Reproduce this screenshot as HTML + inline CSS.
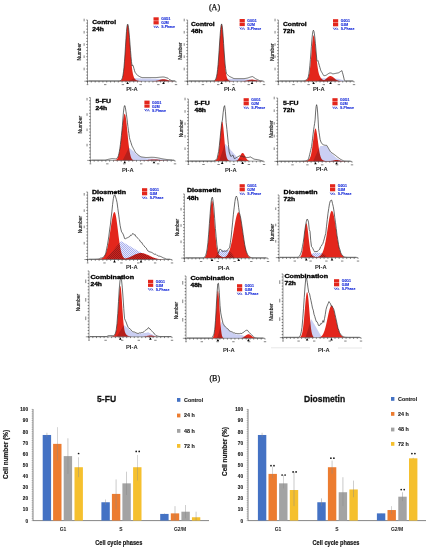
<!DOCTYPE html>
<html><head><meta charset="utf-8"><style>
html,body{margin:0;padding:0;background:#fff;}
svg{display:block;font-family:"Liberation Sans",sans-serif;}
</style></head><body>
<svg width="430" height="550" viewBox="0 0 430 550">
<defs><pattern id="hatch" x="0" y="0" width="2" height="2" patternUnits="userSpaceOnUse">
<rect width="1" height="1" fill="#bac1f2"/><rect x="1" y="1" width="1" height="1" fill="#bac1f2"/></pattern></defs>
<rect width="430" height="550" fill="#fff"/>
<text x="214.5" y="9.6" font-family="Liberation Serif" font-size="8.0" text-anchor="middle" fill="#111" stroke="#111" stroke-width="0.25">(A)</text>
<path d="M88.50 81.20 L88.50 81.20 L89.00 81.20 L89.50 81.20 L90.00 81.20 L90.50 81.20 L91.00 81.20 L91.50 81.20 L92.00 81.20 L92.50 81.20 L93.00 81.20 L93.50 81.20 L94.00 81.20 L94.50 81.20 L95.00 81.20 L95.50 81.20 L96.00 81.20 L96.50 81.20 L97.00 81.20 L97.50 81.20 L98.00 81.20 L98.50 81.20 L99.00 81.20 L99.50 81.20 L100.00 81.20 L100.50 81.20 L101.00 81.20 L101.50 81.20 L102.00 81.20 L102.50 81.20 L103.00 81.20 L103.50 81.20 L104.00 81.20 L104.50 81.20 L105.00 81.20 L105.50 81.20 L106.00 81.20 L106.50 81.20 L107.00 81.20 L107.50 81.20 L108.00 81.20 L108.50 81.20 L109.00 81.20 L109.50 81.20 L110.00 81.20 L110.50 81.20 L111.00 81.20 L111.50 81.20 L112.00 81.20 L112.50 81.20 L113.00 81.20 L113.50 81.20 L114.00 81.20 L114.50 81.20 L115.00 81.20 L115.50 81.20 L116.00 81.20 L116.50 81.20 L117.00 81.20 L117.50 81.19 L118.00 81.18 L118.50 81.17 L119.00 81.15 L119.50 81.10 L120.00 81.02 L120.50 80.86 L121.00 80.57 L121.50 80.05 L122.00 79.16 L122.50 77.70 L123.00 75.43 L123.50 72.08 L124.00 67.45 L124.50 61.47 L125.00 54.31 L125.50 46.43 L126.00 38.57 L126.50 31.69 L127.00 26.73 L127.50 24.43 L128.00 24.94 L128.50 27.74 L129.00 32.40 L129.50 38.36 L130.00 45.00 L130.50 51.70 L131.00 57.96 L131.50 63.43 L132.00 67.95 L132.50 71.50 L133.00 74.16 L133.50 76.10 L134.00 77.47 L134.50 78.43 L135.00 79.10 L135.50 79.58 L136.00 79.93 L136.50 80.20 L137.00 80.40 L137.50 80.57 L138.00 80.71 L138.50 80.82 L139.00 80.90 L139.50 80.97 L140.00 81.03 L140.50 81.07 L141.00 81.11 L141.50 81.13 L142.00 81.15 L142.50 81.17 L143.00 81.18 L143.50 81.18 L144.00 81.19 L144.50 81.19 L145.00 81.19 L145.50 81.20 L146.00 81.20 L146.50 81.20 L147.00 81.20 L147.50 81.20 L148.00 81.20 L148.50 81.20 L149.00 81.20 L149.50 81.20 L150.00 81.20 L150.50 81.20 L151.00 81.20 L151.50 81.20 L152.00 81.20 L152.50 81.20 L153.00 81.20 L153.50 81.20 L154.00 81.20 L154.50 81.20 L155.00 81.20 L155.50 81.20 L156.00 81.20 L156.50 81.20 L157.00 81.20 L157.50 81.20 L158.00 81.20 L158.50 81.20 L159.00 81.20 L159.50 81.20 L160.00 81.20 L160.50 81.20 L161.00 81.20 L161.50 81.20 L162.00 81.20 L162.50 81.20 L163.00 81.20 L163.50 81.20 L164.00 81.20 L164.50 81.20 L165.00 81.20 L165.50 81.20 L166.00 81.20 L166.50 81.20 L167.00 81.20 L167.50 81.20 L168.00 81.20 L168.50 81.20 L169.00 81.20 L169.50 81.20 L170.00 81.20 L170.50 81.20 L171.00 81.20 L171.50 81.20 L172.00 81.20 L172.50 81.20 L173.00 81.20 L173.50 81.20 L174.00 81.20 L174.50 81.20 L175.00 81.20 L175.00 81.20 Z" fill="#e3261c"/>
<path d="M88.50 81.20 L88.50 81.20 L89.00 81.20 L89.50 81.20 L90.00 81.20 L90.50 81.20 L91.00 81.20 L91.50 81.20 L92.00 81.20 L92.50 81.20 L93.00 81.20 L93.50 81.20 L94.00 81.20 L94.50 81.20 L95.00 81.20 L95.50 81.20 L96.00 81.20 L96.50 81.20 L97.00 81.20 L97.50 81.20 L98.00 81.20 L98.50 81.20 L99.00 81.20 L99.50 81.20 L100.00 81.20 L100.50 81.20 L101.00 81.20 L101.50 81.20 L102.00 81.20 L102.50 81.20 L103.00 81.20 L103.50 81.20 L104.00 81.20 L104.50 81.20 L105.00 81.20 L105.50 81.20 L106.00 81.20 L106.50 81.20 L107.00 81.20 L107.50 81.20 L108.00 81.20 L108.50 81.20 L109.00 81.20 L109.50 81.20 L110.00 81.20 L110.50 81.20 L111.00 81.20 L111.50 81.20 L112.00 81.20 L112.50 81.20 L113.00 81.20 L113.50 81.20 L114.00 81.20 L114.50 81.20 L115.00 81.20 L115.50 81.20 L116.00 81.20 L116.50 81.20 L117.00 81.20 L117.50 81.20 L118.00 81.20 L118.50 81.20 L119.00 81.20 L119.50 81.20 L120.00 81.20 L120.50 81.20 L121.00 81.20 L121.50 81.20 L122.00 81.20 L122.50 81.20 L123.00 81.20 L123.50 81.20 L124.00 81.20 L124.50 81.20 L125.00 81.20 L125.50 81.20 L126.00 81.20 L126.50 81.20 L127.00 81.20 L127.50 81.20 L128.00 81.20 L128.50 81.20 L129.00 81.20 L129.50 81.20 L130.00 81.20 L130.50 81.20 L131.00 81.20 L131.50 81.20 L132.00 81.20 L132.50 81.20 L133.00 81.20 L133.50 81.20 L134.00 81.20 L134.50 81.20 L135.00 81.20 L135.50 81.20 L136.00 81.20 L136.50 81.20 L137.00 81.20 L137.50 81.20 L138.00 81.20 L138.50 81.20 L139.00 81.20 L139.50 81.20 L140.00 81.20 L140.50 81.20 L141.00 81.20 L141.50 81.20 L142.00 81.20 L142.50 81.20 L143.00 81.20 L143.50 81.20 L144.00 81.20 L144.50 81.20 L145.00 81.20 L145.50 81.20 L146.00 81.20 L146.50 81.20 L147.00 81.20 L147.50 81.20 L148.00 81.20 L148.50 81.20 L149.00 81.20 L149.50 81.20 L150.00 81.19 L150.50 81.19 L151.00 81.18 L151.50 81.18 L152.00 81.17 L152.50 81.15 L153.00 81.14 L153.50 81.11 L154.00 81.08 L154.50 81.04 L155.00 80.99 L155.50 80.93 L156.00 80.86 L156.50 80.77 L157.00 80.67 L157.50 80.55 L158.00 80.42 L158.50 80.28 L159.00 80.14 L159.50 79.99 L160.00 79.84 L160.50 79.69 L161.00 79.55 L161.50 79.44 L162.00 79.34 L162.50 79.26 L163.00 79.22 L163.50 79.20 L164.00 79.22 L164.50 79.26 L165.00 79.34 L165.50 79.44 L166.00 79.55 L166.50 79.69 L167.00 79.84 L167.50 79.99 L168.00 80.14 L168.50 80.28 L169.00 80.42 L169.50 80.55 L170.00 80.67 L170.50 80.77 L171.00 80.86 L171.50 80.93 L172.00 80.99 L172.50 81.04 L173.00 81.08 L173.50 81.11 L174.00 81.14 L174.50 81.15 L175.00 81.17 L175.00 81.20 Z" fill="#e3261c"/>
<path d="M88.50 81.20 L88.50 81.20 L89.00 81.20 L89.50 81.20 L90.00 81.20 L90.50 81.20 L91.00 81.20 L91.50 81.20 L92.00 81.20 L92.50 81.20 L93.00 81.20 L93.50 81.20 L94.00 81.20 L94.50 81.20 L95.00 81.20 L95.50 81.20 L96.00 81.20 L96.50 81.20 L97.00 81.20 L97.50 81.20 L98.00 81.20 L98.50 81.20 L99.00 81.20 L99.50 81.20 L100.00 81.20 L100.50 81.20 L101.00 81.20 L101.50 81.20 L102.00 81.20 L102.50 81.20 L103.00 81.20 L103.50 81.20 L104.00 81.20 L104.50 81.20 L105.00 81.20 L105.50 81.20 L106.00 81.20 L106.50 81.20 L107.00 81.20 L107.50 81.20 L108.00 81.20 L108.50 81.20 L109.00 81.20 L109.50 81.20 L110.00 81.20 L110.50 81.20 L111.00 81.20 L111.50 81.20 L112.00 81.20 L112.50 81.20 L113.00 81.20 L113.50 81.20 L114.00 81.20 L114.50 81.20 L115.00 81.20 L115.50 81.20 L116.00 81.20 L116.50 81.20 L117.00 81.20 L117.50 81.20 L118.00 81.20 L118.50 81.20 L119.00 81.20 L119.50 81.20 L120.00 81.20 L120.50 81.20 L121.00 81.20 L121.50 81.20 L122.00 81.20 L122.50 81.20 L123.00 81.20 L123.50 81.20 L124.00 81.20 L124.50 81.20 L125.00 81.20 L125.50 81.20 L126.00 81.20 L126.50 81.20 L127.00 81.20 L127.50 81.20 L128.00 81.20 L128.50 81.20 L129.00 81.20 L129.50 80.90 L130.00 80.60 L130.50 80.30 L131.00 80.00 L131.50 79.70 L132.00 79.40 L132.50 79.10 L133.00 78.80 L133.50 78.50 L134.00 78.20 L134.50 78.21 L135.00 78.23 L135.50 78.24 L136.00 78.25 L136.50 78.26 L137.00 78.28 L137.50 78.29 L138.00 78.30 L138.50 78.31 L139.00 78.33 L139.50 78.34 L140.00 78.35 L140.50 78.36 L141.00 78.38 L141.50 78.39 L142.00 78.40 L142.50 78.41 L143.00 78.42 L143.50 78.44 L144.00 78.45 L144.50 78.46 L145.00 78.48 L145.50 78.49 L146.00 78.50 L146.50 78.51 L147.00 78.53 L147.50 78.54 L148.00 78.55 L148.50 78.56 L149.00 78.58 L149.50 78.59 L150.00 78.60 L150.50 78.61 L151.00 78.62 L151.50 78.64 L152.00 78.65 L152.50 78.66 L153.00 78.67 L153.50 78.69 L154.00 78.70 L154.50 78.71 L155.00 78.73 L155.50 78.74 L156.00 78.75 L156.50 78.76 L157.00 78.78 L157.50 78.79 L158.00 78.80 L158.50 78.85 L159.00 78.90 L159.50 78.95 L160.00 79.00 L160.50 79.05 L161.00 79.10 L161.50 79.15 L162.00 79.20 L162.50 79.25 L163.00 79.30 L163.50 79.35 L164.00 79.40 L164.50 79.45 L165.00 79.50 L165.50 79.55 L166.00 79.60 L166.50 79.73 L167.00 79.87 L167.50 80.00 L168.00 80.13 L168.50 80.27 L169.00 80.40 L169.50 80.53 L170.00 80.67 L170.50 80.80 L171.00 80.93 L171.50 81.07 L172.00 81.20 L172.50 81.20 L173.00 81.20 L173.50 81.20 L174.00 81.20 L174.50 81.20 L175.00 81.20 L175.00 81.20 Z" fill="#cbcff3" style="mix-blend-mode:multiply"/>
<path d="M88.50 80.90 L89.00 80.90 L89.50 80.90 L90.00 80.90 L90.50 80.90 L91.00 80.90 L91.50 80.90 L92.00 80.90 L92.50 80.90 L93.00 80.90 L93.50 80.90 L94.00 80.90 L94.50 80.90 L95.00 80.90 L95.50 80.90 L96.00 80.90 L96.50 80.90 L97.00 80.90 L97.50 80.90 L98.00 80.90 L98.50 80.90 L99.00 80.90 L99.50 80.90 L100.00 80.90 L100.50 80.90 L101.00 80.90 L101.50 80.90 L102.00 80.90 L102.50 80.90 L103.00 80.90 L103.50 80.90 L104.00 80.90 L104.50 80.90 L105.00 80.90 L105.50 80.90 L106.00 80.90 L106.50 80.90 L107.00 80.90 L107.50 80.90 L108.00 80.90 L108.50 80.90 L109.00 80.90 L109.50 80.90 L110.00 80.90 L110.50 80.90 L111.00 80.90 L111.50 80.90 L112.00 80.90 L112.50 80.90 L113.00 80.90 L113.50 80.90 L114.00 80.90 L114.50 80.90 L115.00 80.90 L115.50 80.90 L116.00 80.90 L116.50 80.90 L117.00 80.90 L117.50 80.89 L118.00 80.88 L118.50 80.87 L119.00 80.85 L119.50 80.80 L120.00 80.72 L120.50 80.56 L121.00 80.27 L121.50 79.75 L122.00 78.86 L122.50 77.40 L123.00 75.13 L123.50 71.78 L124.00 67.15 L124.50 61.17 L125.00 54.01 L125.50 46.13 L126.00 38.27 L126.50 31.39 L127.00 26.43 L127.50 24.13 L128.00 24.64 L128.50 27.44 L129.00 32.10 L129.50 37.76 L130.00 44.10 L130.50 50.50 L131.00 56.46 L131.50 61.63 L132.00 65.83 L132.50 65.06 L133.00 65.29 L133.50 67.02 L134.00 68.75 L134.50 70.47 L135.00 72.20 L135.50 72.85 L136.00 73.50 L136.50 74.16 L137.00 74.81 L137.50 75.32 L138.00 75.61 L138.50 75.91 L139.00 76.21 L139.50 76.50 L140.00 76.80 L140.50 77.00 L141.00 77.20 L141.50 77.40 L142.00 77.60 L142.50 77.60 L143.00 77.60 L143.50 77.60 L144.00 77.60 L144.50 77.60 L145.00 77.60 L145.50 77.60 L146.00 77.60 L146.50 77.60 L147.00 77.60 L147.50 77.60 L148.00 77.60 L148.50 77.60 L149.00 77.60 L149.50 77.60 L150.00 77.60 L150.50 77.60 L151.00 77.60 L151.50 77.60 L152.00 77.60 L152.50 77.60 L153.00 77.60 L153.50 77.60 L154.00 77.60 L154.50 77.60 L155.00 77.60 L155.50 77.60 L156.00 77.60 L156.50 77.55 L157.00 77.50 L157.50 77.45 L158.00 77.40 L158.50 77.35 L159.00 77.30 L159.50 77.25 L160.00 77.20 L160.50 77.17 L161.00 77.15 L161.50 77.09 L162.00 77.04 L162.50 77.01 L163.00 77.02 L163.50 77.03 L164.00 77.00 L164.50 77.15 L165.00 77.30 L165.50 77.45 L166.00 77.60 L166.50 77.75 L167.00 77.90 L167.50 78.05 L168.00 78.20 L168.50 78.70 L169.00 79.20 L169.50 79.58 L170.00 79.83 L170.50 80.07 L171.00 80.29 L171.50 80.50 L172.00 80.69 L172.50 80.74 L173.00 80.78 L173.50 80.81 L174.00 80.84 L174.50 80.85 L175.00 80.87" fill="none" stroke="#2c2c2c" stroke-width="0.7"/>
<path d="M87.5 20.0 V84.4 M84.3 81.2 H176.0" fill="none" stroke="#555" stroke-width="0.6"/>
<line x1="86.2" y1="81.2" x2="87.5" y2="81.2" stroke="#222" stroke-width="0.55"/>
<line x1="86.2" y1="78.1" x2="87.5" y2="78.1" stroke="#222" stroke-width="0.55"/>
<line x1="86.2" y1="75.1" x2="87.5" y2="75.1" stroke="#222" stroke-width="0.55"/>
<line x1="86.2" y1="72.0" x2="87.5" y2="72.0" stroke="#222" stroke-width="0.55"/>
<line x1="86.2" y1="69.0" x2="87.5" y2="69.0" stroke="#222" stroke-width="0.55"/>
<line x1="86.2" y1="65.9" x2="87.5" y2="65.9" stroke="#222" stroke-width="0.55"/>
<line x1="86.2" y1="62.8" x2="87.5" y2="62.8" stroke="#222" stroke-width="0.55"/>
<line x1="86.2" y1="59.8" x2="87.5" y2="59.8" stroke="#222" stroke-width="0.55"/>
<line x1="86.2" y1="56.7" x2="87.5" y2="56.7" stroke="#222" stroke-width="0.55"/>
<line x1="86.2" y1="53.7" x2="87.5" y2="53.7" stroke="#222" stroke-width="0.55"/>
<line x1="86.2" y1="50.6" x2="87.5" y2="50.6" stroke="#222" stroke-width="0.55"/>
<line x1="86.2" y1="47.5" x2="87.5" y2="47.5" stroke="#222" stroke-width="0.55"/>
<line x1="86.2" y1="44.5" x2="87.5" y2="44.5" stroke="#222" stroke-width="0.55"/>
<line x1="86.2" y1="41.4" x2="87.5" y2="41.4" stroke="#222" stroke-width="0.55"/>
<line x1="86.2" y1="38.4" x2="87.5" y2="38.4" stroke="#222" stroke-width="0.55"/>
<line x1="86.2" y1="35.3" x2="87.5" y2="35.3" stroke="#222" stroke-width="0.55"/>
<line x1="86.2" y1="32.2" x2="87.5" y2="32.2" stroke="#222" stroke-width="0.55"/>
<line x1="86.2" y1="29.2" x2="87.5" y2="29.2" stroke="#222" stroke-width="0.55"/>
<line x1="86.2" y1="26.1" x2="87.5" y2="26.1" stroke="#222" stroke-width="0.55"/>
<line x1="86.2" y1="23.1" x2="87.5" y2="23.1" stroke="#222" stroke-width="0.55"/>
<line x1="86.2" y1="20.0" x2="87.5" y2="20.0" stroke="#222" stroke-width="0.55"/>
<line x1="87.5" y1="81.2" x2="87.5" y2="82.5" stroke="#222" stroke-width="0.55"/>
<line x1="91.3" y1="81.2" x2="91.3" y2="82.5" stroke="#222" stroke-width="0.55"/>
<line x1="95.2" y1="81.2" x2="95.2" y2="82.5" stroke="#222" stroke-width="0.55"/>
<line x1="99.0" y1="81.2" x2="99.0" y2="82.5" stroke="#222" stroke-width="0.55"/>
<line x1="102.9" y1="81.2" x2="102.9" y2="82.5" stroke="#222" stroke-width="0.55"/>
<line x1="106.7" y1="81.2" x2="106.7" y2="82.5" stroke="#222" stroke-width="0.55"/>
<line x1="110.6" y1="81.2" x2="110.6" y2="82.5" stroke="#222" stroke-width="0.55"/>
<line x1="114.4" y1="81.2" x2="114.4" y2="82.5" stroke="#222" stroke-width="0.55"/>
<line x1="118.3" y1="81.2" x2="118.3" y2="82.5" stroke="#222" stroke-width="0.55"/>
<line x1="122.1" y1="81.2" x2="122.1" y2="82.5" stroke="#222" stroke-width="0.55"/>
<line x1="126.0" y1="81.2" x2="126.0" y2="82.5" stroke="#222" stroke-width="0.55"/>
<line x1="129.8" y1="81.2" x2="129.8" y2="82.5" stroke="#222" stroke-width="0.55"/>
<line x1="133.7" y1="81.2" x2="133.7" y2="82.5" stroke="#222" stroke-width="0.55"/>
<line x1="137.5" y1="81.2" x2="137.5" y2="82.5" stroke="#222" stroke-width="0.55"/>
<line x1="141.4" y1="81.2" x2="141.4" y2="82.5" stroke="#222" stroke-width="0.55"/>
<line x1="145.2" y1="81.2" x2="145.2" y2="82.5" stroke="#222" stroke-width="0.55"/>
<line x1="149.1" y1="81.2" x2="149.1" y2="82.5" stroke="#222" stroke-width="0.55"/>
<line x1="152.9" y1="81.2" x2="152.9" y2="82.5" stroke="#222" stroke-width="0.55"/>
<line x1="156.8" y1="81.2" x2="156.8" y2="82.5" stroke="#222" stroke-width="0.55"/>
<line x1="160.6" y1="81.2" x2="160.6" y2="82.5" stroke="#222" stroke-width="0.55"/>
<line x1="164.5" y1="81.2" x2="164.5" y2="82.5" stroke="#222" stroke-width="0.55"/>
<line x1="168.3" y1="81.2" x2="168.3" y2="82.5" stroke="#222" stroke-width="0.55"/>
<line x1="172.2" y1="81.2" x2="172.2" y2="82.5" stroke="#222" stroke-width="0.55"/>
<line x1="176.0" y1="81.2" x2="176.0" y2="82.5" stroke="#222" stroke-width="0.55"/>
<path d="M127.6 81.7 l1.3 2.4 h-2.6 z" fill="#000"/>
<path d="M163.5 81.7 l1.3 2.4 h-2.6 z" fill="#000"/>
<rect x="86.7" y="84.2" width="1.6" height="0.9" fill="#777"/>
<rect x="104.0" y="84.2" width="2.4" height="0.9" fill="#777"/>
<rect x="121.7" y="84.2" width="2.4" height="0.9" fill="#777"/>
<rect x="139.4" y="84.2" width="2.4" height="0.9" fill="#777"/>
<rect x="157.1" y="84.2" width="2.4" height="0.9" fill="#777"/>
<rect x="174.8" y="84.2" width="2.4" height="0.9" fill="#777"/>
<rect x="83.5" y="67.7" width="1.3" height="2.6" fill="#a0a0a0"/>
<rect x="83.5" y="55.4" width="1.3" height="2.6" fill="#a0a0a0"/>
<rect x="83.5" y="43.2" width="1.3" height="2.6" fill="#a0a0a0"/>
<rect x="83.5" y="30.9" width="1.3" height="2.6" fill="#a0a0a0"/>
<rect x="83.5" y="18.7" width="1.3" height="2.6" fill="#a0a0a0"/>
<text transform="translate(81.3 51.8) rotate(-90)" font-size="5.0" text-anchor="middle" fill="#1a1a1a" stroke="#1a1a1a" stroke-width="0.18" textLength="17.5" lengthAdjust="spacingAndGlyphs">Number</text>
<text x="126.2" y="91.1" font-size="4.5" font-weight="bold" fill="#222" textLength="11.6" lengthAdjust="spacingAndGlyphs">PI-A</text>
<text x="92.3" y="24.0" font-size="5.8" font-weight="bold" fill="#000" stroke="#000" stroke-width="0.3" textLength="23.7" lengthAdjust="spacingAndGlyphs">Control</text>
<text x="92.3" y="31.2" font-size="5.8" font-weight="bold" fill="#000" stroke="#000" stroke-width="0.3" textLength="11.6" lengthAdjust="spacingAndGlyphs">24h</text>
<rect x="153.5" y="17.3" width="5.2" height="3.4" fill="#e3261c"/>
<rect x="153.5" y="21.1" width="5.2" height="3.3" fill="#e3261c"/>
<path d="M153.8 25.8 l1.3 2.2 M155.5 25.8 l1.3 2.2 M157.2 25.8 l1.3 2.2" stroke="#1a2ac8" stroke-width="0.8"/>
<text x="161.2" y="20.4" font-size="3.5" font-weight="bold" fill="#1428d8" stroke="#1428d8" stroke-width="0.08">G0G1</text>
<text x="161.2" y="24.3" font-size="3.5" font-weight="bold" fill="#1428d8" stroke="#1428d8" stroke-width="0.08">G2M</text>
<text x="161.2" y="28.4" font-size="3.5" font-weight="bold" fill="#1428d8" stroke="#1428d8" stroke-width="0.08">S-Phase</text>
<path d="M188.60 81.20 L188.60 81.20 L189.10 81.20 L189.60 81.20 L190.10 81.20 L190.60 81.20 L191.10 81.20 L191.60 81.20 L192.10 81.20 L192.60 81.20 L193.10 81.20 L193.60 81.20 L194.10 81.20 L194.60 81.20 L195.10 81.20 L195.60 81.20 L196.10 81.20 L196.60 81.20 L197.10 81.20 L197.60 81.20 L198.10 81.20 L198.60 81.20 L199.10 81.20 L199.60 81.20 L200.10 81.20 L200.60 81.20 L201.10 81.20 L201.60 81.20 L202.10 81.20 L202.60 81.20 L203.10 81.20 L203.60 81.20 L204.10 81.20 L204.60 81.20 L205.10 81.20 L205.60 81.20 L206.10 81.20 L206.60 81.20 L207.10 81.20 L207.60 81.20 L208.10 81.20 L208.60 81.20 L209.10 81.20 L209.60 81.20 L210.10 81.20 L210.60 81.20 L211.10 81.20 L211.60 81.19 L212.10 81.18 L212.60 81.17 L213.10 81.13 L213.60 81.07 L214.10 80.94 L214.60 80.71 L215.10 80.30 L215.60 79.58 L216.10 78.39 L216.60 76.53 L217.10 73.74 L217.60 69.84 L218.10 64.68 L218.60 58.31 L219.10 51.01 L219.60 43.30 L220.10 35.94 L220.60 29.81 L221.10 25.71 L221.60 24.23 L222.10 25.71 L222.60 30.02 L223.10 36.47 L223.60 44.12 L224.10 52.00 L224.60 59.31 L225.10 65.51 L225.60 70.40 L226.10 73.99 L226.60 76.48 L227.10 78.12 L227.60 79.16 L228.10 79.81 L228.60 80.22 L229.10 80.49 L229.60 80.67 L230.10 80.80 L230.60 80.90 L231.10 80.97 L231.60 81.03 L232.10 81.08 L232.60 81.11 L233.10 81.14 L233.60 81.16 L234.10 81.17 L234.60 81.18 L235.10 81.19 L235.60 81.19 L236.10 81.19 L236.60 81.20 L237.10 81.20 L237.60 81.20 L238.10 81.20 L238.60 81.20 L239.10 81.20 L239.60 81.20 L240.10 81.20 L240.60 81.20 L241.10 81.20 L241.60 81.20 L242.10 81.20 L242.60 81.20 L243.10 81.20 L243.60 81.20 L244.10 81.20 L244.60 81.20 L245.10 81.20 L245.60 81.20 L246.10 81.20 L246.60 81.20 L247.10 81.20 L247.60 81.20 L248.10 81.20 L248.60 81.20 L249.10 81.20 L249.60 81.20 L250.10 81.20 L250.60 81.20 L251.10 81.20 L251.60 81.20 L252.10 81.20 L252.60 81.20 L253.10 81.20 L253.60 81.20 L254.10 81.20 L254.60 81.20 L255.10 81.20 L255.60 81.20 L256.10 81.20 L256.60 81.20 L257.10 81.20 L257.60 81.20 L258.10 81.20 L258.60 81.20 L259.10 81.20 L259.60 81.20 L260.10 81.20 L260.60 81.20 L261.10 81.20 L261.60 81.20 L262.10 81.20 L262.60 81.20 L263.00 81.20 Z" fill="#e3261c"/>
<path d="M188.60 81.20 L188.60 81.20 L189.10 81.20 L189.60 81.20 L190.10 81.20 L190.60 81.20 L191.10 81.20 L191.60 81.20 L192.10 81.20 L192.60 81.20 L193.10 81.20 L193.60 81.20 L194.10 81.20 L194.60 81.20 L195.10 81.20 L195.60 81.20 L196.10 81.20 L196.60 81.20 L197.10 81.20 L197.60 81.20 L198.10 81.20 L198.60 81.20 L199.10 81.20 L199.60 81.20 L200.10 81.20 L200.60 81.20 L201.10 81.20 L201.60 81.20 L202.10 81.20 L202.60 81.20 L203.10 81.20 L203.60 81.20 L204.10 81.20 L204.60 81.20 L205.10 81.20 L205.60 81.20 L206.10 81.20 L206.60 81.20 L207.10 81.20 L207.60 81.20 L208.10 81.20 L208.60 81.20 L209.10 81.20 L209.60 81.20 L210.10 81.20 L210.60 81.20 L211.10 81.20 L211.60 81.20 L212.10 81.20 L212.60 81.20 L213.10 81.20 L213.60 81.20 L214.10 81.20 L214.60 81.20 L215.10 81.20 L215.60 81.20 L216.10 81.20 L216.60 81.20 L217.10 81.20 L217.60 81.20 L218.10 81.20 L218.60 81.20 L219.10 81.20 L219.60 81.20 L220.10 81.20 L220.60 81.20 L221.10 81.20 L221.60 81.20 L222.10 81.20 L222.60 81.20 L223.10 81.20 L223.60 81.20 L224.10 81.20 L224.60 81.20 L225.10 81.20 L225.60 81.20 L226.10 81.20 L226.60 81.20 L227.10 81.20 L227.60 81.20 L228.10 81.20 L228.60 81.20 L229.10 81.20 L229.60 81.20 L230.10 81.20 L230.60 81.20 L231.10 81.20 L231.60 81.20 L232.10 81.20 L232.60 81.20 L233.10 81.20 L233.60 81.20 L234.10 81.20 L234.60 81.20 L235.10 81.20 L235.60 81.20 L236.10 81.20 L236.60 81.20 L237.10 81.20 L237.60 81.20 L238.10 81.20 L238.60 81.19 L239.10 81.19 L239.60 81.19 L240.10 81.18 L240.60 81.17 L241.10 81.16 L241.60 81.15 L242.10 81.13 L242.60 81.10 L243.10 81.07 L243.60 81.02 L244.10 80.97 L244.60 80.91 L245.10 80.84 L245.60 80.76 L246.10 80.66 L246.60 80.56 L247.10 80.44 L247.60 80.33 L248.10 80.21 L248.60 80.09 L249.10 79.97 L249.60 79.86 L250.10 79.77 L250.60 79.70 L251.10 79.64 L251.60 79.61 L252.10 79.60 L252.60 79.62 L253.10 79.66 L253.60 79.72 L254.10 79.81 L254.60 79.90 L255.10 80.02 L255.60 80.13 L256.10 80.25 L256.60 80.37 L257.10 80.49 L257.60 80.60 L258.10 80.70 L258.60 80.79 L259.10 80.87 L259.60 80.94 L260.10 80.99 L260.60 81.04 L261.10 81.08 L261.60 81.11 L262.10 81.13 L262.60 81.15 L263.00 81.20 Z" fill="#e3261c"/>
<path d="M188.60 81.20 L188.60 81.20 L189.10 81.20 L189.60 81.20 L190.10 81.20 L190.60 81.20 L191.10 81.20 L191.60 81.20 L192.10 81.20 L192.60 81.20 L193.10 81.20 L193.60 81.20 L194.10 81.20 L194.60 81.20 L195.10 81.20 L195.60 81.20 L196.10 81.20 L196.60 81.20 L197.10 81.20 L197.60 81.20 L198.10 81.20 L198.60 81.20 L199.10 81.20 L199.60 81.20 L200.10 81.20 L200.60 81.20 L201.10 81.20 L201.60 81.20 L202.10 81.20 L202.60 81.20 L203.10 81.20 L203.60 81.20 L204.10 81.20 L204.60 81.20 L205.10 81.20 L205.60 81.20 L206.10 81.20 L206.60 81.20 L207.10 81.20 L207.60 81.20 L208.10 81.20 L208.60 81.20 L209.10 81.20 L209.60 81.20 L210.10 81.20 L210.60 81.20 L211.10 81.20 L211.60 81.20 L212.10 81.20 L212.60 81.20 L213.10 81.20 L213.60 81.20 L214.10 81.20 L214.60 81.20 L215.10 81.20 L215.60 81.20 L216.10 81.20 L216.60 81.20 L217.10 81.20 L217.60 81.20 L218.10 81.20 L218.60 81.20 L219.10 81.20 L219.60 81.20 L220.10 81.20 L220.60 81.20 L221.10 81.20 L221.60 81.20 L222.10 81.20 L222.60 81.20 L223.10 81.14 L223.60 80.83 L224.10 80.51 L224.60 80.20 L225.10 79.89 L225.60 79.58 L226.10 79.26 L226.60 78.95 L227.10 78.70 L227.60 78.71 L228.10 78.73 L228.60 78.74 L229.10 78.75 L229.60 78.76 L230.10 78.77 L230.60 78.79 L231.10 78.80 L231.60 78.81 L232.10 78.82 L232.60 78.83 L233.10 78.85 L233.60 78.86 L234.10 78.87 L234.60 78.88 L235.10 78.89 L235.60 78.90 L236.10 78.92 L236.60 78.93 L237.10 78.94 L237.60 78.95 L238.10 78.96 L238.60 78.98 L239.10 78.99 L239.60 79.00 L240.10 79.01 L240.60 79.02 L241.10 79.04 L241.60 79.05 L242.10 79.06 L242.60 79.07 L243.10 79.08 L243.60 79.10 L244.10 79.11 L244.60 79.12 L245.10 79.13 L245.60 79.14 L246.10 79.15 L246.60 79.17 L247.10 79.18 L247.60 79.19 L248.10 79.21 L248.60 79.28 L249.10 79.34 L249.60 79.40 L250.10 79.46 L250.60 79.53 L251.10 79.59 L251.60 79.65 L252.10 79.71 L252.60 79.78 L253.10 79.84 L253.60 79.90 L254.10 79.96 L254.60 80.03 L255.10 80.09 L255.60 80.15 L256.10 80.23 L256.60 80.35 L257.10 80.48 L257.60 80.60 L258.10 80.73 L258.60 80.85 L259.10 80.98 L259.60 81.10 L260.10 81.20 L260.60 81.20 L261.10 81.20 L261.60 81.20 L262.10 81.20 L262.60 81.20 L263.00 81.20 Z" fill="#cbcff3" style="mix-blend-mode:multiply"/>
<path d="M188.60 80.90 L189.10 80.90 L189.60 80.90 L190.10 80.90 L190.60 80.90 L191.10 80.90 L191.60 80.90 L192.10 80.90 L192.60 80.90 L193.10 80.90 L193.60 80.90 L194.10 80.90 L194.60 80.90 L195.10 80.90 L195.60 80.90 L196.10 80.90 L196.60 80.90 L197.10 80.90 L197.60 80.90 L198.10 80.90 L198.60 80.90 L199.10 80.90 L199.60 80.90 L200.10 80.90 L200.60 80.90 L201.10 80.90 L201.60 80.90 L202.10 80.90 L202.60 80.90 L203.10 80.90 L203.60 80.90 L204.10 80.90 L204.60 80.90 L205.10 80.90 L205.60 80.90 L206.10 80.90 L206.60 80.90 L207.10 80.90 L207.60 80.90 L208.10 80.90 L208.60 80.90 L209.10 80.90 L209.60 80.90 L210.10 80.90 L210.60 80.90 L211.10 80.90 L211.60 80.89 L212.10 80.88 L212.60 80.87 L213.10 80.83 L213.60 80.77 L214.10 80.64 L214.60 80.41 L215.10 80.00 L215.60 79.28 L216.10 78.09 L216.60 76.23 L217.10 73.44 L217.60 69.54 L218.10 64.38 L218.60 58.01 L219.10 50.71 L219.60 43.00 L220.10 35.64 L220.60 29.51 L221.10 25.41 L221.60 23.93 L222.10 25.41 L222.60 29.72 L223.10 36.11 L223.60 43.44 L224.10 51.01 L224.60 58.01 L225.10 63.90 L225.60 68.47 L226.10 71.75 L226.60 73.80 L227.10 74.30 L227.60 74.80 L228.10 75.30 L228.60 75.80 L229.10 76.25 L229.60 76.49 L230.10 76.73 L230.60 76.97 L231.10 77.21 L231.60 77.45 L232.10 77.69 L232.60 77.93 L233.10 78.17 L233.60 78.41 L234.10 78.54 L234.60 78.56 L235.10 78.58 L235.60 78.60 L236.10 78.60 L236.60 78.60 L237.10 78.60 L237.60 78.60 L238.10 78.60 L238.60 78.60 L239.10 78.60 L239.60 78.60 L240.10 78.60 L240.60 78.60 L241.10 78.60 L241.60 78.60 L242.10 78.60 L242.60 78.60 L243.10 78.60 L243.60 78.60 L244.10 78.58 L244.60 78.53 L245.10 78.47 L245.60 78.40 L246.10 78.32 L246.60 78.22 L247.10 78.12 L247.60 78.02 L248.10 77.87 L248.60 77.69 L249.10 77.52 L249.60 77.34 L250.10 77.17 L250.60 77.03 L251.10 76.88 L251.60 76.73 L252.10 76.59 L252.60 76.63 L253.10 76.96 L253.60 77.28 L254.10 77.61 L254.60 77.94 L255.10 78.35 L255.60 78.78 L256.10 78.98 L256.60 79.22 L257.10 79.47 L257.60 79.70 L258.10 79.92 L258.60 80.14 L259.10 80.34 L259.60 80.54 L260.10 80.69 L260.60 80.74 L261.10 80.78 L261.60 80.81 L262.10 80.83 L262.60 80.85" fill="none" stroke="#2c2c2c" stroke-width="0.7"/>
<path d="M187.6 20.0 V84.4 M184.4 81.2 H264.0" fill="none" stroke="#555" stroke-width="0.6"/>
<line x1="186.3" y1="81.2" x2="187.6" y2="81.2" stroke="#222" stroke-width="0.55"/>
<line x1="186.3" y1="78.1" x2="187.6" y2="78.1" stroke="#222" stroke-width="0.55"/>
<line x1="186.3" y1="75.1" x2="187.6" y2="75.1" stroke="#222" stroke-width="0.55"/>
<line x1="186.3" y1="72.0" x2="187.6" y2="72.0" stroke="#222" stroke-width="0.55"/>
<line x1="186.3" y1="69.0" x2="187.6" y2="69.0" stroke="#222" stroke-width="0.55"/>
<line x1="186.3" y1="65.9" x2="187.6" y2="65.9" stroke="#222" stroke-width="0.55"/>
<line x1="186.3" y1="62.8" x2="187.6" y2="62.8" stroke="#222" stroke-width="0.55"/>
<line x1="186.3" y1="59.8" x2="187.6" y2="59.8" stroke="#222" stroke-width="0.55"/>
<line x1="186.3" y1="56.7" x2="187.6" y2="56.7" stroke="#222" stroke-width="0.55"/>
<line x1="186.3" y1="53.7" x2="187.6" y2="53.7" stroke="#222" stroke-width="0.55"/>
<line x1="186.3" y1="50.6" x2="187.6" y2="50.6" stroke="#222" stroke-width="0.55"/>
<line x1="186.3" y1="47.5" x2="187.6" y2="47.5" stroke="#222" stroke-width="0.55"/>
<line x1="186.3" y1="44.5" x2="187.6" y2="44.5" stroke="#222" stroke-width="0.55"/>
<line x1="186.3" y1="41.4" x2="187.6" y2="41.4" stroke="#222" stroke-width="0.55"/>
<line x1="186.3" y1="38.4" x2="187.6" y2="38.4" stroke="#222" stroke-width="0.55"/>
<line x1="186.3" y1="35.3" x2="187.6" y2="35.3" stroke="#222" stroke-width="0.55"/>
<line x1="186.3" y1="32.2" x2="187.6" y2="32.2" stroke="#222" stroke-width="0.55"/>
<line x1="186.3" y1="29.2" x2="187.6" y2="29.2" stroke="#222" stroke-width="0.55"/>
<line x1="186.3" y1="26.1" x2="187.6" y2="26.1" stroke="#222" stroke-width="0.55"/>
<line x1="186.3" y1="23.1" x2="187.6" y2="23.1" stroke="#222" stroke-width="0.55"/>
<line x1="186.3" y1="20.0" x2="187.6" y2="20.0" stroke="#222" stroke-width="0.55"/>
<line x1="187.6" y1="81.2" x2="187.6" y2="82.5" stroke="#222" stroke-width="0.55"/>
<line x1="191.4" y1="81.2" x2="191.4" y2="82.5" stroke="#222" stroke-width="0.55"/>
<line x1="195.2" y1="81.2" x2="195.2" y2="82.5" stroke="#222" stroke-width="0.55"/>
<line x1="199.1" y1="81.2" x2="199.1" y2="82.5" stroke="#222" stroke-width="0.55"/>
<line x1="202.9" y1="81.2" x2="202.9" y2="82.5" stroke="#222" stroke-width="0.55"/>
<line x1="206.7" y1="81.2" x2="206.7" y2="82.5" stroke="#222" stroke-width="0.55"/>
<line x1="210.5" y1="81.2" x2="210.5" y2="82.5" stroke="#222" stroke-width="0.55"/>
<line x1="214.3" y1="81.2" x2="214.3" y2="82.5" stroke="#222" stroke-width="0.55"/>
<line x1="218.2" y1="81.2" x2="218.2" y2="82.5" stroke="#222" stroke-width="0.55"/>
<line x1="222.0" y1="81.2" x2="222.0" y2="82.5" stroke="#222" stroke-width="0.55"/>
<line x1="225.8" y1="81.2" x2="225.8" y2="82.5" stroke="#222" stroke-width="0.55"/>
<line x1="229.6" y1="81.2" x2="229.6" y2="82.5" stroke="#222" stroke-width="0.55"/>
<line x1="233.4" y1="81.2" x2="233.4" y2="82.5" stroke="#222" stroke-width="0.55"/>
<line x1="237.3" y1="81.2" x2="237.3" y2="82.5" stroke="#222" stroke-width="0.55"/>
<line x1="241.1" y1="81.2" x2="241.1" y2="82.5" stroke="#222" stroke-width="0.55"/>
<line x1="244.9" y1="81.2" x2="244.9" y2="82.5" stroke="#222" stroke-width="0.55"/>
<line x1="248.7" y1="81.2" x2="248.7" y2="82.5" stroke="#222" stroke-width="0.55"/>
<line x1="252.5" y1="81.2" x2="252.5" y2="82.5" stroke="#222" stroke-width="0.55"/>
<line x1="256.4" y1="81.2" x2="256.4" y2="82.5" stroke="#222" stroke-width="0.55"/>
<line x1="260.2" y1="81.2" x2="260.2" y2="82.5" stroke="#222" stroke-width="0.55"/>
<line x1="264.0" y1="81.2" x2="264.0" y2="82.5" stroke="#222" stroke-width="0.55"/>
<path d="M221.6 81.7 l1.3 2.4 h-2.6 z" fill="#000"/>
<path d="M252.0 81.7 l1.3 2.4 h-2.6 z" fill="#000"/>
<rect x="186.8" y="84.2" width="1.6" height="0.9" fill="#777"/>
<rect x="201.7" y="84.2" width="2.4" height="0.9" fill="#777"/>
<rect x="217.0" y="84.2" width="2.4" height="0.9" fill="#777"/>
<rect x="232.2" y="84.2" width="2.4" height="0.9" fill="#777"/>
<rect x="247.5" y="84.2" width="2.4" height="0.9" fill="#777"/>
<rect x="262.8" y="84.2" width="2.4" height="0.9" fill="#777"/>
<rect x="183.6" y="67.7" width="1.3" height="2.6" fill="#a0a0a0"/>
<rect x="183.6" y="55.4" width="1.3" height="2.6" fill="#a0a0a0"/>
<rect x="183.6" y="43.2" width="1.3" height="2.6" fill="#a0a0a0"/>
<rect x="183.6" y="30.9" width="1.3" height="2.6" fill="#a0a0a0"/>
<rect x="183.6" y="18.7" width="1.3" height="2.6" fill="#a0a0a0"/>
<text transform="translate(182.3 51.1) rotate(-90)" font-size="5.0" text-anchor="middle" fill="#1a1a1a" stroke="#1a1a1a" stroke-width="0.18" textLength="17.5" lengthAdjust="spacingAndGlyphs">Number</text>
<text x="224.0" y="91.1" font-size="4.5" font-weight="bold" fill="#222" textLength="11.6" lengthAdjust="spacingAndGlyphs">PI-A</text>
<text x="191.0" y="26.0" font-size="5.8" font-weight="bold" fill="#000" stroke="#000" stroke-width="0.3" textLength="23.7" lengthAdjust="spacingAndGlyphs">Control</text>
<text x="191.0" y="33.2" font-size="5.8" font-weight="bold" fill="#000" stroke="#000" stroke-width="0.3" textLength="11.6" lengthAdjust="spacingAndGlyphs">48h</text>
<rect x="239.6" y="19.0" width="5.2" height="3.4" fill="#e3261c"/>
<rect x="239.6" y="22.8" width="5.2" height="3.3" fill="#e3261c"/>
<path d="M239.9 27.5 l1.3 2.2 M241.6 27.5 l1.3 2.2 M243.3 27.5 l1.3 2.2" stroke="#1a2ac8" stroke-width="0.8"/>
<text x="247.3" y="22.1" font-size="3.5" font-weight="bold" fill="#1428d8" stroke="#1428d8" stroke-width="0.08">G0G1</text>
<text x="247.3" y="26.0" font-size="3.5" font-weight="bold" fill="#1428d8" stroke="#1428d8" stroke-width="0.08">G2M</text>
<text x="247.3" y="30.1" font-size="3.5" font-weight="bold" fill="#1428d8" stroke="#1428d8" stroke-width="0.08">S-Phase</text>
<path d="M279.40 81.20 L279.40 81.20 L279.90 81.20 L280.40 81.20 L280.90 81.20 L281.40 81.20 L281.90 81.20 L282.40 81.20 L282.90 81.20 L283.40 81.20 L283.90 81.20 L284.40 81.20 L284.90 81.20 L285.40 81.20 L285.90 81.20 L286.40 81.20 L286.90 81.20 L287.40 81.20 L287.90 81.20 L288.40 81.20 L288.90 81.20 L289.40 81.20 L289.90 81.20 L290.40 81.20 L290.90 81.20 L291.40 81.20 L291.90 81.20 L292.40 81.20 L292.90 81.20 L293.40 81.20 L293.90 81.20 L294.40 81.20 L294.90 81.20 L295.40 81.20 L295.90 81.20 L296.40 81.20 L296.90 81.20 L297.40 81.20 L297.90 81.20 L298.40 81.20 L298.90 81.20 L299.40 81.20 L299.90 81.20 L300.40 81.19 L300.90 81.19 L301.40 81.18 L301.90 81.17 L302.40 81.16 L302.90 81.13 L303.40 81.10 L303.90 81.04 L304.40 80.97 L304.90 80.86 L305.40 80.70 L305.90 80.49 L306.40 80.20 L306.90 79.79 L307.40 79.22 L307.90 78.39 L308.40 77.19 L308.90 75.47 L309.40 73.01 L309.90 69.66 L310.40 65.30 L310.90 59.97 L311.40 53.95 L311.90 47.76 L312.40 42.12 L312.90 37.82 L313.40 35.53 L313.90 35.54 L314.40 37.54 L314.90 41.17 L315.40 45.91 L315.90 51.21 L316.40 56.51 L316.90 61.39 L317.40 65.58 L317.90 69.00 L318.40 71.67 L318.90 73.70 L319.40 75.22 L319.90 76.37 L320.40 77.26 L320.90 77.97 L321.40 78.55 L321.90 79.03 L322.40 79.44 L322.90 79.78 L323.40 80.07 L323.90 80.31 L324.40 80.51 L324.90 80.67 L325.40 80.80 L325.90 80.90 L326.40 80.98 L326.90 81.04 L327.40 81.08 L327.90 81.12 L328.40 81.14 L328.90 81.16 L329.40 81.17 L329.90 81.18 L330.40 81.19 L330.90 81.19 L331.40 81.19 L331.90 81.20 L332.40 81.20 L332.90 81.20 L333.40 81.20 L333.90 81.20 L334.40 81.20 L334.90 81.20 L335.40 81.20 L335.90 81.20 L336.40 81.20 L336.90 81.20 L337.40 81.20 L337.90 81.20 L338.40 81.20 L338.90 81.20 L339.40 81.20 L339.90 81.20 L340.40 81.20 L340.90 81.20 L341.40 81.20 L341.90 81.20 L342.40 81.20 L342.90 81.20 L343.40 81.20 L343.90 81.20 L344.40 81.20 L344.90 81.20 L345.40 81.20 L345.90 81.20 L346.40 81.20 L346.90 81.20 L347.40 81.20 L347.90 81.20 L348.40 81.20 L348.90 81.20 L349.40 81.20 L349.90 81.20 L350.40 81.20 L350.90 81.20 L351.40 81.20 L351.90 81.20 L352.40 81.20 L352.90 81.20 L353.00 81.20 Z" fill="#e3261c"/>
<path d="M279.40 81.20 L279.40 81.20 L279.90 81.20 L280.40 81.20 L280.90 81.20 L281.40 81.20 L281.90 81.20 L282.40 81.20 L282.90 81.20 L283.40 81.20 L283.90 81.20 L284.40 81.20 L284.90 81.20 L285.40 81.20 L285.90 81.20 L286.40 81.20 L286.90 81.20 L287.40 81.20 L287.90 81.20 L288.40 81.20 L288.90 81.20 L289.40 81.20 L289.90 81.20 L290.40 81.20 L290.90 81.20 L291.40 81.20 L291.90 81.20 L292.40 81.20 L292.90 81.20 L293.40 81.20 L293.90 81.20 L294.40 81.20 L294.90 81.20 L295.40 81.20 L295.90 81.20 L296.40 81.20 L296.90 81.20 L297.40 81.20 L297.90 81.20 L298.40 81.20 L298.90 81.20 L299.40 81.20 L299.90 81.20 L300.40 81.20 L300.90 81.20 L301.40 81.20 L301.90 81.20 L302.40 81.20 L302.90 81.20 L303.40 81.20 L303.90 81.20 L304.40 81.20 L304.90 81.20 L305.40 81.20 L305.90 81.20 L306.40 81.20 L306.90 81.20 L307.40 81.20 L307.90 81.20 L308.40 81.20 L308.90 81.20 L309.40 81.20 L309.90 81.20 L310.40 81.20 L310.90 81.20 L311.40 81.20 L311.90 81.20 L312.40 81.20 L312.90 81.20 L313.40 81.20 L313.90 81.20 L314.40 81.20 L314.90 81.20 L315.40 81.20 L315.90 81.20 L316.40 81.20 L316.90 81.20 L317.40 81.19 L317.90 81.19 L318.40 81.18 L318.90 81.17 L319.40 81.16 L319.90 81.13 L320.40 81.10 L320.90 81.05 L321.40 80.99 L321.90 80.90 L322.40 80.79 L322.90 80.64 L323.40 80.46 L323.90 80.23 L324.40 79.96 L324.90 79.65 L325.40 79.29 L325.90 78.90 L326.40 78.48 L326.90 78.05 L327.40 77.61 L327.90 77.19 L328.40 76.81 L328.90 76.49 L329.40 76.24 L329.90 76.07 L330.40 76.00 L330.90 76.03 L331.40 76.16 L331.90 76.38 L332.40 76.68 L332.90 77.04 L333.40 77.44 L333.90 77.87 L334.40 78.31 L334.90 78.74 L335.40 79.14 L335.90 79.51 L336.40 79.84 L336.90 80.13 L337.40 80.37 L337.90 80.57 L338.40 80.73 L338.90 80.86 L339.40 80.96 L339.90 81.03 L340.40 81.08 L340.90 81.12 L341.40 81.15 L341.90 81.17 L342.40 81.18 L342.90 81.19 L343.40 81.19 L343.90 81.19 L344.40 81.20 L344.90 81.20 L345.40 81.20 L345.90 81.20 L346.40 81.20 L346.90 81.20 L347.40 81.20 L347.90 81.20 L348.40 81.20 L348.90 81.20 L349.40 81.20 L349.90 81.20 L350.40 81.20 L350.90 81.20 L351.40 81.20 L351.90 81.20 L352.40 81.20 L352.90 81.20 L353.00 81.20 Z" fill="#e3261c"/>
<path d="M279.40 81.20 L279.40 81.20 L279.90 81.20 L280.40 81.20 L280.90 81.20 L281.40 81.20 L281.90 81.20 L282.40 81.20 L282.90 81.20 L283.40 81.20 L283.90 81.20 L284.40 81.20 L284.90 81.20 L285.40 81.20 L285.90 81.20 L286.40 81.20 L286.90 81.20 L287.40 81.20 L287.90 81.20 L288.40 81.20 L288.90 81.20 L289.40 81.20 L289.90 81.20 L290.40 81.20 L290.90 81.20 L291.40 81.20 L291.90 81.20 L292.40 81.20 L292.90 81.20 L293.40 81.20 L293.90 81.20 L294.40 81.20 L294.90 81.20 L295.40 81.20 L295.90 81.20 L296.40 81.20 L296.90 81.20 L297.40 81.20 L297.90 81.20 L298.40 81.20 L298.90 81.20 L299.40 81.20 L299.90 81.20 L300.40 81.20 L300.90 81.20 L301.40 81.20 L301.90 81.20 L302.40 81.20 L302.90 81.20 L303.40 81.20 L303.90 81.20 L304.40 81.20 L304.90 81.20 L305.40 81.20 L305.90 81.20 L306.40 81.20 L306.90 81.20 L307.40 81.20 L307.90 81.20 L308.40 81.20 L308.90 81.20 L309.40 81.20 L309.90 81.20 L310.40 81.20 L310.90 81.20 L311.40 81.20 L311.90 81.20 L312.40 81.20 L312.90 81.20 L313.40 81.20 L313.90 81.20 L314.40 81.20 L314.90 81.20 L315.40 81.20 L315.90 81.20 L316.40 81.20 L316.90 81.20 L317.40 80.96 L317.90 80.66 L318.40 80.36 L318.90 80.06 L319.40 79.76 L319.90 79.46 L320.40 79.16 L320.90 78.86 L321.40 78.56 L321.90 78.26 L322.40 78.21 L322.90 78.23 L323.40 78.24 L323.90 78.26 L324.40 78.28 L324.90 78.29 L325.40 78.31 L325.90 78.32 L326.40 78.34 L326.90 78.35 L327.40 78.37 L327.90 78.38 L328.40 78.40 L328.90 78.42 L329.40 78.43 L329.90 78.45 L330.40 78.46 L330.90 78.48 L331.40 78.49 L331.90 78.51 L332.40 78.53 L332.90 78.54 L333.40 78.56 L333.90 78.57 L334.40 78.59 L334.90 78.60 L335.40 78.62 L335.90 78.63 L336.40 78.65 L336.90 78.67 L337.40 78.68 L337.90 78.70 L338.40 78.82 L338.90 78.97 L339.40 79.12 L339.90 79.27 L340.40 79.42 L340.90 79.57 L341.40 79.72 L341.90 79.87 L342.40 80.02 L342.90 80.17 L343.40 80.40 L343.90 80.65 L344.40 80.90 L344.90 81.15 L345.40 81.20 L345.90 81.20 L346.40 81.20 L346.90 81.20 L347.40 81.20 L347.90 81.20 L348.40 81.20 L348.90 81.20 L349.40 81.20 L349.90 81.20 L350.40 81.20 L350.90 81.20 L351.40 81.20 L351.90 81.20 L352.40 81.20 L352.90 81.20 L353.00 81.20 Z" fill="#cbcff3" style="mix-blend-mode:multiply"/>
<path d="M279.40 80.90 L279.90 80.90 L280.40 80.90 L280.90 80.90 L281.40 80.90 L281.90 80.90 L282.40 80.90 L282.90 80.90 L283.40 80.90 L283.90 80.90 L284.40 80.90 L284.90 80.90 L285.40 80.90 L285.90 80.90 L286.40 80.90 L286.90 80.90 L287.40 80.90 L287.90 80.90 L288.40 80.90 L288.90 80.90 L289.40 80.90 L289.90 80.90 L290.40 80.90 L290.90 80.90 L291.40 80.90 L291.90 80.90 L292.40 80.90 L292.90 80.90 L293.40 80.90 L293.90 80.90 L294.40 80.90 L294.90 80.90 L295.40 80.90 L295.90 80.90 L296.40 80.90 L296.90 80.90 L297.40 80.90 L297.90 80.90 L298.40 80.90 L298.90 80.90 L299.40 80.90 L299.90 80.90 L300.40 80.89 L300.90 80.89 L301.40 80.88 L301.90 80.87 L302.40 80.86 L302.90 80.83 L303.40 80.80 L303.90 80.74 L304.40 80.67 L304.90 80.56 L305.40 80.40 L305.90 80.19 L306.40 79.90 L306.90 79.49 L307.40 78.92 L307.90 78.09 L308.40 76.40 L308.90 73.68 L309.40 69.96 L309.90 65.18 L310.40 59.42 L310.90 52.95 L311.40 46.26 L311.90 39.97 L312.40 34.80 L312.90 31.39 L313.40 30.20 L313.90 31.13 L314.40 33.84 L314.90 38.02 L315.40 43.26 L315.90 49.08 L316.40 54.99 L316.90 60.59 L317.40 61.15 L317.90 60.55 L318.40 62.28 L318.90 64.01 L319.40 65.75 L319.90 67.48 L320.40 69.21 L320.90 70.77 L321.40 71.64 L321.90 72.51 L322.40 73.37 L322.90 74.24 L323.40 75.11 L323.90 75.78 L324.40 75.68 L324.90 75.57 L325.40 75.47 L325.90 75.36 L326.40 75.09 L326.90 74.73 L327.40 74.36 L327.90 73.99 L328.40 73.65 L328.90 73.36 L329.40 73.14 L329.90 73.00 L330.40 72.95 L330.90 73.00 L331.40 73.15 L331.90 73.38 L332.40 73.70 L332.90 73.93 L333.40 73.83 L333.90 73.73 L334.40 73.63 L334.90 73.53 L335.40 73.43 L335.90 73.33 L336.40 73.23 L336.90 73.14 L337.40 73.04 L337.90 72.94 L338.40 72.84 L338.90 72.60 L339.40 72.27 L339.90 71.93 L340.40 71.60 L340.90 71.27 L341.40 70.93 L341.90 70.60 L342.40 72.37 L342.90 74.14 L343.40 76.06 L343.90 78.20 L344.40 80.34 L344.90 80.85 L345.40 80.90 L345.90 80.90 L346.40 80.90 L346.90 80.90 L347.40 80.90 L347.90 80.90 L348.40 80.90 L348.90 80.90 L349.40 80.90 L349.90 80.90 L350.40 80.90 L350.90 80.90 L351.40 80.90 L351.90 80.90 L352.40 80.90 L352.90 80.90" fill="none" stroke="#2c2c2c" stroke-width="0.7"/>
<path d="M278.4 20.0 V84.4 M275.2 81.2 H354.0" fill="none" stroke="#555" stroke-width="0.6"/>
<line x1="277.1" y1="81.2" x2="278.4" y2="81.2" stroke="#222" stroke-width="0.55"/>
<line x1="277.1" y1="78.1" x2="278.4" y2="78.1" stroke="#222" stroke-width="0.55"/>
<line x1="277.1" y1="75.1" x2="278.4" y2="75.1" stroke="#222" stroke-width="0.55"/>
<line x1="277.1" y1="72.0" x2="278.4" y2="72.0" stroke="#222" stroke-width="0.55"/>
<line x1="277.1" y1="69.0" x2="278.4" y2="69.0" stroke="#222" stroke-width="0.55"/>
<line x1="277.1" y1="65.9" x2="278.4" y2="65.9" stroke="#222" stroke-width="0.55"/>
<line x1="277.1" y1="62.8" x2="278.4" y2="62.8" stroke="#222" stroke-width="0.55"/>
<line x1="277.1" y1="59.8" x2="278.4" y2="59.8" stroke="#222" stroke-width="0.55"/>
<line x1="277.1" y1="56.7" x2="278.4" y2="56.7" stroke="#222" stroke-width="0.55"/>
<line x1="277.1" y1="53.7" x2="278.4" y2="53.7" stroke="#222" stroke-width="0.55"/>
<line x1="277.1" y1="50.6" x2="278.4" y2="50.6" stroke="#222" stroke-width="0.55"/>
<line x1="277.1" y1="47.5" x2="278.4" y2="47.5" stroke="#222" stroke-width="0.55"/>
<line x1="277.1" y1="44.5" x2="278.4" y2="44.5" stroke="#222" stroke-width="0.55"/>
<line x1="277.1" y1="41.4" x2="278.4" y2="41.4" stroke="#222" stroke-width="0.55"/>
<line x1="277.1" y1="38.4" x2="278.4" y2="38.4" stroke="#222" stroke-width="0.55"/>
<line x1="277.1" y1="35.3" x2="278.4" y2="35.3" stroke="#222" stroke-width="0.55"/>
<line x1="277.1" y1="32.2" x2="278.4" y2="32.2" stroke="#222" stroke-width="0.55"/>
<line x1="277.1" y1="29.2" x2="278.4" y2="29.2" stroke="#222" stroke-width="0.55"/>
<line x1="277.1" y1="26.1" x2="278.4" y2="26.1" stroke="#222" stroke-width="0.55"/>
<line x1="277.1" y1="23.1" x2="278.4" y2="23.1" stroke="#222" stroke-width="0.55"/>
<line x1="277.1" y1="20.0" x2="278.4" y2="20.0" stroke="#222" stroke-width="0.55"/>
<line x1="278.4" y1="81.2" x2="278.4" y2="82.5" stroke="#222" stroke-width="0.55"/>
<line x1="282.2" y1="81.2" x2="282.2" y2="82.5" stroke="#222" stroke-width="0.55"/>
<line x1="286.0" y1="81.2" x2="286.0" y2="82.5" stroke="#222" stroke-width="0.55"/>
<line x1="289.7" y1="81.2" x2="289.7" y2="82.5" stroke="#222" stroke-width="0.55"/>
<line x1="293.5" y1="81.2" x2="293.5" y2="82.5" stroke="#222" stroke-width="0.55"/>
<line x1="297.3" y1="81.2" x2="297.3" y2="82.5" stroke="#222" stroke-width="0.55"/>
<line x1="301.1" y1="81.2" x2="301.1" y2="82.5" stroke="#222" stroke-width="0.55"/>
<line x1="304.9" y1="81.2" x2="304.9" y2="82.5" stroke="#222" stroke-width="0.55"/>
<line x1="308.6" y1="81.2" x2="308.6" y2="82.5" stroke="#222" stroke-width="0.55"/>
<line x1="312.4" y1="81.2" x2="312.4" y2="82.5" stroke="#222" stroke-width="0.55"/>
<line x1="316.2" y1="81.2" x2="316.2" y2="82.5" stroke="#222" stroke-width="0.55"/>
<line x1="320.0" y1="81.2" x2="320.0" y2="82.5" stroke="#222" stroke-width="0.55"/>
<line x1="323.8" y1="81.2" x2="323.8" y2="82.5" stroke="#222" stroke-width="0.55"/>
<line x1="327.5" y1="81.2" x2="327.5" y2="82.5" stroke="#222" stroke-width="0.55"/>
<line x1="331.3" y1="81.2" x2="331.3" y2="82.5" stroke="#222" stroke-width="0.55"/>
<line x1="335.1" y1="81.2" x2="335.1" y2="82.5" stroke="#222" stroke-width="0.55"/>
<line x1="338.9" y1="81.2" x2="338.9" y2="82.5" stroke="#222" stroke-width="0.55"/>
<line x1="342.7" y1="81.2" x2="342.7" y2="82.5" stroke="#222" stroke-width="0.55"/>
<line x1="346.4" y1="81.2" x2="346.4" y2="82.5" stroke="#222" stroke-width="0.55"/>
<line x1="350.2" y1="81.2" x2="350.2" y2="82.5" stroke="#222" stroke-width="0.55"/>
<line x1="354.0" y1="81.2" x2="354.0" y2="82.5" stroke="#222" stroke-width="0.55"/>
<path d="M313.6 81.7 l1.3 2.4 h-2.6 z" fill="#000"/>
<path d="M330.5 81.7 l1.3 2.4 h-2.6 z" fill="#000"/>
<rect x="277.6" y="84.2" width="1.6" height="0.9" fill="#777"/>
<rect x="292.3" y="84.2" width="2.4" height="0.9" fill="#777"/>
<rect x="307.4" y="84.2" width="2.4" height="0.9" fill="#777"/>
<rect x="322.6" y="84.2" width="2.4" height="0.9" fill="#777"/>
<rect x="337.7" y="84.2" width="2.4" height="0.9" fill="#777"/>
<rect x="352.8" y="84.2" width="2.4" height="0.9" fill="#777"/>
<rect x="274.4" y="67.7" width="1.3" height="2.6" fill="#a0a0a0"/>
<rect x="274.4" y="55.4" width="1.3" height="2.6" fill="#a0a0a0"/>
<rect x="274.4" y="43.2" width="1.3" height="2.6" fill="#a0a0a0"/>
<rect x="274.4" y="30.9" width="1.3" height="2.6" fill="#a0a0a0"/>
<rect x="274.4" y="18.7" width="1.3" height="2.6" fill="#a0a0a0"/>
<text transform="translate(273.6 52.2) rotate(-90)" font-size="5.0" text-anchor="middle" fill="#1a1a1a" stroke="#1a1a1a" stroke-width="0.18" textLength="17.5" lengthAdjust="spacingAndGlyphs">Number</text>
<text x="313.0" y="91.1" font-size="4.5" font-weight="bold" fill="#222" textLength="11.6" lengthAdjust="spacingAndGlyphs">PI-A</text>
<text x="283.0" y="26.0" font-size="5.8" font-weight="bold" fill="#000" stroke="#000" stroke-width="0.3" textLength="23.7" lengthAdjust="spacingAndGlyphs">Control</text>
<text x="283.0" y="33.2" font-size="5.8" font-weight="bold" fill="#000" stroke="#000" stroke-width="0.3" textLength="11.6" lengthAdjust="spacingAndGlyphs">72h</text>
<rect x="333.0" y="19.2" width="5.2" height="3.4" fill="#e3261c"/>
<rect x="333.0" y="23.0" width="5.2" height="3.3" fill="#e3261c"/>
<path d="M333.3 27.7 l1.3 2.2 M335.0 27.7 l1.3 2.2 M336.7 27.7 l1.3 2.2" stroke="#1a2ac8" stroke-width="0.8"/>
<text x="340.7" y="22.3" font-size="3.5" font-weight="bold" fill="#1428d8" stroke="#1428d8" stroke-width="0.08">G0G1</text>
<text x="340.7" y="26.2" font-size="3.5" font-weight="bold" fill="#1428d8" stroke="#1428d8" stroke-width="0.08">G2M</text>
<text x="340.7" y="30.3" font-size="3.5" font-weight="bold" fill="#1428d8" stroke="#1428d8" stroke-width="0.08">S-Phase</text>
<path d="M91.40 160.40 L91.40 160.40 L91.90 160.40 L92.40 160.40 L92.90 160.40 L93.40 160.40 L93.90 160.40 L94.40 160.40 L94.90 160.40 L95.40 160.40 L95.90 160.40 L96.40 160.40 L96.90 160.40 L97.40 160.40 L97.90 160.40 L98.40 160.40 L98.90 160.40 L99.40 160.40 L99.90 160.40 L100.40 160.40 L100.90 160.40 L101.40 160.40 L101.90 160.40 L102.40 160.40 L102.90 160.40 L103.40 160.40 L103.90 160.40 L104.40 160.40 L104.90 160.40 L105.40 160.40 L105.90 160.40 L106.40 160.40 L106.90 160.40 L107.40 160.40 L107.90 160.40 L108.40 160.40 L108.90 160.40 L109.40 160.40 L109.90 160.40 L110.40 160.40 L110.90 160.40 L111.40 160.40 L111.90 160.40 L112.40 160.39 L112.90 160.39 L113.40 160.38 L113.90 160.35 L114.40 160.31 L114.90 160.25 L115.40 160.13 L115.90 159.93 L116.40 159.62 L116.90 159.15 L117.40 158.44 L117.90 157.41 L118.40 155.99 L118.90 154.08 L119.40 151.61 L119.90 148.53 L120.40 144.84 L120.90 140.61 L121.40 135.96 L121.90 131.10 L122.40 126.30 L122.90 121.88 L123.40 118.16 L123.90 115.44 L124.40 113.95 L124.90 113.83 L125.40 115.24 L125.90 118.09 L126.40 122.10 L126.90 126.89 L127.40 132.08 L127.90 137.26 L128.40 142.14 L128.90 146.47 L129.40 150.14 L129.90 153.09 L130.40 155.37 L130.90 157.06 L131.40 158.25 L131.90 159.07 L132.40 159.60 L132.90 159.94 L133.40 160.14 L133.90 160.26 L134.40 160.33 L134.90 160.36 L135.40 160.38 L135.90 160.39 L136.40 160.40 L136.90 160.40 L137.40 160.40 L137.90 160.40 L138.40 160.40 L138.90 160.40 L139.40 160.40 L139.90 160.40 L140.40 160.40 L140.90 160.40 L141.40 160.40 L141.90 160.40 L142.40 160.40 L142.90 160.40 L143.40 160.40 L143.90 160.40 L144.40 160.40 L144.90 160.40 L145.40 160.40 L145.90 160.40 L146.40 160.40 L146.90 160.40 L147.40 160.40 L147.90 160.40 L148.40 160.40 L148.90 160.40 L149.40 160.40 L149.90 160.40 L150.40 160.40 L150.90 160.40 L151.40 160.40 L151.90 160.40 L152.40 160.40 L152.90 160.40 L153.40 160.40 L153.90 160.40 L154.40 160.40 L154.90 160.40 L155.40 160.40 L155.90 160.40 L156.40 160.40 L156.90 160.40 L157.40 160.40 L157.90 160.40 L158.40 160.40 L158.90 160.40 L159.40 160.40 L159.90 160.40 L160.40 160.40 L160.90 160.40 L161.40 160.40 L161.90 160.40 L162.40 160.40 L162.90 160.40 L163.40 160.40 L163.90 160.40 L164.40 160.40 L164.90 160.40 L165.40 160.40 L165.90 160.40 L166.40 160.40 L166.90 160.40 L167.40 160.40 L167.90 160.40 L168.40 160.40 L168.90 160.40 L169.40 160.40 L169.90 160.40 L170.40 160.40 L170.90 160.40 L171.40 160.40 L171.90 160.40 L172.40 160.40 L172.90 160.40 L173.40 160.40 L173.90 160.40 L174.00 160.40 Z" fill="#e3261c"/>
<path d="M91.40 160.40 L91.40 160.40 L91.90 160.40 L92.40 160.40 L92.90 160.40 L93.40 160.40 L93.90 160.40 L94.40 160.40 L94.90 160.40 L95.40 160.40 L95.90 160.40 L96.40 160.40 L96.90 160.40 L97.40 160.40 L97.90 160.40 L98.40 160.40 L98.90 160.40 L99.40 160.40 L99.90 160.40 L100.40 160.40 L100.90 160.40 L101.40 160.40 L101.90 160.40 L102.40 160.40 L102.90 160.40 L103.40 160.40 L103.90 160.40 L104.40 160.40 L104.90 160.40 L105.40 160.40 L105.90 160.40 L106.40 160.40 L106.90 160.40 L107.40 160.40 L107.90 160.40 L108.40 160.40 L108.90 160.40 L109.40 160.40 L109.90 160.40 L110.40 160.40 L110.90 160.40 L111.40 160.40 L111.90 160.40 L112.40 160.40 L112.90 160.40 L113.40 160.40 L113.90 160.40 L114.40 160.40 L114.90 160.40 L115.40 160.40 L115.90 160.40 L116.40 160.40 L116.90 160.40 L117.40 160.40 L117.90 160.40 L118.40 160.40 L118.90 160.40 L119.40 160.40 L119.90 160.40 L120.40 160.40 L120.90 160.40 L121.40 160.40 L121.90 160.40 L122.40 160.40 L122.90 160.40 L123.40 160.40 L123.90 160.40 L124.40 160.40 L124.90 160.40 L125.40 160.40 L125.90 160.40 L126.40 160.40 L126.90 160.40 L127.40 160.40 L127.90 160.40 L128.40 160.40 L128.90 160.40 L129.40 160.40 L129.90 160.40 L130.40 160.40 L130.90 160.40 L131.40 160.40 L131.90 160.40 L132.40 160.40 L132.90 160.40 L133.40 160.40 L133.90 160.40 L134.40 160.40 L134.90 160.40 L135.40 160.40 L135.90 160.40 L136.40 160.40 L136.90 160.40 L137.40 160.40 L137.90 160.39 L138.40 160.39 L138.90 160.39 L139.40 160.39 L139.90 160.38 L140.40 160.38 L140.90 160.37 L141.40 160.36 L141.90 160.35 L142.40 160.33 L142.90 160.31 L143.40 160.29 L143.90 160.27 L144.40 160.24 L144.90 160.21 L145.40 160.17 L145.90 160.13 L146.40 160.09 L146.90 160.04 L147.40 159.98 L147.90 159.92 L148.40 159.87 L148.90 159.81 L149.40 159.75 L149.90 159.69 L150.40 159.63 L150.90 159.57 L151.40 159.53 L151.90 159.48 L152.40 159.45 L152.90 159.42 L153.40 159.41 L153.90 159.40 L154.40 159.40 L154.90 159.42 L155.40 159.44 L155.90 159.47 L156.40 159.51 L156.90 159.55 L157.40 159.61 L157.90 159.66 L158.40 159.72 L158.90 159.78 L159.40 159.84 L159.90 159.90 L160.40 159.96 L160.90 160.01 L161.40 160.07 L161.90 160.11 L162.40 160.16 L162.90 160.19 L163.40 160.23 L163.90 160.26 L164.40 160.29 L164.90 160.31 L165.40 160.33 L165.90 160.34 L166.40 160.35 L166.90 160.36 L167.40 160.37 L167.90 160.38 L168.40 160.38 L168.90 160.39 L169.40 160.39 L169.90 160.39 L170.40 160.40 L170.90 160.40 L171.40 160.40 L171.90 160.40 L172.40 160.40 L172.90 160.40 L173.40 160.40 L173.90 160.40 L174.00 160.40 Z" fill="#e3261c"/>
<path d="M91.40 160.40 L91.40 160.40 L91.90 160.40 L92.40 160.40 L92.90 160.40 L93.40 160.40 L93.90 160.40 L94.40 160.40 L94.90 160.40 L95.40 160.40 L95.90 160.40 L96.40 160.40 L96.90 160.40 L97.40 160.40 L97.90 160.40 L98.40 160.40 L98.90 160.40 L99.40 160.40 L99.90 160.40 L100.40 160.40 L100.90 160.40 L101.40 160.40 L101.90 160.40 L102.40 160.40 L102.90 160.40 L103.40 160.40 L103.90 160.40 L104.40 160.40 L104.90 160.40 L105.40 160.40 L105.90 160.40 L106.40 160.40 L106.90 160.40 L107.40 160.40 L107.90 160.40 L108.40 160.40 L108.90 160.40 L109.40 160.40 L109.90 160.40 L110.40 160.40 L110.90 160.40 L111.40 160.40 L111.90 160.40 L112.40 160.40 L112.90 160.40 L113.40 160.40 L113.90 160.40 L114.40 160.40 L114.90 160.40 L115.40 160.40 L115.90 160.40 L116.40 160.40 L116.90 160.40 L117.40 160.40 L117.90 160.40 L118.40 160.40 L118.90 160.40 L119.40 160.40 L119.90 160.40 L120.40 160.40 L120.90 160.40 L121.40 160.40 L121.90 160.40 L122.40 160.40 L122.90 159.80 L123.40 158.80 L123.90 157.80 L124.40 156.80 L124.90 155.80 L125.40 154.80 L125.90 153.80 L126.40 152.80 L126.90 151.80 L127.40 150.80 L127.90 149.80 L128.40 148.80 L128.90 147.80 L129.40 147.93 L129.90 148.34 L130.40 148.75 L130.90 149.17 L131.40 149.58 L131.90 149.99 L132.40 150.41 L132.90 150.82 L133.40 151.30 L133.90 151.80 L134.40 152.30 L134.90 152.80 L135.40 153.30 L135.90 153.80 L136.40 154.16 L136.90 154.49 L137.40 154.82 L137.90 155.15 L138.40 155.48 L138.90 155.81 L139.40 156.14 L139.90 156.47 L140.40 156.80 L140.90 157.13 L141.40 157.27 L141.90 157.36 L142.40 157.45 L142.90 157.54 L143.40 157.63 L143.90 157.72 L144.40 157.81 L144.90 157.90 L145.40 157.99 L145.90 158.08 L146.40 158.13 L146.90 158.16 L147.40 158.20 L147.90 158.24 L148.40 158.27 L148.90 158.31 L149.40 158.34 L149.90 158.38 L150.40 158.41 L150.90 158.45 L151.40 158.49 L151.90 158.52 L152.40 158.56 L152.90 158.59 L153.40 158.63 L153.90 158.66 L154.40 158.70 L154.90 158.74 L155.40 158.77 L155.90 158.81 L156.40 158.84 L156.90 158.88 L157.40 158.91 L157.90 158.95 L158.40 158.99 L158.90 159.02 L159.40 159.06 L159.90 159.09 L160.40 159.14 L160.90 159.20 L161.40 159.25 L161.90 159.31 L162.40 159.36 L162.90 159.41 L163.40 159.47 L163.90 159.52 L164.40 159.58 L164.90 159.63 L165.40 159.69 L165.90 159.74 L166.40 159.79 L166.90 159.85 L167.40 159.90 L167.90 159.96 L168.40 160.01 L168.90 160.06 L169.40 160.12 L169.90 160.17 L170.40 160.23 L170.90 160.28 L171.40 160.34 L171.90 160.39 L172.40 160.40 L172.90 160.40 L173.40 160.40 L173.90 160.40 L174.00 160.40 Z" fill="#cbcff3" style="mix-blend-mode:multiply"/>
<path d="M91.40 160.10 L91.90 160.10 L92.40 160.10 L92.90 160.10 L93.40 160.10 L93.90 160.10 L94.40 160.10 L94.90 160.10 L95.40 160.10 L95.90 160.10 L96.40 160.10 L96.90 160.10 L97.40 160.10 L97.90 160.10 L98.40 160.10 L98.90 160.10 L99.40 160.10 L99.90 160.10 L100.40 160.10 L100.90 160.10 L101.40 160.10 L101.90 160.10 L102.40 160.10 L102.90 160.10 L103.40 160.10 L103.90 160.10 L104.40 160.10 L104.90 160.10 L105.40 160.05 L105.90 159.93 L106.40 159.80 L106.90 159.68 L107.40 159.55 L107.90 159.43 L108.40 159.32 L108.90 159.22 L109.40 159.12 L109.90 159.02 L110.40 158.92 L110.90 158.82 L111.40 158.72 L111.90 158.62 L112.40 158.63 L112.90 158.67 L113.40 158.71 L113.90 158.74 L114.40 158.78 L114.90 158.82 L115.40 158.86 L115.90 158.89 L116.40 158.55 L116.90 158.11 L117.40 157.68 L117.90 157.11 L118.40 155.69 L118.90 153.78 L119.40 151.31 L119.90 148.23 L120.40 144.54 L120.90 140.31 L121.40 135.66 L121.90 130.80 L122.40 125.65 L122.90 118.88 L123.40 112.90 L123.90 108.37 L124.40 105.83 L124.90 105.59 L125.40 107.69 L125.90 111.19 L126.40 114.20 L126.90 117.99 L127.40 122.18 L127.90 126.36 L128.40 130.24 L128.90 133.57 L129.40 137.37 L129.90 139.44 L130.40 140.86 L130.90 142.44 L131.40 144.01 L131.90 145.59 L132.40 146.66 L132.90 147.62 L133.40 148.58 L133.90 149.53 L134.40 150.49 L134.90 151.44 L135.40 152.40 L135.90 152.85 L136.40 153.31 L136.90 153.76 L137.40 154.21 L137.90 154.66 L138.40 155.12 L138.90 155.50 L139.40 155.83 L139.90 156.16 L140.40 156.48 L140.90 156.80 L141.40 156.93 L141.90 157.01 L142.40 157.08 L142.90 157.16 L143.40 157.23 L143.90 157.29 L144.40 157.35 L144.90 157.41 L145.40 157.46 L145.90 157.51 L146.40 157.51 L146.90 157.50 L147.40 157.48 L147.90 157.46 L148.40 157.44 L148.90 157.41 L149.40 157.39 L149.90 157.36 L150.40 157.34 L150.90 157.32 L151.40 157.31 L151.90 157.31 L152.40 157.31 L152.90 157.32 L153.40 157.34 L153.90 157.36 L154.40 157.40 L154.90 157.45 L155.40 157.51 L155.90 157.58 L156.40 157.65 L156.90 157.73 L157.40 157.82 L157.90 157.91 L158.40 158.01 L158.90 158.10 L159.40 158.20 L159.90 158.29 L160.40 158.40 L160.90 158.51 L161.40 158.62 L161.90 158.72 L162.40 158.82 L162.90 158.91 L163.40 159.00 L163.90 159.08 L164.40 159.16 L164.90 159.24 L165.40 159.31 L165.90 159.38 L166.40 159.45 L166.90 159.51 L167.40 159.56 L167.90 159.59 L168.40 159.63 L168.90 159.67 L169.40 159.71 L169.90 159.74 L170.40 159.78 L170.90 159.82 L171.40 159.86 L171.90 159.89 L172.40 160.10 L172.90 160.10 L173.40 160.10 L173.90 160.10" fill="none" stroke="#2c2c2c" stroke-width="0.7"/>
<path d="M90.4 97.6 V163.6 M87.2 160.4 H175.0" fill="none" stroke="#555" stroke-width="0.6"/>
<line x1="89.1" y1="160.4" x2="90.4" y2="160.4" stroke="#222" stroke-width="0.55"/>
<line x1="89.1" y1="157.3" x2="90.4" y2="157.3" stroke="#222" stroke-width="0.55"/>
<line x1="89.1" y1="154.1" x2="90.4" y2="154.1" stroke="#222" stroke-width="0.55"/>
<line x1="89.1" y1="151.0" x2="90.4" y2="151.0" stroke="#222" stroke-width="0.55"/>
<line x1="89.1" y1="147.8" x2="90.4" y2="147.8" stroke="#222" stroke-width="0.55"/>
<line x1="89.1" y1="144.7" x2="90.4" y2="144.7" stroke="#222" stroke-width="0.55"/>
<line x1="89.1" y1="141.6" x2="90.4" y2="141.6" stroke="#222" stroke-width="0.55"/>
<line x1="89.1" y1="138.4" x2="90.4" y2="138.4" stroke="#222" stroke-width="0.55"/>
<line x1="89.1" y1="135.3" x2="90.4" y2="135.3" stroke="#222" stroke-width="0.55"/>
<line x1="89.1" y1="132.1" x2="90.4" y2="132.1" stroke="#222" stroke-width="0.55"/>
<line x1="89.1" y1="129.0" x2="90.4" y2="129.0" stroke="#222" stroke-width="0.55"/>
<line x1="89.1" y1="125.9" x2="90.4" y2="125.9" stroke="#222" stroke-width="0.55"/>
<line x1="89.1" y1="122.7" x2="90.4" y2="122.7" stroke="#222" stroke-width="0.55"/>
<line x1="89.1" y1="119.6" x2="90.4" y2="119.6" stroke="#222" stroke-width="0.55"/>
<line x1="89.1" y1="116.4" x2="90.4" y2="116.4" stroke="#222" stroke-width="0.55"/>
<line x1="89.1" y1="113.3" x2="90.4" y2="113.3" stroke="#222" stroke-width="0.55"/>
<line x1="89.1" y1="110.2" x2="90.4" y2="110.2" stroke="#222" stroke-width="0.55"/>
<line x1="89.1" y1="107.0" x2="90.4" y2="107.0" stroke="#222" stroke-width="0.55"/>
<line x1="89.1" y1="103.9" x2="90.4" y2="103.9" stroke="#222" stroke-width="0.55"/>
<line x1="89.1" y1="100.7" x2="90.4" y2="100.7" stroke="#222" stroke-width="0.55"/>
<line x1="89.1" y1="97.6" x2="90.4" y2="97.6" stroke="#222" stroke-width="0.55"/>
<line x1="90.4" y1="160.4" x2="90.4" y2="161.7" stroke="#222" stroke-width="0.55"/>
<line x1="94.2" y1="160.4" x2="94.2" y2="161.7" stroke="#222" stroke-width="0.55"/>
<line x1="98.1" y1="160.4" x2="98.1" y2="161.7" stroke="#222" stroke-width="0.55"/>
<line x1="101.9" y1="160.4" x2="101.9" y2="161.7" stroke="#222" stroke-width="0.55"/>
<line x1="105.8" y1="160.4" x2="105.8" y2="161.7" stroke="#222" stroke-width="0.55"/>
<line x1="109.6" y1="160.4" x2="109.6" y2="161.7" stroke="#222" stroke-width="0.55"/>
<line x1="113.5" y1="160.4" x2="113.5" y2="161.7" stroke="#222" stroke-width="0.55"/>
<line x1="117.3" y1="160.4" x2="117.3" y2="161.7" stroke="#222" stroke-width="0.55"/>
<line x1="121.2" y1="160.4" x2="121.2" y2="161.7" stroke="#222" stroke-width="0.55"/>
<line x1="125.0" y1="160.4" x2="125.0" y2="161.7" stroke="#222" stroke-width="0.55"/>
<line x1="128.9" y1="160.4" x2="128.9" y2="161.7" stroke="#222" stroke-width="0.55"/>
<line x1="132.7" y1="160.4" x2="132.7" y2="161.7" stroke="#222" stroke-width="0.55"/>
<line x1="136.5" y1="160.4" x2="136.5" y2="161.7" stroke="#222" stroke-width="0.55"/>
<line x1="140.4" y1="160.4" x2="140.4" y2="161.7" stroke="#222" stroke-width="0.55"/>
<line x1="144.2" y1="160.4" x2="144.2" y2="161.7" stroke="#222" stroke-width="0.55"/>
<line x1="148.1" y1="160.4" x2="148.1" y2="161.7" stroke="#222" stroke-width="0.55"/>
<line x1="151.9" y1="160.4" x2="151.9" y2="161.7" stroke="#222" stroke-width="0.55"/>
<line x1="155.8" y1="160.4" x2="155.8" y2="161.7" stroke="#222" stroke-width="0.55"/>
<line x1="159.6" y1="160.4" x2="159.6" y2="161.7" stroke="#222" stroke-width="0.55"/>
<line x1="163.5" y1="160.4" x2="163.5" y2="161.7" stroke="#222" stroke-width="0.55"/>
<line x1="167.3" y1="160.4" x2="167.3" y2="161.7" stroke="#222" stroke-width="0.55"/>
<line x1="171.2" y1="160.4" x2="171.2" y2="161.7" stroke="#222" stroke-width="0.55"/>
<line x1="175.0" y1="160.4" x2="175.0" y2="161.7" stroke="#222" stroke-width="0.55"/>
<path d="M124.7 160.9 l1.3 2.4 h-2.6 z" fill="#000"/>
<path d="M154.0 160.9 l1.3 2.4 h-2.6 z" fill="#000"/>
<rect x="89.6" y="163.4" width="1.6" height="0.9" fill="#777"/>
<rect x="106.1" y="163.4" width="2.4" height="0.9" fill="#777"/>
<rect x="123.0" y="163.4" width="2.4" height="0.9" fill="#777"/>
<rect x="140.0" y="163.4" width="2.4" height="0.9" fill="#777"/>
<rect x="156.9" y="163.4" width="2.4" height="0.9" fill="#777"/>
<rect x="173.8" y="163.4" width="2.4" height="0.9" fill="#777"/>
<rect x="86.4" y="143.8" width="1.3" height="2.6" fill="#a0a0a0"/>
<rect x="86.4" y="128.5" width="1.3" height="2.6" fill="#a0a0a0"/>
<rect x="86.4" y="113.2" width="1.3" height="2.6" fill="#a0a0a0"/>
<rect x="86.4" y="97.9" width="1.3" height="2.6" fill="#a0a0a0"/>
<text transform="translate(82.0 124.7) rotate(-90)" font-size="5.0" text-anchor="middle" fill="#1a1a1a" stroke="#1a1a1a" stroke-width="0.18" textLength="17.5" lengthAdjust="spacingAndGlyphs">Number</text>
<text x="122.0" y="171.6" font-size="4.5" font-weight="bold" fill="#222" textLength="11.6" lengthAdjust="spacingAndGlyphs">PI-A</text>
<text x="95.6" y="103.0" font-size="5.8" font-weight="bold" fill="#000" stroke="#000" stroke-width="0.3" textLength="15.4" lengthAdjust="spacingAndGlyphs">5-FU</text>
<text x="95.6" y="110.2" font-size="5.8" font-weight="bold" fill="#000" stroke="#000" stroke-width="0.3" textLength="11.6" lengthAdjust="spacingAndGlyphs">24h</text>
<rect x="144.4" y="100.6" width="5.2" height="3.4" fill="#e3261c"/>
<rect x="144.4" y="104.4" width="5.2" height="3.3" fill="#e3261c"/>
<path d="M144.7 109.1 l1.3 2.2 M146.4 109.1 l1.3 2.2 M148.1 109.1 l1.3 2.2" stroke="#1a2ac8" stroke-width="0.8"/>
<text x="152.1" y="103.7" font-size="3.5" font-weight="bold" fill="#1428d8" stroke="#1428d8" stroke-width="0.08">G0G1</text>
<text x="152.1" y="107.6" font-size="3.5" font-weight="bold" fill="#1428d8" stroke="#1428d8" stroke-width="0.08">G2M</text>
<text x="152.1" y="111.7" font-size="3.5" font-weight="bold" fill="#1428d8" stroke="#1428d8" stroke-width="0.08">S-Phase</text>
<path d="M189.40 161.10 L189.40 161.10 L189.90 161.10 L190.40 161.10 L190.90 161.10 L191.40 161.10 L191.90 161.10 L192.40 161.10 L192.90 161.10 L193.40 161.10 L193.90 161.10 L194.40 161.10 L194.90 161.10 L195.40 161.10 L195.90 161.10 L196.40 161.10 L196.90 161.10 L197.40 161.10 L197.90 161.10 L198.40 161.10 L198.90 161.10 L199.40 161.10 L199.90 161.10 L200.40 161.10 L200.90 161.10 L201.40 161.10 L201.90 161.10 L202.40 161.10 L202.90 161.10 L203.40 161.10 L203.90 161.10 L204.40 161.10 L204.90 161.10 L205.40 161.10 L205.90 161.10 L206.40 161.10 L206.90 161.10 L207.40 161.10 L207.90 161.10 L208.40 161.10 L208.90 161.10 L209.40 161.10 L209.90 161.09 L210.40 161.09 L210.90 161.08 L211.40 161.07 L211.90 161.05 L212.40 161.03 L212.90 161.00 L213.40 160.95 L213.90 160.89 L214.40 160.80 L214.90 160.68 L215.40 160.51 L215.90 160.26 L216.40 159.87 L216.90 159.25 L217.40 158.25 L217.90 156.67 L218.40 154.29 L218.90 150.89 L219.40 146.40 L219.90 140.98 L220.40 135.05 L220.90 129.35 L221.40 124.74 L221.90 122.06 L222.40 121.80 L222.90 124.03 L223.40 128.31 L223.90 133.86 L224.40 139.81 L224.90 145.38 L225.40 150.08 L225.90 153.69 L226.40 156.27 L226.90 157.99 L227.40 159.09 L227.90 159.77 L228.40 160.20 L228.90 160.47 L229.40 160.65 L229.90 160.78 L230.40 160.87 L230.90 160.94 L231.40 160.99 L231.90 161.02 L232.40 161.05 L232.90 161.07 L233.40 161.08 L233.90 161.09 L234.40 161.09 L234.90 161.10 L235.40 161.10 L235.90 161.10 L236.40 161.10 L236.90 161.10 L237.40 161.10 L237.90 161.10 L238.40 161.10 L238.90 161.10 L239.40 161.10 L239.90 161.10 L240.40 161.10 L240.90 161.10 L241.40 161.10 L241.90 161.10 L242.40 161.10 L242.90 161.10 L243.40 161.10 L243.90 161.10 L244.40 161.10 L244.90 161.10 L245.40 161.10 L245.90 161.10 L246.40 161.10 L246.90 161.10 L247.40 161.10 L247.90 161.10 L248.40 161.10 L248.90 161.10 L249.40 161.10 L249.90 161.10 L250.40 161.10 L250.90 161.10 L251.40 161.10 L251.90 161.10 L252.40 161.10 L252.90 161.10 L253.40 161.10 L253.90 161.10 L254.40 161.10 L254.90 161.10 L255.40 161.10 L255.90 161.10 L256.40 161.10 L256.90 161.10 L257.40 161.10 L257.90 161.10 L258.40 161.10 L258.90 161.10 L259.40 161.10 L259.90 161.10 L260.40 161.10 L260.90 161.10 L261.40 161.10 L261.90 161.10 L262.40 161.10 L262.90 161.10 L263.00 161.10 Z" fill="#e3261c"/>
<path d="M189.40 161.10 L189.40 161.10 L189.90 161.10 L190.40 161.10 L190.90 161.10 L191.40 161.10 L191.90 161.10 L192.40 161.10 L192.90 161.10 L193.40 161.10 L193.90 161.10 L194.40 161.10 L194.90 161.10 L195.40 161.10 L195.90 161.10 L196.40 161.10 L196.90 161.10 L197.40 161.10 L197.90 161.10 L198.40 161.10 L198.90 161.10 L199.40 161.10 L199.90 161.10 L200.40 161.10 L200.90 161.10 L201.40 161.10 L201.90 161.10 L202.40 161.10 L202.90 161.10 L203.40 161.10 L203.90 161.10 L204.40 161.10 L204.90 161.10 L205.40 161.10 L205.90 161.10 L206.40 161.10 L206.90 161.10 L207.40 161.10 L207.90 161.10 L208.40 161.10 L208.90 161.10 L209.40 161.10 L209.90 161.10 L210.40 161.10 L210.90 161.10 L211.40 161.10 L211.90 161.10 L212.40 161.10 L212.90 161.10 L213.40 161.10 L213.90 161.10 L214.40 161.10 L214.90 161.10 L215.40 161.10 L215.90 161.10 L216.40 161.10 L216.90 161.10 L217.40 161.10 L217.90 161.10 L218.40 161.10 L218.90 161.10 L219.40 161.10 L219.90 161.10 L220.40 161.10 L220.90 161.10 L221.40 161.10 L221.90 161.10 L222.40 161.10 L222.90 161.10 L223.40 161.10 L223.90 161.10 L224.40 161.10 L224.90 161.10 L225.40 161.10 L225.90 161.10 L226.40 161.10 L226.90 161.10 L227.40 161.10 L227.90 161.10 L228.40 161.10 L228.90 161.10 L229.40 161.10 L229.90 161.10 L230.40 161.10 L230.90 161.10 L231.40 161.10 L231.90 161.10 L232.40 161.10 L232.90 161.10 L233.40 161.09 L233.90 161.08 L234.40 161.06 L234.90 161.03 L235.40 160.97 L235.90 160.87 L236.40 160.72 L236.90 160.49 L237.40 160.16 L237.90 159.70 L238.40 159.10 L238.90 158.36 L239.40 157.49 L239.90 156.52 L240.40 155.53 L240.90 154.59 L241.40 153.79 L241.90 153.22 L242.40 152.93 L242.90 152.96 L243.40 153.31 L243.90 153.94 L244.40 154.77 L244.90 155.73 L245.40 156.72 L245.90 157.67 L246.40 158.52 L246.90 159.23 L247.40 159.80 L247.90 160.23 L248.40 160.54 L248.90 160.76 L249.40 160.90 L249.90 160.98 L250.40 161.04 L250.90 161.07 L251.40 161.08 L251.90 161.09 L252.40 161.10 L252.90 161.10 L253.40 161.10 L253.90 161.10 L254.40 161.10 L254.90 161.10 L255.40 161.10 L255.90 161.10 L256.40 161.10 L256.90 161.10 L257.40 161.10 L257.90 161.10 L258.40 161.10 L258.90 161.10 L259.40 161.10 L259.90 161.10 L260.40 161.10 L260.90 161.10 L261.40 161.10 L261.90 161.10 L262.40 161.10 L262.90 161.10 L263.00 161.10 Z" fill="#e3261c"/>
<path d="M189.40 161.10 L189.40 161.10 L189.90 161.10 L190.40 161.10 L190.90 161.10 L191.40 161.10 L191.90 161.10 L192.40 161.10 L192.90 161.10 L193.40 161.10 L193.90 161.10 L194.40 161.10 L194.90 161.10 L195.40 161.10 L195.90 161.10 L196.40 161.10 L196.90 161.10 L197.40 161.10 L197.90 161.10 L198.40 161.10 L198.90 161.10 L199.40 161.10 L199.90 161.10 L200.40 161.10 L200.90 161.10 L201.40 161.10 L201.90 161.10 L202.40 161.10 L202.90 161.10 L203.40 161.10 L203.90 161.10 L204.40 161.10 L204.90 161.10 L205.40 161.10 L205.90 161.10 L206.40 161.10 L206.90 161.10 L207.40 161.10 L207.90 161.10 L208.40 161.10 L208.90 161.10 L209.40 161.10 L209.90 161.10 L210.40 161.10 L210.90 161.10 L211.40 161.10 L211.90 161.10 L212.40 161.10 L212.90 161.10 L213.40 161.10 L213.90 161.10 L214.40 161.10 L214.90 161.10 L215.40 161.10 L215.90 161.10 L216.40 161.10 L216.90 161.10 L217.40 161.10 L217.90 161.10 L218.40 161.10 L218.90 161.10 L219.40 159.95 L219.90 158.52 L220.40 157.08 L220.90 155.65 L221.40 154.21 L221.90 152.78 L222.40 151.35 L222.90 149.91 L223.40 148.48 L223.90 147.04 L224.40 145.61 L224.90 144.17 L225.40 143.94 L225.90 144.51 L226.40 145.07 L226.90 145.64 L227.40 146.21 L227.90 146.77 L228.40 147.34 L228.90 147.90 L229.40 148.47 L229.90 149.04 L230.40 149.60 L230.90 150.17 L231.40 150.74 L231.90 151.30 L232.40 151.87 L232.90 152.44 L233.40 153.00 L233.90 153.57 L234.40 154.14 L234.90 154.70 L235.40 155.27 L235.90 155.83 L236.40 156.40 L236.90 156.97 L237.40 157.53 L237.90 158.10 L238.40 158.31 L238.90 158.52 L239.40 158.73 L239.90 158.95 L240.40 159.16 L240.90 159.37 L241.40 159.58 L241.90 159.79 L242.40 160.00 L242.90 160.21 L243.40 160.42 L243.90 160.64 L244.40 160.85 L244.90 161.06 L245.40 161.10 L245.90 161.10 L246.40 161.10 L246.90 161.10 L247.40 161.10 L247.90 161.10 L248.40 161.10 L248.90 161.10 L249.40 161.10 L249.90 161.10 L250.40 161.10 L250.90 161.10 L251.40 161.10 L251.90 161.10 L252.40 161.10 L252.90 161.10 L253.40 161.10 L253.90 161.10 L254.40 161.10 L254.90 161.10 L255.40 161.10 L255.90 161.10 L256.40 161.10 L256.90 161.10 L257.40 161.10 L257.90 161.10 L258.40 161.10 L258.90 161.10 L259.40 161.10 L259.90 161.10 L260.40 161.10 L260.90 161.10 L261.40 161.10 L261.90 161.10 L262.40 161.10 L262.90 161.10 L263.00 161.10 Z" fill="#cbcff3" style="mix-blend-mode:multiply"/>
<path d="M189.40 161.10 L190.15 161.10 L190.90 161.10 L191.65 161.10 L192.40 161.10 L193.15 161.10 L193.90 161.10 L194.65 161.10 L195.40 161.10 L196.15 161.10 L196.90 161.10 L197.65 161.10 L198.40 161.10 L199.15 161.10 L199.90 161.10 L200.65 161.10 L201.40 161.10 L202.15 161.10 L202.90 161.10 L203.65 161.10 L204.40 161.10 L205.15 161.10 L205.90 161.10 L206.65 161.10 L207.40 161.10 L208.15 161.10 L208.90 161.10 L209.65 161.10 L210.40 161.10 L211.15 161.10 L211.90 161.10 L212.65 161.10 L213.40 161.09 L214.15 161.00 L214.90 160.50 L215.65 160.00 L216.40 159.46 L217.15 158.41 L217.90 154.61 L218.65 151.39 L219.40 145.28 L220.15 137.75 L220.90 130.55 L221.65 123.23 L222.40 120.10 L223.15 112.68 L223.90 107.05 L224.65 105.63 L225.40 111.29 L226.15 122.45 L226.90 129.35 L227.65 137.05 L228.40 144.41 L229.15 151.83 L229.90 154.02 L230.65 156.22 L231.40 156.24 L232.15 155.58 L232.90 155.04 L233.65 157.03 L234.40 158.68 L235.15 158.29 L235.90 157.98 L236.65 157.42 L237.40 157.05 L238.15 156.65 L238.90 156.17 L239.65 155.85 L240.40 156.05 L241.15 156.02 L241.90 156.29 L242.65 156.37 L243.40 156.85 L244.15 156.79 L244.90 156.91 L245.65 157.16 L246.40 157.54 L247.15 157.54 L247.90 157.39 L248.65 157.42 L249.40 157.19 L250.15 156.99 L250.90 157.03 L251.65 157.71 L252.40 158.12 L253.15 158.59 L253.90 159.07 L254.65 159.22 L255.40 159.39 L256.15 159.42 L256.90 159.56 L257.65 159.71 L258.40 159.83 L259.15 160.00 L259.90 160.21 L260.65 160.42 L261.40 160.63 L262.15 161.10 L262.90 161.10" fill="none" stroke="#2c2c2c" stroke-width="0.7"/>
<path d="M188.4 99.0 V164.3 M185.2 161.1 H264.0" fill="none" stroke="#555" stroke-width="0.6"/>
<line x1="187.1" y1="161.1" x2="188.4" y2="161.1" stroke="#222" stroke-width="0.55"/>
<line x1="187.1" y1="158.0" x2="188.4" y2="158.0" stroke="#222" stroke-width="0.55"/>
<line x1="187.1" y1="154.9" x2="188.4" y2="154.9" stroke="#222" stroke-width="0.55"/>
<line x1="187.1" y1="151.8" x2="188.4" y2="151.8" stroke="#222" stroke-width="0.55"/>
<line x1="187.1" y1="148.7" x2="188.4" y2="148.7" stroke="#222" stroke-width="0.55"/>
<line x1="187.1" y1="145.6" x2="188.4" y2="145.6" stroke="#222" stroke-width="0.55"/>
<line x1="187.1" y1="142.5" x2="188.4" y2="142.5" stroke="#222" stroke-width="0.55"/>
<line x1="187.1" y1="139.4" x2="188.4" y2="139.4" stroke="#222" stroke-width="0.55"/>
<line x1="187.1" y1="136.3" x2="188.4" y2="136.3" stroke="#222" stroke-width="0.55"/>
<line x1="187.1" y1="133.2" x2="188.4" y2="133.2" stroke="#222" stroke-width="0.55"/>
<line x1="187.1" y1="130.0" x2="188.4" y2="130.0" stroke="#222" stroke-width="0.55"/>
<line x1="187.1" y1="126.9" x2="188.4" y2="126.9" stroke="#222" stroke-width="0.55"/>
<line x1="187.1" y1="123.8" x2="188.4" y2="123.8" stroke="#222" stroke-width="0.55"/>
<line x1="187.1" y1="120.7" x2="188.4" y2="120.7" stroke="#222" stroke-width="0.55"/>
<line x1="187.1" y1="117.6" x2="188.4" y2="117.6" stroke="#222" stroke-width="0.55"/>
<line x1="187.1" y1="114.5" x2="188.4" y2="114.5" stroke="#222" stroke-width="0.55"/>
<line x1="187.1" y1="111.4" x2="188.4" y2="111.4" stroke="#222" stroke-width="0.55"/>
<line x1="187.1" y1="108.3" x2="188.4" y2="108.3" stroke="#222" stroke-width="0.55"/>
<line x1="187.1" y1="105.2" x2="188.4" y2="105.2" stroke="#222" stroke-width="0.55"/>
<line x1="187.1" y1="102.1" x2="188.4" y2="102.1" stroke="#222" stroke-width="0.55"/>
<line x1="187.1" y1="99.0" x2="188.4" y2="99.0" stroke="#222" stroke-width="0.55"/>
<line x1="188.4" y1="161.1" x2="188.4" y2="162.4" stroke="#222" stroke-width="0.55"/>
<line x1="192.2" y1="161.1" x2="192.2" y2="162.4" stroke="#222" stroke-width="0.55"/>
<line x1="196.0" y1="161.1" x2="196.0" y2="162.4" stroke="#222" stroke-width="0.55"/>
<line x1="199.7" y1="161.1" x2="199.7" y2="162.4" stroke="#222" stroke-width="0.55"/>
<line x1="203.5" y1="161.1" x2="203.5" y2="162.4" stroke="#222" stroke-width="0.55"/>
<line x1="207.3" y1="161.1" x2="207.3" y2="162.4" stroke="#222" stroke-width="0.55"/>
<line x1="211.1" y1="161.1" x2="211.1" y2="162.4" stroke="#222" stroke-width="0.55"/>
<line x1="214.9" y1="161.1" x2="214.9" y2="162.4" stroke="#222" stroke-width="0.55"/>
<line x1="218.6" y1="161.1" x2="218.6" y2="162.4" stroke="#222" stroke-width="0.55"/>
<line x1="222.4" y1="161.1" x2="222.4" y2="162.4" stroke="#222" stroke-width="0.55"/>
<line x1="226.2" y1="161.1" x2="226.2" y2="162.4" stroke="#222" stroke-width="0.55"/>
<line x1="230.0" y1="161.1" x2="230.0" y2="162.4" stroke="#222" stroke-width="0.55"/>
<line x1="233.8" y1="161.1" x2="233.8" y2="162.4" stroke="#222" stroke-width="0.55"/>
<line x1="237.5" y1="161.1" x2="237.5" y2="162.4" stroke="#222" stroke-width="0.55"/>
<line x1="241.3" y1="161.1" x2="241.3" y2="162.4" stroke="#222" stroke-width="0.55"/>
<line x1="245.1" y1="161.1" x2="245.1" y2="162.4" stroke="#222" stroke-width="0.55"/>
<line x1="248.9" y1="161.1" x2="248.9" y2="162.4" stroke="#222" stroke-width="0.55"/>
<line x1="252.7" y1="161.1" x2="252.7" y2="162.4" stroke="#222" stroke-width="0.55"/>
<line x1="256.4" y1="161.1" x2="256.4" y2="162.4" stroke="#222" stroke-width="0.55"/>
<line x1="260.2" y1="161.1" x2="260.2" y2="162.4" stroke="#222" stroke-width="0.55"/>
<line x1="264.0" y1="161.1" x2="264.0" y2="162.4" stroke="#222" stroke-width="0.55"/>
<path d="M222.2 161.6 l1.3 2.4 h-2.6 z" fill="#000"/>
<path d="M242.6 161.6 l1.3 2.4 h-2.6 z" fill="#000"/>
<rect x="187.6" y="164.1" width="1.6" height="0.9" fill="#777"/>
<rect x="202.3" y="164.1" width="2.4" height="0.9" fill="#777"/>
<rect x="217.4" y="164.1" width="2.4" height="0.9" fill="#777"/>
<rect x="232.6" y="164.1" width="2.4" height="0.9" fill="#777"/>
<rect x="247.7" y="164.1" width="2.4" height="0.9" fill="#777"/>
<rect x="262.8" y="164.1" width="2.4" height="0.9" fill="#777"/>
<rect x="184.4" y="147.4" width="1.3" height="2.6" fill="#a0a0a0"/>
<rect x="184.4" y="135.0" width="1.3" height="2.6" fill="#a0a0a0"/>
<rect x="184.4" y="122.5" width="1.3" height="2.6" fill="#a0a0a0"/>
<rect x="184.4" y="110.1" width="1.3" height="2.6" fill="#a0a0a0"/>
<rect x="184.4" y="97.7" width="1.3" height="2.6" fill="#a0a0a0"/>
<text transform="translate(183.3 128.5) rotate(-90)" font-size="5.0" text-anchor="middle" fill="#1a1a1a" stroke="#1a1a1a" stroke-width="0.18" textLength="17.5" lengthAdjust="spacingAndGlyphs">Number</text>
<text x="225.0" y="171.6" font-size="4.5" font-weight="bold" fill="#222" textLength="11.6" lengthAdjust="spacingAndGlyphs">PI-A</text>
<text x="194.4" y="105.0" font-size="5.8" font-weight="bold" fill="#000" stroke="#000" stroke-width="0.3" textLength="15.4" lengthAdjust="spacingAndGlyphs">5-FU</text>
<text x="194.4" y="112.2" font-size="5.8" font-weight="bold" fill="#000" stroke="#000" stroke-width="0.3" textLength="11.6" lengthAdjust="spacingAndGlyphs">48h</text>
<rect x="243.6" y="98.2" width="5.2" height="3.4" fill="#e3261c"/>
<rect x="243.6" y="102.0" width="5.2" height="3.3" fill="#e3261c"/>
<path d="M243.9 106.7 l1.3 2.2 M245.6 106.7 l1.3 2.2 M247.3 106.7 l1.3 2.2" stroke="#1a2ac8" stroke-width="0.8"/>
<text x="251.3" y="101.3" font-size="3.5" font-weight="bold" fill="#1428d8" stroke="#1428d8" stroke-width="0.08">G0G1</text>
<text x="251.3" y="105.2" font-size="3.5" font-weight="bold" fill="#1428d8" stroke="#1428d8" stroke-width="0.08">G2M</text>
<text x="251.3" y="109.3" font-size="3.5" font-weight="bold" fill="#1428d8" stroke="#1428d8" stroke-width="0.08">S-Phase</text>
<path d="M278.60 161.40 L278.60 161.40 L279.10 161.40 L279.60 161.40 L280.10 161.40 L280.60 161.40 L281.10 161.40 L281.60 161.40 L282.10 161.40 L282.60 161.40 L283.10 161.40 L283.60 161.40 L284.10 161.40 L284.60 161.40 L285.10 161.40 L285.60 161.40 L286.10 161.40 L286.60 161.40 L287.10 161.40 L287.60 161.40 L288.10 161.40 L288.60 161.40 L289.10 161.40 L289.60 161.40 L290.10 161.40 L290.60 161.40 L291.10 161.40 L291.60 161.40 L292.10 161.40 L292.60 161.40 L293.10 161.40 L293.60 161.40 L294.10 161.40 L294.60 161.40 L295.10 161.40 L295.60 161.40 L296.10 161.40 L296.60 161.40 L297.10 161.40 L297.60 161.40 L298.10 161.40 L298.60 161.40 L299.10 161.39 L299.60 161.39 L300.10 161.39 L300.60 161.38 L301.10 161.38 L301.60 161.37 L302.10 161.35 L302.60 161.33 L303.10 161.31 L303.60 161.28 L304.10 161.24 L304.60 161.19 L305.10 161.12 L305.60 161.04 L306.10 160.94 L306.60 160.82 L307.10 160.66 L307.60 160.46 L308.10 160.20 L308.60 159.84 L309.10 159.34 L309.60 158.63 L310.10 157.61 L310.60 156.19 L311.10 154.27 L311.60 151.77 L312.10 148.67 L312.60 145.05 L313.10 141.11 L313.60 137.12 L314.10 133.49 L314.60 130.62 L315.10 128.85 L315.60 128.43 L316.10 129.41 L316.60 131.65 L317.10 134.88 L317.60 138.70 L318.10 142.71 L318.60 146.55 L319.10 149.98 L319.60 152.84 L320.10 155.10 L320.60 156.81 L321.10 158.06 L321.60 158.94 L322.10 159.56 L322.60 160.00 L323.10 160.32 L323.60 160.55 L324.10 160.73 L324.60 160.87 L325.10 160.98 L325.60 161.08 L326.10 161.15 L326.60 161.21 L327.10 161.26 L327.60 161.29 L328.10 161.32 L328.60 161.34 L329.10 161.36 L329.60 161.37 L330.10 161.38 L330.60 161.39 L331.10 161.39 L331.60 161.39 L332.10 161.40 L332.60 161.40 L333.10 161.40 L333.60 161.40 L334.10 161.40 L334.60 161.40 L335.10 161.40 L335.60 161.40 L336.10 161.40 L336.60 161.40 L337.10 161.40 L337.60 161.40 L338.10 161.40 L338.60 161.40 L339.10 161.40 L339.60 161.40 L340.10 161.40 L340.60 161.40 L341.10 161.40 L341.60 161.40 L342.10 161.40 L342.60 161.40 L343.10 161.40 L343.60 161.40 L344.10 161.40 L344.60 161.40 L345.10 161.40 L345.60 161.40 L346.10 161.40 L346.60 161.40 L347.10 161.40 L347.60 161.40 L348.10 161.40 L348.60 161.40 L349.10 161.40 L349.60 161.40 L350.10 161.40 L350.60 161.40 L351.00 161.40 Z" fill="#e3261c"/>
<path d="M278.60 161.40 L278.60 161.40 L279.10 161.40 L279.60 161.40 L280.10 161.40 L280.60 161.40 L281.10 161.40 L281.60 161.40 L282.10 161.40 L282.60 161.40 L283.10 161.40 L283.60 161.40 L284.10 161.40 L284.60 161.40 L285.10 161.40 L285.60 161.40 L286.10 161.40 L286.60 161.40 L287.10 161.40 L287.60 161.40 L288.10 161.40 L288.60 161.40 L289.10 161.40 L289.60 161.40 L290.10 161.40 L290.60 161.40 L291.10 161.40 L291.60 161.40 L292.10 161.40 L292.60 161.40 L293.10 161.40 L293.60 161.40 L294.10 161.40 L294.60 161.40 L295.10 161.40 L295.60 161.40 L296.10 161.40 L296.60 161.40 L297.10 161.40 L297.60 161.40 L298.10 161.40 L298.60 161.40 L299.10 161.40 L299.60 161.40 L300.10 161.40 L300.60 161.40 L301.10 161.40 L301.60 161.40 L302.10 161.40 L302.60 161.40 L303.10 161.40 L303.60 161.40 L304.10 161.40 L304.60 161.40 L305.10 161.40 L305.60 161.40 L306.10 161.40 L306.60 161.40 L307.10 161.40 L307.60 161.40 L308.10 161.40 L308.60 161.40 L309.10 161.40 L309.60 161.40 L310.10 161.40 L310.60 161.40 L311.10 161.40 L311.60 161.40 L312.10 161.40 L312.60 161.40 L313.10 161.40 L313.60 161.40 L314.10 161.40 L314.60 161.40 L315.10 161.40 L315.60 161.40 L316.10 161.40 L316.60 161.40 L317.10 161.40 L317.60 161.40 L318.10 161.40 L318.60 161.40 L319.10 161.40 L319.60 161.40 L320.10 161.40 L320.60 161.40 L321.10 161.40 L321.60 161.40 L322.10 161.40 L322.60 161.40 L323.10 161.40 L323.60 161.40 L324.10 161.40 L324.60 161.40 L325.10 161.39 L325.60 161.39 L326.10 161.38 L326.60 161.37 L327.10 161.36 L327.60 161.34 L328.10 161.32 L328.60 161.29 L329.10 161.25 L329.60 161.20 L330.10 161.14 L330.60 161.06 L331.10 160.97 L331.60 160.87 L332.10 160.76 L332.60 160.65 L333.10 160.53 L333.60 160.41 L334.10 160.29 L334.60 160.19 L335.10 160.11 L335.60 160.05 L336.10 160.01 L336.60 160.00 L337.10 160.02 L337.60 160.07 L338.10 160.14 L338.60 160.23 L339.10 160.34 L339.60 160.45 L340.10 160.58 L340.60 160.70 L341.10 160.81 L341.60 160.92 L342.10 161.01 L342.60 161.09 L343.10 161.16 L343.60 161.22 L344.10 161.27 L344.60 161.30 L345.10 161.33 L345.60 161.35 L346.10 161.37 L346.60 161.38 L347.10 161.39 L347.60 161.39 L348.10 161.39 L348.60 161.40 L349.10 161.40 L349.60 161.40 L350.10 161.40 L350.60 161.40 L351.00 161.40 Z" fill="#e3261c"/>
<path d="M278.60 161.40 L278.60 161.40 L279.10 161.40 L279.60 161.40 L280.10 161.40 L280.60 161.40 L281.10 161.40 L281.60 161.40 L282.10 161.40 L282.60 161.40 L283.10 161.40 L283.60 161.40 L284.10 161.40 L284.60 161.40 L285.10 161.40 L285.60 161.40 L286.10 161.40 L286.60 161.40 L287.10 161.40 L287.60 161.40 L288.10 161.40 L288.60 161.40 L289.10 161.40 L289.60 161.40 L290.10 161.40 L290.60 161.40 L291.10 161.40 L291.60 161.40 L292.10 161.40 L292.60 161.40 L293.10 161.40 L293.60 161.40 L294.10 161.40 L294.60 161.40 L295.10 161.40 L295.60 161.40 L296.10 161.40 L296.60 161.40 L297.10 161.40 L297.60 161.40 L298.10 161.40 L298.60 161.40 L299.10 161.40 L299.60 161.40 L300.10 161.40 L300.60 161.40 L301.10 161.40 L301.60 161.40 L302.10 161.40 L302.60 161.40 L303.10 161.40 L303.60 161.40 L304.10 161.40 L304.60 161.40 L305.10 161.40 L305.60 161.40 L306.10 161.40 L306.60 161.40 L307.10 161.40 L307.60 161.40 L308.10 161.40 L308.60 161.40 L309.10 161.40 L309.60 161.40 L310.10 161.40 L310.60 161.40 L311.10 161.40 L311.60 161.40 L312.10 161.40 L312.60 161.40 L313.10 161.18 L313.60 160.08 L314.10 158.98 L314.60 157.88 L315.10 156.78 L315.60 155.68 L316.10 154.58 L316.60 153.48 L317.10 152.38 L317.60 151.28 L318.10 150.21 L318.60 149.27 L319.10 148.34 L319.60 147.40 L320.10 146.46 L320.60 145.91 L321.10 145.93 L321.60 145.95 L322.10 145.97 L322.60 146.00 L323.10 146.00 L323.60 146.00 L324.10 146.00 L324.60 146.00 L325.10 146.00 L325.60 146.00 L326.10 146.00 L326.60 146.00 L327.10 146.66 L327.60 147.49 L328.10 148.32 L328.60 149.15 L329.10 149.98 L329.60 150.81 L330.10 151.64 L330.60 152.47 L331.10 153.07 L331.60 153.53 L332.10 153.98 L332.60 154.43 L333.10 154.88 L333.60 155.34 L334.10 155.79 L334.60 156.24 L335.10 156.70 L335.60 157.15 L336.10 157.60 L336.60 158.06 L337.10 158.51 L337.60 158.81 L338.10 159.06 L338.60 159.32 L339.10 159.58 L339.60 159.83 L340.10 160.09 L340.60 160.35 L341.10 160.52 L341.60 160.67 L342.10 160.82 L342.60 160.98 L343.10 161.13 L343.60 161.28 L344.10 161.40 L344.60 161.40 L345.10 161.40 L345.60 161.40 L346.10 161.40 L346.60 161.40 L347.10 161.40 L347.60 161.40 L348.10 161.40 L348.60 161.40 L349.10 161.40 L349.60 161.40 L350.10 161.40 L350.60 161.40 L351.00 161.40 Z" fill="#cbcff3" style="mix-blend-mode:multiply"/>
<path d="M278.60 161.10 L279.10 161.10 L279.60 161.10 L280.10 161.10 L280.60 161.10 L281.10 161.10 L281.60 161.10 L282.10 161.10 L282.60 161.10 L283.10 161.10 L283.60 161.10 L284.10 161.10 L284.60 161.10 L285.10 161.10 L285.60 161.10 L286.10 161.10 L286.60 161.10 L287.10 161.10 L287.60 161.10 L288.10 161.10 L288.60 161.10 L289.10 161.10 L289.60 161.10 L290.10 161.10 L290.60 161.10 L291.10 161.10 L291.60 161.10 L292.10 161.10 L292.60 161.10 L293.10 161.10 L293.60 161.10 L294.10 161.10 L294.60 161.10 L295.10 161.10 L295.60 161.10 L296.10 161.10 L296.60 161.10 L297.10 161.10 L297.60 161.10 L298.10 161.10 L298.60 161.10 L299.10 161.09 L299.60 161.09 L300.10 161.09 L300.60 161.08 L301.10 161.08 L301.60 161.07 L302.10 161.05 L302.60 161.03 L303.10 161.01 L303.60 160.98 L304.10 160.94 L304.60 160.89 L305.10 160.82 L305.60 160.74 L306.10 160.64 L306.60 160.52 L307.10 160.36 L307.60 160.16 L308.10 159.90 L308.60 158.92 L309.10 156.85 L309.60 154.78 L310.10 152.71 L310.60 150.64 L311.10 148.57 L311.60 146.50 L312.10 142.36 L312.60 138.21 L313.10 134.07 L313.60 129.93 L314.10 126.66 L314.60 123.61 L315.10 119.88 L315.60 112.03 L316.10 106.63 L316.60 104.70 L317.10 106.63 L317.60 112.03 L318.10 119.88 L318.60 128.82 L319.10 132.51 L319.60 135.92 L320.10 139.34 L320.60 141.02 L321.10 142.23 L321.60 143.19 L322.10 143.84 L322.60 144.30 L323.10 144.61 L323.60 144.85 L324.10 145.03 L324.60 145.17 L325.10 145.28 L325.60 145.30 L326.10 145.30 L326.60 145.30 L327.10 145.98 L327.60 146.84 L328.10 147.69 L328.60 148.54 L329.10 149.40 L329.60 150.25 L330.10 151.06 L330.60 151.82 L331.10 152.34 L331.60 152.69 L332.10 153.04 L332.60 153.38 L333.10 153.71 L333.60 154.04 L334.10 154.38 L334.60 154.74 L335.10 155.10 L335.60 155.50 L336.10 155.91 L336.60 156.36 L337.10 156.83 L337.60 157.17 L338.10 157.50 L338.60 157.85 L339.10 158.21 L339.60 158.59 L340.10 158.97 L340.60 159.34 L341.10 159.63 L341.60 159.89 L342.10 160.13 L342.60 160.37 L343.10 160.59 L343.60 160.80 L344.10 160.97 L344.60 161.00 L345.10 161.03 L345.60 161.05 L346.10 161.07 L346.60 161.08 L347.10 161.09 L347.60 161.09 L348.10 161.09 L348.60 161.10 L349.10 161.10 L349.60 161.10 L350.10 161.10 L350.60 161.10" fill="none" stroke="#2c2c2c" stroke-width="0.7"/>
<path d="M277.6 98.0 V164.6 M274.4 161.4 H352.0" fill="none" stroke="#555" stroke-width="0.6"/>
<line x1="276.3" y1="161.4" x2="277.6" y2="161.4" stroke="#222" stroke-width="0.55"/>
<line x1="276.3" y1="158.2" x2="277.6" y2="158.2" stroke="#222" stroke-width="0.55"/>
<line x1="276.3" y1="155.1" x2="277.6" y2="155.1" stroke="#222" stroke-width="0.55"/>
<line x1="276.3" y1="151.9" x2="277.6" y2="151.9" stroke="#222" stroke-width="0.55"/>
<line x1="276.3" y1="148.7" x2="277.6" y2="148.7" stroke="#222" stroke-width="0.55"/>
<line x1="276.3" y1="145.6" x2="277.6" y2="145.6" stroke="#222" stroke-width="0.55"/>
<line x1="276.3" y1="142.4" x2="277.6" y2="142.4" stroke="#222" stroke-width="0.55"/>
<line x1="276.3" y1="139.2" x2="277.6" y2="139.2" stroke="#222" stroke-width="0.55"/>
<line x1="276.3" y1="136.0" x2="277.6" y2="136.0" stroke="#222" stroke-width="0.55"/>
<line x1="276.3" y1="132.9" x2="277.6" y2="132.9" stroke="#222" stroke-width="0.55"/>
<line x1="276.3" y1="129.7" x2="277.6" y2="129.7" stroke="#222" stroke-width="0.55"/>
<line x1="276.3" y1="126.5" x2="277.6" y2="126.5" stroke="#222" stroke-width="0.55"/>
<line x1="276.3" y1="123.4" x2="277.6" y2="123.4" stroke="#222" stroke-width="0.55"/>
<line x1="276.3" y1="120.2" x2="277.6" y2="120.2" stroke="#222" stroke-width="0.55"/>
<line x1="276.3" y1="117.0" x2="277.6" y2="117.0" stroke="#222" stroke-width="0.55"/>
<line x1="276.3" y1="113.8" x2="277.6" y2="113.8" stroke="#222" stroke-width="0.55"/>
<line x1="276.3" y1="110.7" x2="277.6" y2="110.7" stroke="#222" stroke-width="0.55"/>
<line x1="276.3" y1="107.5" x2="277.6" y2="107.5" stroke="#222" stroke-width="0.55"/>
<line x1="276.3" y1="104.3" x2="277.6" y2="104.3" stroke="#222" stroke-width="0.55"/>
<line x1="276.3" y1="101.2" x2="277.6" y2="101.2" stroke="#222" stroke-width="0.55"/>
<line x1="276.3" y1="98.0" x2="277.6" y2="98.0" stroke="#222" stroke-width="0.55"/>
<line x1="277.6" y1="161.4" x2="277.6" y2="162.7" stroke="#222" stroke-width="0.55"/>
<line x1="281.3" y1="161.4" x2="281.3" y2="162.7" stroke="#222" stroke-width="0.55"/>
<line x1="285.0" y1="161.4" x2="285.0" y2="162.7" stroke="#222" stroke-width="0.55"/>
<line x1="288.8" y1="161.4" x2="288.8" y2="162.7" stroke="#222" stroke-width="0.55"/>
<line x1="292.5" y1="161.4" x2="292.5" y2="162.7" stroke="#222" stroke-width="0.55"/>
<line x1="296.2" y1="161.4" x2="296.2" y2="162.7" stroke="#222" stroke-width="0.55"/>
<line x1="299.9" y1="161.4" x2="299.9" y2="162.7" stroke="#222" stroke-width="0.55"/>
<line x1="303.6" y1="161.4" x2="303.6" y2="162.7" stroke="#222" stroke-width="0.55"/>
<line x1="307.4" y1="161.4" x2="307.4" y2="162.7" stroke="#222" stroke-width="0.55"/>
<line x1="311.1" y1="161.4" x2="311.1" y2="162.7" stroke="#222" stroke-width="0.55"/>
<line x1="314.8" y1="161.4" x2="314.8" y2="162.7" stroke="#222" stroke-width="0.55"/>
<line x1="318.5" y1="161.4" x2="318.5" y2="162.7" stroke="#222" stroke-width="0.55"/>
<line x1="322.2" y1="161.4" x2="322.2" y2="162.7" stroke="#222" stroke-width="0.55"/>
<line x1="326.0" y1="161.4" x2="326.0" y2="162.7" stroke="#222" stroke-width="0.55"/>
<line x1="329.7" y1="161.4" x2="329.7" y2="162.7" stroke="#222" stroke-width="0.55"/>
<line x1="333.4" y1="161.4" x2="333.4" y2="162.7" stroke="#222" stroke-width="0.55"/>
<line x1="337.1" y1="161.4" x2="337.1" y2="162.7" stroke="#222" stroke-width="0.55"/>
<line x1="340.8" y1="161.4" x2="340.8" y2="162.7" stroke="#222" stroke-width="0.55"/>
<line x1="344.6" y1="161.4" x2="344.6" y2="162.7" stroke="#222" stroke-width="0.55"/>
<line x1="348.3" y1="161.4" x2="348.3" y2="162.7" stroke="#222" stroke-width="0.55"/>
<line x1="352.0" y1="161.4" x2="352.0" y2="162.7" stroke="#222" stroke-width="0.55"/>
<path d="M315.5 161.9 l1.3 2.4 h-2.6 z" fill="#000"/>
<path d="M336.5 161.9 l1.3 2.4 h-2.6 z" fill="#000"/>
<rect x="276.8" y="164.4" width="1.6" height="0.9" fill="#777"/>
<rect x="291.3" y="164.4" width="2.4" height="0.9" fill="#777"/>
<rect x="306.2" y="164.4" width="2.4" height="0.9" fill="#777"/>
<rect x="321.0" y="164.4" width="2.4" height="0.9" fill="#777"/>
<rect x="335.9" y="164.4" width="2.4" height="0.9" fill="#777"/>
<rect x="350.8" y="164.4" width="2.4" height="0.9" fill="#777"/>
<rect x="273.6" y="147.4" width="1.3" height="2.6" fill="#a0a0a0"/>
<rect x="273.6" y="134.7" width="1.3" height="2.6" fill="#a0a0a0"/>
<rect x="273.6" y="122.1" width="1.3" height="2.6" fill="#a0a0a0"/>
<rect x="273.6" y="109.4" width="1.3" height="2.6" fill="#a0a0a0"/>
<rect x="273.6" y="96.7" width="1.3" height="2.6" fill="#a0a0a0"/>
<text transform="translate(272.5 129.1) rotate(-90)" font-size="5.0" text-anchor="middle" fill="#1a1a1a" stroke="#1a1a1a" stroke-width="0.18" textLength="17.5" lengthAdjust="spacingAndGlyphs">Number</text>
<text x="316.0" y="171.4" font-size="4.5" font-weight="bold" fill="#222" textLength="11.6" lengthAdjust="spacingAndGlyphs">PI-A</text>
<text x="283.0" y="105.0" font-size="5.8" font-weight="bold" fill="#000" stroke="#000" stroke-width="0.3" textLength="15.4" lengthAdjust="spacingAndGlyphs">5-FU</text>
<text x="283.0" y="112.2" font-size="5.8" font-weight="bold" fill="#000" stroke="#000" stroke-width="0.3" textLength="11.6" lengthAdjust="spacingAndGlyphs">72h</text>
<rect x="332.4" y="98.2" width="5.2" height="3.4" fill="#e3261c"/>
<rect x="332.4" y="102.0" width="5.2" height="3.3" fill="#e3261c"/>
<path d="M332.7 106.7 l1.3 2.2 M334.4 106.7 l1.3 2.2 M336.1 106.7 l1.3 2.2" stroke="#1a2ac8" stroke-width="0.8"/>
<text x="340.1" y="101.3" font-size="3.5" font-weight="bold" fill="#1428d8" stroke="#1428d8" stroke-width="0.08">G0G1</text>
<text x="340.1" y="105.2" font-size="3.5" font-weight="bold" fill="#1428d8" stroke="#1428d8" stroke-width="0.08">G2M</text>
<text x="340.1" y="109.3" font-size="3.5" font-weight="bold" fill="#1428d8" stroke="#1428d8" stroke-width="0.08">S-Phase</text>
<path d="M88.60 259.50 L88.60 259.50 L89.10 259.50 L89.60 259.50 L90.10 259.50 L90.60 259.49 L91.10 259.49 L91.60 259.49 L92.10 259.49 L92.60 259.48 L93.10 259.48 L93.60 259.47 L94.10 259.46 L94.60 259.45 L95.10 259.44 L95.60 259.42 L96.10 259.40 L96.60 259.37 L97.10 259.34 L97.60 259.31 L98.10 259.26 L98.60 259.21 L99.10 259.14 L99.60 259.06 L100.10 258.96 L100.60 258.84 L101.10 258.69 L101.60 258.50 L102.10 258.26 L102.60 257.97 L103.10 257.59 L103.60 257.13 L104.10 256.54 L104.60 255.81 L105.10 254.91 L105.60 253.81 L106.10 252.48 L106.60 250.90 L107.10 249.04 L107.60 246.88 L108.10 244.44 L108.60 241.71 L109.10 238.72 L109.60 235.53 L110.10 232.19 L110.60 228.80 L111.10 225.44 L111.60 222.23 L112.10 219.28 L112.60 216.71 L113.10 214.62 L113.60 213.10 L114.10 212.22 L114.60 212.02 L115.10 212.73 L115.60 214.40 L116.10 216.93 L116.60 220.16 L117.10 223.90 L117.60 227.95 L118.10 232.09 L118.60 236.16 L119.10 240.00 L119.60 243.51 L120.10 246.61 L120.60 249.28 L121.10 251.51 L121.60 253.34 L122.10 254.81 L122.60 255.95 L123.10 256.84 L123.60 257.51 L124.10 258.02 L124.60 258.40 L125.10 258.68 L125.60 258.89 L126.10 259.04 L126.60 259.16 L127.10 259.24 L127.60 259.31 L128.10 259.36 L128.60 259.39 L129.10 259.42 L129.60 259.44 L130.10 259.46 L130.60 259.47 L131.10 259.48 L131.60 259.48 L132.10 259.49 L132.60 259.49 L133.10 259.49 L133.60 259.50 L134.10 259.50 L134.60 259.50 L135.10 259.50 L135.60 259.50 L136.10 259.50 L136.60 259.50 L137.10 259.50 L137.60 259.50 L138.10 259.50 L138.60 259.50 L139.10 259.50 L139.60 259.50 L140.10 259.50 L140.60 259.50 L141.10 259.50 L141.60 259.50 L142.10 259.50 L142.60 259.50 L143.10 259.50 L143.60 259.50 L144.10 259.50 L144.60 259.50 L145.10 259.50 L145.60 259.50 L146.10 259.50 L146.60 259.50 L147.10 259.50 L147.60 259.50 L148.10 259.50 L148.60 259.50 L149.10 259.50 L149.60 259.50 L150.10 259.50 L150.60 259.50 L151.10 259.50 L151.60 259.50 L152.10 259.50 L152.60 259.50 L153.10 259.50 L153.60 259.50 L154.10 259.50 L154.60 259.50 L155.10 259.50 L155.60 259.50 L156.10 259.50 L156.60 259.50 L157.10 259.50 L157.60 259.50 L158.10 259.50 L158.60 259.50 L159.10 259.50 L159.60 259.50 L160.10 259.50 L160.60 259.50 L161.10 259.50 L161.60 259.50 L162.10 259.50 L162.60 259.50 L163.10 259.50 L163.60 259.50 L164.10 259.50 L164.60 259.50 L165.10 259.50 L165.60 259.50 L166.10 259.50 L166.60 259.50 L167.10 259.50 L167.60 259.50 L168.10 259.50 L168.60 259.50 L169.10 259.50 L169.60 259.50 L170.10 259.50 L170.60 259.50 L171.00 259.50 Z" fill="#e3261c"/>
<path d="M88.60 259.50 L88.60 259.50 L89.10 259.50 L89.60 259.50 L90.10 259.50 L90.60 259.50 L91.10 259.50 L91.60 259.50 L92.10 259.50 L92.60 259.50 L93.10 259.50 L93.60 259.50 L94.10 259.50 L94.60 259.50 L95.10 259.50 L95.60 259.50 L96.10 259.50 L96.60 259.50 L97.10 259.50 L97.60 259.50 L98.10 259.50 L98.60 259.50 L99.10 259.50 L99.60 259.50 L100.10 259.50 L100.60 259.50 L101.10 259.50 L101.60 259.50 L102.10 259.50 L102.60 259.50 L103.10 259.50 L103.60 259.50 L104.10 259.50 L104.60 259.50 L105.10 259.50 L105.60 259.50 L106.10 259.50 L106.60 259.50 L107.10 259.50 L107.60 259.50 L108.10 259.50 L108.60 259.50 L109.10 259.50 L109.60 259.50 L110.10 259.50 L110.60 259.50 L111.10 259.49 L111.60 259.49 L112.10 259.49 L112.60 259.49 L113.10 259.49 L113.60 259.48 L114.10 259.48 L114.60 259.47 L115.10 259.47 L115.60 259.46 L116.10 259.45 L116.60 259.44 L117.10 259.43 L117.60 259.41 L118.10 259.39 L118.60 259.37 L119.10 259.35 L119.60 259.32 L120.10 259.29 L120.60 259.25 L121.10 259.21 L121.60 259.16 L122.10 259.10 L122.60 259.04 L123.10 258.97 L123.60 258.89 L124.10 258.80 L124.60 258.71 L125.10 258.60 L125.60 258.48 L126.10 258.35 L126.60 258.21 L127.10 258.06 L127.60 257.90 L128.10 257.73 L128.60 257.54 L129.10 257.35 L129.60 257.15 L130.10 256.93 L130.60 256.71 L131.10 256.48 L131.60 256.24 L132.10 256.00 L132.60 255.75 L133.10 255.51 L133.60 255.26 L134.10 255.02 L134.60 254.78 L135.10 254.55 L135.60 254.32 L136.10 254.11 L136.60 253.91 L137.10 253.73 L137.60 253.56 L138.10 253.41 L138.60 253.29 L139.10 253.18 L139.60 253.10 L140.10 253.04 L140.60 253.01 L141.10 253.00 L141.60 253.02 L142.10 253.06 L142.60 253.13 L143.10 253.22 L143.60 253.33 L144.10 253.47 L144.60 253.63 L145.10 253.80 L145.60 253.99 L146.10 254.20 L146.60 254.41 L147.10 254.64 L147.60 254.87 L148.10 255.12 L148.60 255.36 L149.10 255.61 L149.60 255.85 L150.10 256.10 L150.60 256.34 L151.10 256.57 L151.60 256.80 L152.10 257.02 L152.60 257.23 L153.10 257.43 L153.60 257.62 L154.10 257.80 L154.60 257.97 L155.10 258.12 L155.60 258.27 L156.10 258.41 L156.60 258.53 L157.10 258.64 L157.60 258.74 L158.10 258.84 L158.60 258.92 L159.10 259.00 L159.60 259.06 L160.10 259.12 L160.60 259.18 L161.10 259.22 L161.60 259.26 L162.10 259.30 L162.60 259.33 L163.10 259.36 L163.60 259.38 L164.10 259.40 L164.60 259.42 L165.10 259.43 L165.60 259.44 L166.10 259.45 L166.60 259.46 L167.10 259.47 L167.60 259.47 L168.10 259.48 L168.60 259.48 L169.10 259.49 L169.60 259.49 L170.10 259.49 L170.60 259.49 L171.00 259.50 Z" fill="#e3261c"/>
<path d="M88.60 259.50 L88.60 259.50 L89.10 259.50 L89.60 259.50 L90.10 259.50 L90.60 259.50 L91.10 259.50 L91.60 259.50 L92.10 259.50 L92.60 259.50 L93.10 259.50 L93.60 259.50 L94.10 259.50 L94.60 259.50 L95.10 259.50 L95.60 259.50 L96.10 259.50 L96.60 259.50 L97.10 259.50 L97.60 259.50 L98.10 259.50 L98.60 259.50 L99.10 259.50 L99.60 259.50 L100.10 259.50 L100.60 259.50 L101.10 259.50 L101.60 259.50 L102.10 259.50 L102.60 259.50 L103.10 259.50 L103.60 259.50 L104.10 259.50 L104.60 259.50 L105.10 259.50 L105.60 259.50 L106.10 258.90 L106.60 258.31 L107.10 257.71 L107.60 257.11 L108.10 256.51 L108.60 255.92 L109.10 255.32 L109.60 254.72 L110.10 254.12 L110.60 253.53 L111.10 252.93 L111.60 252.33 L112.10 251.73 L112.60 251.14 L113.10 250.54 L113.60 249.94 L114.10 249.34 L114.60 248.75 L115.10 248.15 L115.60 247.55 L116.10 246.95 L116.60 246.36 L117.10 245.76 L117.60 245.16 L118.10 244.56 L118.60 243.97 L119.10 243.37 L119.60 242.77 L120.10 242.18 L120.60 241.58 L121.10 241.16 L121.60 241.44 L122.10 241.73 L122.60 242.02 L123.10 242.30 L123.60 242.59 L124.10 242.87 L124.60 243.16 L125.10 243.45 L125.60 243.73 L126.10 244.02 L126.60 244.30 L127.10 244.59 L127.60 244.88 L128.10 245.16 L128.60 245.45 L129.10 245.73 L129.60 246.02 L130.10 246.31 L130.60 246.59 L131.10 246.88 L131.60 247.16 L132.10 247.45 L132.60 247.74 L133.10 248.02 L133.60 248.31 L134.10 248.59 L134.60 248.88 L135.10 249.17 L135.60 249.45 L136.10 249.74 L136.60 250.03 L137.10 250.31 L137.60 250.60 L138.10 250.88 L138.60 251.17 L139.10 251.46 L139.60 251.74 L140.10 252.03 L140.60 252.31 L141.10 252.60 L141.60 252.89 L142.10 253.13 L142.60 253.35 L143.10 253.57 L143.60 253.79 L144.10 254.01 L144.60 254.24 L145.10 254.46 L145.60 254.68 L146.10 254.90 L146.60 255.12 L147.10 255.34 L147.60 255.56 L148.10 255.78 L148.60 256.00 L149.10 256.22 L149.60 256.44 L150.10 256.66 L150.60 256.88 L151.10 257.10 L151.60 257.32 L152.10 257.52 L152.60 257.65 L153.10 257.77 L153.60 257.90 L154.10 258.02 L154.60 258.15 L155.10 258.27 L155.60 258.40 L156.10 258.52 L156.60 258.65 L157.10 258.77 L157.60 258.90 L158.10 259.02 L158.60 259.15 L159.10 259.27 L159.60 259.40 L160.10 259.50 L160.60 259.50 L161.10 259.50 L161.60 259.50 L162.10 259.50 L162.60 259.50 L163.10 259.50 L163.60 259.50 L164.10 259.50 L164.60 259.50 L165.10 259.50 L165.60 259.50 L166.10 259.50 L166.60 259.50 L167.10 259.50 L167.60 259.50 L168.10 259.50 L168.60 259.50 L169.10 259.50 L169.60 259.50 L170.10 259.50 L170.60 259.50 L171.00 259.50 Z" fill="#e8eafb" style="mix-blend-mode:multiply"/>
<path d="M88.60 259.50 L88.60 259.50 L89.10 259.50 L89.60 259.50 L90.10 259.50 L90.60 259.50 L91.10 259.50 L91.60 259.50 L92.10 259.50 L92.60 259.50 L93.10 259.50 L93.60 259.50 L94.10 259.50 L94.60 259.50 L95.10 259.50 L95.60 259.50 L96.10 259.50 L96.60 259.50 L97.10 259.50 L97.60 259.50 L98.10 259.50 L98.60 259.50 L99.10 259.50 L99.60 259.50 L100.10 259.50 L100.60 259.50 L101.10 259.50 L101.60 259.50 L102.10 259.50 L102.60 259.50 L103.10 259.50 L103.60 259.50 L104.10 259.50 L104.60 259.50 L105.10 259.50 L105.60 259.50 L106.10 258.90 L106.60 258.31 L107.10 257.71 L107.60 257.11 L108.10 256.51 L108.60 255.92 L109.10 255.32 L109.60 254.72 L110.10 254.12 L110.60 253.53 L111.10 252.93 L111.60 252.33 L112.10 251.73 L112.60 251.14 L113.10 250.54 L113.60 249.94 L114.10 249.34 L114.60 248.75 L115.10 248.15 L115.60 247.55 L116.10 246.95 L116.60 246.36 L117.10 245.76 L117.60 245.16 L118.10 244.56 L118.60 243.97 L119.10 243.37 L119.60 242.77 L120.10 242.18 L120.60 241.58 L121.10 241.16 L121.60 241.44 L122.10 241.73 L122.60 242.02 L123.10 242.30 L123.60 242.59 L124.10 242.87 L124.60 243.16 L125.10 243.45 L125.60 243.73 L126.10 244.02 L126.60 244.30 L127.10 244.59 L127.60 244.88 L128.10 245.16 L128.60 245.45 L129.10 245.73 L129.60 246.02 L130.10 246.31 L130.60 246.59 L131.10 246.88 L131.60 247.16 L132.10 247.45 L132.60 247.74 L133.10 248.02 L133.60 248.31 L134.10 248.59 L134.60 248.88 L135.10 249.17 L135.60 249.45 L136.10 249.74 L136.60 250.03 L137.10 250.31 L137.60 250.60 L138.10 250.88 L138.60 251.17 L139.10 251.46 L139.60 251.74 L140.10 252.03 L140.60 252.31 L141.10 252.60 L141.60 252.89 L142.10 253.13 L142.60 253.35 L143.10 253.57 L143.60 253.79 L144.10 254.01 L144.60 254.24 L145.10 254.46 L145.60 254.68 L146.10 254.90 L146.60 255.12 L147.10 255.34 L147.60 255.56 L148.10 255.78 L148.60 256.00 L149.10 256.22 L149.60 256.44 L150.10 256.66 L150.60 256.88 L151.10 257.10 L151.60 257.32 L152.10 257.52 L152.60 257.65 L153.10 257.77 L153.60 257.90 L154.10 258.02 L154.60 258.15 L155.10 258.27 L155.60 258.40 L156.10 258.52 L156.60 258.65 L157.10 258.77 L157.60 258.90 L158.10 259.02 L158.60 259.15 L159.10 259.27 L159.60 259.40 L160.10 259.50 L160.60 259.50 L161.10 259.50 L161.60 259.50 L162.10 259.50 L162.60 259.50 L163.10 259.50 L163.60 259.50 L164.10 259.50 L164.60 259.50 L165.10 259.50 L165.60 259.50 L166.10 259.50 L166.60 259.50 L167.10 259.50 L167.60 259.50 L168.10 259.50 L168.60 259.50 L169.10 259.50 L169.60 259.50 L170.10 259.50 L170.60 259.50 L171.00 259.50 Z" fill="url(#hatch)" style="mix-blend-mode:multiply"/>
<path d="M88.60 259.20 L89.35 259.20 L90.10 259.20 L90.85 259.19 L91.60 259.19 L92.35 259.18 L93.10 259.18 L93.85 259.16 L94.60 259.15 L95.35 259.13 L96.10 259.10 L96.85 259.06 L97.60 259.01 L98.35 258.94 L99.10 258.84 L99.85 258.51 L100.60 258.11 L101.35 258.04 L102.10 257.91 L102.85 257.41 L103.60 256.84 L104.35 256.19 L105.10 254.96 L105.85 253.15 L106.60 248.80 L107.35 245.50 L108.10 241.05 L108.85 236.08 L109.60 229.94 L110.35 225.04 L111.10 218.00 L111.85 211.90 L112.60 204.47 L113.35 198.65 L114.10 195.14 L114.85 194.87 L115.60 197.06 L116.35 199.40 L117.10 202.77 L117.85 208.65 L118.60 214.11 L119.35 219.79 L120.10 225.29 L120.85 229.06 L121.60 231.87 L122.35 232.87 L123.10 234.10 L123.85 236.09 L124.60 238.57 L125.35 238.74 L126.10 238.41 L126.85 237.93 L127.60 237.68 L128.35 237.27 L129.10 236.88 L129.85 236.44 L130.60 235.08 L131.35 235.44 L132.10 234.49 L132.85 233.31 L133.60 234.12 L134.35 234.95 L135.10 234.66 L135.85 236.50 L136.60 236.86 L137.35 237.64 L138.10 238.70 L138.85 239.46 L139.60 240.06 L140.35 241.66 L141.10 242.25 L141.85 242.52 L142.60 244.24 L143.35 245.06 L144.10 245.86 L144.85 246.99 L145.60 247.58 L146.35 248.21 L147.10 249.87 L147.85 250.88 L148.60 251.01 L149.35 252.01 L150.10 251.80 L150.85 252.29 L151.60 252.37 L152.35 252.78 L153.10 253.50 L153.85 253.83 L154.60 254.29 L155.35 254.12 L156.10 254.54 L156.85 255.37 L157.60 255.40 L158.35 255.99 L159.10 256.22 L159.85 256.07 L160.60 256.48 L161.35 256.77 L162.10 257.30 L162.85 257.56 L163.60 257.99 L164.35 258.20 L165.10 258.51 L165.85 258.82 L166.60 259.13 L167.35 259.17 L168.10 259.18 L168.85 259.18 L169.60 259.19 L170.35 259.19" fill="none" stroke="#2c2c2c" stroke-width="0.7"/>
<path d="M87.6 192.0 V262.7 M84.4 259.5 H172.0" fill="none" stroke="#555" stroke-width="0.6"/>
<line x1="86.3" y1="259.5" x2="87.6" y2="259.5" stroke="#222" stroke-width="0.55"/>
<line x1="86.3" y1="256.4" x2="87.6" y2="256.4" stroke="#222" stroke-width="0.55"/>
<line x1="86.3" y1="253.4" x2="87.6" y2="253.4" stroke="#222" stroke-width="0.55"/>
<line x1="86.3" y1="250.3" x2="87.6" y2="250.3" stroke="#222" stroke-width="0.55"/>
<line x1="86.3" y1="247.2" x2="87.6" y2="247.2" stroke="#222" stroke-width="0.55"/>
<line x1="86.3" y1="244.2" x2="87.6" y2="244.2" stroke="#222" stroke-width="0.55"/>
<line x1="86.3" y1="241.1" x2="87.6" y2="241.1" stroke="#222" stroke-width="0.55"/>
<line x1="86.3" y1="238.0" x2="87.6" y2="238.0" stroke="#222" stroke-width="0.55"/>
<line x1="86.3" y1="235.0" x2="87.6" y2="235.0" stroke="#222" stroke-width="0.55"/>
<line x1="86.3" y1="231.9" x2="87.6" y2="231.9" stroke="#222" stroke-width="0.55"/>
<line x1="86.3" y1="228.8" x2="87.6" y2="228.8" stroke="#222" stroke-width="0.55"/>
<line x1="86.3" y1="225.8" x2="87.6" y2="225.8" stroke="#222" stroke-width="0.55"/>
<line x1="86.3" y1="222.7" x2="87.6" y2="222.7" stroke="#222" stroke-width="0.55"/>
<line x1="86.3" y1="219.6" x2="87.6" y2="219.6" stroke="#222" stroke-width="0.55"/>
<line x1="86.3" y1="216.5" x2="87.6" y2="216.5" stroke="#222" stroke-width="0.55"/>
<line x1="86.3" y1="213.5" x2="87.6" y2="213.5" stroke="#222" stroke-width="0.55"/>
<line x1="86.3" y1="210.4" x2="87.6" y2="210.4" stroke="#222" stroke-width="0.55"/>
<line x1="86.3" y1="207.3" x2="87.6" y2="207.3" stroke="#222" stroke-width="0.55"/>
<line x1="86.3" y1="204.3" x2="87.6" y2="204.3" stroke="#222" stroke-width="0.55"/>
<line x1="86.3" y1="201.2" x2="87.6" y2="201.2" stroke="#222" stroke-width="0.55"/>
<line x1="86.3" y1="198.1" x2="87.6" y2="198.1" stroke="#222" stroke-width="0.55"/>
<line x1="86.3" y1="195.1" x2="87.6" y2="195.1" stroke="#222" stroke-width="0.55"/>
<line x1="86.3" y1="192.0" x2="87.6" y2="192.0" stroke="#222" stroke-width="0.55"/>
<line x1="87.6" y1="259.5" x2="87.6" y2="260.8" stroke="#222" stroke-width="0.55"/>
<line x1="91.4" y1="259.5" x2="91.4" y2="260.8" stroke="#222" stroke-width="0.55"/>
<line x1="95.3" y1="259.5" x2="95.3" y2="260.8" stroke="#222" stroke-width="0.55"/>
<line x1="99.1" y1="259.5" x2="99.1" y2="260.8" stroke="#222" stroke-width="0.55"/>
<line x1="102.9" y1="259.5" x2="102.9" y2="260.8" stroke="#222" stroke-width="0.55"/>
<line x1="106.8" y1="259.5" x2="106.8" y2="260.8" stroke="#222" stroke-width="0.55"/>
<line x1="110.6" y1="259.5" x2="110.6" y2="260.8" stroke="#222" stroke-width="0.55"/>
<line x1="114.5" y1="259.5" x2="114.5" y2="260.8" stroke="#222" stroke-width="0.55"/>
<line x1="118.3" y1="259.5" x2="118.3" y2="260.8" stroke="#222" stroke-width="0.55"/>
<line x1="122.1" y1="259.5" x2="122.1" y2="260.8" stroke="#222" stroke-width="0.55"/>
<line x1="126.0" y1="259.5" x2="126.0" y2="260.8" stroke="#222" stroke-width="0.55"/>
<line x1="129.8" y1="259.5" x2="129.8" y2="260.8" stroke="#222" stroke-width="0.55"/>
<line x1="133.6" y1="259.5" x2="133.6" y2="260.8" stroke="#222" stroke-width="0.55"/>
<line x1="137.5" y1="259.5" x2="137.5" y2="260.8" stroke="#222" stroke-width="0.55"/>
<line x1="141.3" y1="259.5" x2="141.3" y2="260.8" stroke="#222" stroke-width="0.55"/>
<line x1="145.1" y1="259.5" x2="145.1" y2="260.8" stroke="#222" stroke-width="0.55"/>
<line x1="149.0" y1="259.5" x2="149.0" y2="260.8" stroke="#222" stroke-width="0.55"/>
<line x1="152.8" y1="259.5" x2="152.8" y2="260.8" stroke="#222" stroke-width="0.55"/>
<line x1="156.7" y1="259.5" x2="156.7" y2="260.8" stroke="#222" stroke-width="0.55"/>
<line x1="160.5" y1="259.5" x2="160.5" y2="260.8" stroke="#222" stroke-width="0.55"/>
<line x1="164.3" y1="259.5" x2="164.3" y2="260.8" stroke="#222" stroke-width="0.55"/>
<line x1="168.2" y1="259.5" x2="168.2" y2="260.8" stroke="#222" stroke-width="0.55"/>
<line x1="172.0" y1="259.5" x2="172.0" y2="260.8" stroke="#222" stroke-width="0.55"/>
<path d="M114.5 260.0 l1.3 2.4 h-2.6 z" fill="#000"/>
<path d="M141.0 260.0 l1.3 2.4 h-2.6 z" fill="#000"/>
<rect x="86.8" y="262.5" width="1.6" height="0.9" fill="#777"/>
<rect x="103.3" y="262.5" width="2.4" height="0.9" fill="#777"/>
<rect x="120.2" y="262.5" width="2.4" height="0.9" fill="#777"/>
<rect x="137.0" y="262.5" width="2.4" height="0.9" fill="#777"/>
<rect x="153.9" y="262.5" width="2.4" height="0.9" fill="#777"/>
<rect x="170.8" y="262.5" width="2.4" height="0.9" fill="#777"/>
<rect x="83.6" y="241.9" width="1.3" height="2.6" fill="#a0a0a0"/>
<rect x="83.6" y="225.6" width="1.3" height="2.6" fill="#a0a0a0"/>
<rect x="83.6" y="209.3" width="1.3" height="2.6" fill="#a0a0a0"/>
<rect x="83.6" y="193.0" width="1.3" height="2.6" fill="#a0a0a0"/>
<text transform="translate(82.3 224.5) rotate(-90)" font-size="5.0" text-anchor="middle" fill="#1a1a1a" stroke="#1a1a1a" stroke-width="0.18" textLength="17.5" lengthAdjust="spacingAndGlyphs">Number</text>
<text x="126.0" y="269.0" font-size="4.5" font-weight="bold" fill="#222" textLength="11.6" lengthAdjust="spacingAndGlyphs">PI-A</text>
<text x="92.0" y="193.5" font-size="5.8" font-weight="bold" fill="#000" stroke="#000" stroke-width="0.3" textLength="34.0" lengthAdjust="spacingAndGlyphs">Diosmetin</text>
<text x="92.0" y="200.7" font-size="5.8" font-weight="bold" fill="#000" stroke="#000" stroke-width="0.3" textLength="11.6" lengthAdjust="spacingAndGlyphs">24h</text>
<rect x="142.0" y="188.2" width="5.2" height="3.4" fill="#e3261c"/>
<rect x="142.0" y="192.0" width="5.2" height="3.3" fill="#e3261c"/>
<path d="M142.3 196.7 l1.3 2.2 M144.0 196.7 l1.3 2.2 M145.7 196.7 l1.3 2.2" stroke="#1a2ac8" stroke-width="0.8"/>
<text x="149.7" y="191.3" font-size="3.5" font-weight="bold" fill="#1428d8" stroke="#1428d8" stroke-width="0.08">G0G1</text>
<text x="149.7" y="195.2" font-size="3.5" font-weight="bold" fill="#1428d8" stroke="#1428d8" stroke-width="0.08">G2M</text>
<text x="149.7" y="199.3" font-size="3.5" font-weight="bold" fill="#1428d8" stroke="#1428d8" stroke-width="0.08">S-Phase</text>
<path d="M185.40 258.10 L185.40 258.10 L185.90 258.10 L186.40 258.10 L186.90 258.10 L187.40 258.10 L187.90 258.10 L188.40 258.10 L188.90 258.10 L189.40 258.10 L189.90 258.10 L190.40 258.10 L190.90 258.10 L191.40 258.10 L191.90 258.10 L192.40 258.10 L192.90 258.10 L193.40 258.10 L193.90 258.10 L194.40 258.10 L194.90 258.10 L195.40 258.10 L195.90 258.10 L196.40 258.10 L196.90 258.10 L197.40 258.10 L197.90 258.10 L198.40 258.10 L198.90 258.10 L199.40 258.10 L199.90 258.10 L200.40 258.10 L200.90 258.10 L201.40 258.09 L201.90 258.09 L202.40 258.07 L202.90 258.05 L203.40 257.99 L203.90 257.88 L204.40 257.68 L204.90 257.32 L205.40 256.71 L205.90 255.72 L206.40 254.19 L206.90 251.95 L207.40 248.80 L207.90 244.61 L208.40 239.33 L208.90 233.08 L209.40 226.12 L209.90 218.93 L210.40 212.11 L210.90 206.35 L211.40 202.29 L211.90 200.41 L212.40 200.92 L212.90 203.77 L213.40 208.56 L213.90 214.67 L214.40 221.45 L214.90 228.27 L215.40 234.61 L215.90 240.12 L216.40 244.63 L216.90 248.14 L217.40 250.75 L217.90 252.60 L218.40 253.89 L218.90 254.77 L219.40 255.37 L219.90 255.80 L220.40 256.11 L220.90 256.36 L221.40 256.57 L221.90 256.76 L222.40 256.92 L222.90 257.07 L223.40 257.21 L223.90 257.33 L224.40 257.44 L224.90 257.54 L225.40 257.63 L225.90 257.70 L226.40 257.77 L226.90 257.83 L227.40 257.88 L227.90 257.92 L228.40 257.95 L228.90 257.98 L229.40 258.00 L229.90 258.02 L230.40 258.04 L230.90 258.05 L231.40 258.06 L231.90 258.07 L232.40 258.08 L232.90 258.08 L233.40 258.09 L233.90 258.09 L234.40 258.09 L234.90 258.09 L235.40 258.10 L235.90 258.10 L236.40 258.10 L236.90 258.10 L237.40 258.10 L237.90 258.10 L238.40 258.10 L238.90 258.10 L239.40 258.10 L239.90 258.10 L240.40 258.10 L240.90 258.10 L241.40 258.10 L241.90 258.10 L242.40 258.10 L242.90 258.10 L243.40 258.10 L243.90 258.10 L244.40 258.10 L244.90 258.10 L245.40 258.10 L245.90 258.10 L246.40 258.10 L246.90 258.10 L247.40 258.10 L247.90 258.10 L248.40 258.10 L248.90 258.10 L249.40 258.10 L249.90 258.10 L250.40 258.10 L250.90 258.10 L251.40 258.10 L251.90 258.10 L252.40 258.10 L252.90 258.10 L253.40 258.10 L253.90 258.10 L254.40 258.10 L254.90 258.10 L255.40 258.10 L255.90 258.10 L256.40 258.10 L256.90 258.10 L257.40 258.10 L257.90 258.10 L258.40 258.10 L258.90 258.10 L259.40 258.10 L259.90 258.10 L260.40 258.10 L260.90 258.10 L261.40 258.10 L261.90 258.10 L262.40 258.10 L262.90 258.10 L263.40 258.10 L263.90 258.10 L264.40 258.10 L264.90 258.10 L265.40 258.10 L265.90 258.10 L266.40 258.10 L266.90 258.10 L267.00 258.10 Z" fill="#e3261c"/>
<path d="M185.40 258.10 L185.40 258.10 L185.90 258.10 L186.40 258.10 L186.90 258.10 L187.40 258.10 L187.90 258.10 L188.40 258.10 L188.90 258.10 L189.40 258.10 L189.90 258.10 L190.40 258.10 L190.90 258.10 L191.40 258.10 L191.90 258.10 L192.40 258.10 L192.90 258.10 L193.40 258.10 L193.90 258.10 L194.40 258.10 L194.90 258.10 L195.40 258.10 L195.90 258.10 L196.40 258.10 L196.90 258.10 L197.40 258.10 L197.90 258.10 L198.40 258.10 L198.90 258.10 L199.40 258.10 L199.90 258.10 L200.40 258.10 L200.90 258.10 L201.40 258.10 L201.90 258.10 L202.40 258.10 L202.90 258.10 L203.40 258.10 L203.90 258.10 L204.40 258.10 L204.90 258.10 L205.40 258.10 L205.90 258.10 L206.40 258.10 L206.90 258.10 L207.40 258.10 L207.90 258.10 L208.40 258.10 L208.90 258.10 L209.40 258.10 L209.90 258.10 L210.40 258.10 L210.90 258.10 L211.40 258.10 L211.90 258.10 L212.40 258.10 L212.90 258.10 L213.40 258.10 L213.90 258.10 L214.40 258.10 L214.90 258.10 L215.40 258.10 L215.90 258.09 L216.40 258.09 L216.90 258.09 L217.40 258.08 L217.90 258.08 L218.40 258.07 L218.90 258.06 L219.40 258.04 L219.90 258.02 L220.40 257.99 L220.90 257.96 L221.40 257.91 L221.90 257.86 L222.40 257.78 L222.90 257.69 L223.40 257.57 L223.90 257.42 L224.40 257.24 L224.90 257.01 L225.40 256.73 L225.90 256.38 L226.40 255.95 L226.90 255.42 L227.40 254.78 L227.90 254.01 L228.40 253.09 L228.90 252.00 L229.40 250.71 L229.90 249.22 L230.40 247.50 L230.90 245.55 L231.40 243.37 L231.90 240.96 L232.40 238.33 L232.90 235.53 L233.40 232.59 L233.90 229.56 L234.40 226.53 L234.90 223.63 L235.40 220.92 L235.90 218.48 L236.40 216.38 L236.90 214.67 L237.40 213.40 L237.90 212.61 L238.40 212.34 L238.90 212.60 L239.40 213.52 L239.90 215.08 L240.40 217.22 L240.90 219.86 L241.40 222.89 L241.90 226.19 L242.40 229.65 L242.90 233.13 L243.40 236.54 L243.90 239.79 L244.40 242.80 L244.90 245.52 L245.40 247.92 L245.90 250.00 L246.40 251.76 L246.90 253.22 L247.40 254.40 L247.90 255.35 L248.40 256.08 L248.90 256.64 L249.40 257.07 L249.90 257.38 L250.40 257.61 L250.90 257.77 L251.40 257.88 L251.90 257.96 L252.40 258.01 L252.90 258.04 L253.40 258.06 L253.90 258.08 L254.40 258.09 L254.90 258.09 L255.40 258.10 L255.90 258.10 L256.40 258.10 L256.90 258.10 L257.40 258.10 L257.90 258.10 L258.40 258.10 L258.90 258.10 L259.40 258.10 L259.90 258.10 L260.40 258.10 L260.90 258.10 L261.40 258.10 L261.90 258.10 L262.40 258.10 L262.90 258.10 L263.40 258.10 L263.90 258.10 L264.40 258.10 L264.90 258.10 L265.40 258.10 L265.90 258.10 L266.40 258.10 L266.90 258.10 L267.00 258.10 Z" fill="#e3261c"/>
<path d="M185.40 258.10 L185.40 258.10 L185.90 258.10 L186.40 258.10 L186.90 258.10 L187.40 258.10 L187.90 258.10 L188.40 258.10 L188.90 258.10 L189.40 258.10 L189.90 258.10 L190.40 258.10 L190.90 258.10 L191.40 258.10 L191.90 258.10 L192.40 258.10 L192.90 258.10 L193.40 258.10 L193.90 258.10 L194.40 258.10 L194.90 258.10 L195.40 258.10 L195.90 258.10 L196.40 258.10 L196.90 258.10 L197.40 258.10 L197.90 258.10 L198.40 258.10 L198.90 258.10 L199.40 258.10 L199.90 258.10 L200.40 258.10 L200.90 258.10 L201.40 258.10 L201.90 258.10 L202.40 258.10 L202.90 258.10 L203.40 258.10 L203.90 258.10 L204.40 258.10 L204.90 258.10 L205.40 258.10 L205.90 258.10 L206.40 258.10 L206.90 258.10 L207.40 258.10 L207.90 258.10 L208.40 258.10 L208.90 258.10 L209.40 258.10 L209.90 258.10 L210.40 258.10 L210.90 258.10 L211.40 258.10 L211.90 258.10 L212.40 258.10 L212.90 258.10 L213.40 258.10 L213.90 258.10 L214.40 258.10 L214.90 258.10 L215.40 257.30 L215.90 256.30 L216.40 255.30 L216.90 254.30 L217.40 253.30 L217.90 252.30 L218.40 251.94 L218.90 251.74 L219.40 251.54 L219.90 251.34 L220.40 251.14 L220.90 250.94 L221.40 250.74 L221.90 250.54 L222.40 250.34 L222.90 250.14 L223.40 250.13 L223.90 250.18 L224.40 250.22 L224.90 250.26 L225.40 250.30 L225.90 250.34 L226.40 250.38 L226.90 250.43 L227.40 250.47 L227.90 250.51 L228.40 250.55 L228.90 250.59 L229.40 251.05 L229.90 251.61 L230.40 252.18 L230.90 252.74 L231.40 253.30 L231.90 253.86 L232.40 254.43 L232.90 254.99 L233.40 255.70 L233.90 256.45 L234.40 257.20 L234.90 257.95 L235.40 258.10 L235.90 258.10 L236.40 258.10 L236.90 258.10 L237.40 258.10 L237.90 258.10 L238.40 258.10 L238.90 258.10 L239.40 258.10 L239.90 258.10 L240.40 258.10 L240.90 258.10 L241.40 258.10 L241.90 258.10 L242.40 258.10 L242.90 258.10 L243.40 258.10 L243.90 258.10 L244.40 258.10 L244.90 258.10 L245.40 258.10 L245.90 258.10 L246.40 258.10 L246.90 258.10 L247.40 258.10 L247.90 258.10 L248.40 258.10 L248.90 258.10 L249.40 258.10 L249.90 258.10 L250.40 258.10 L250.90 258.10 L251.40 258.10 L251.90 258.10 L252.40 258.10 L252.90 258.10 L253.40 258.10 L253.90 258.10 L254.40 258.10 L254.90 258.10 L255.40 258.10 L255.90 258.10 L256.40 258.10 L256.90 258.10 L257.40 258.10 L257.90 258.10 L258.40 258.10 L258.90 258.10 L259.40 258.10 L259.90 258.10 L260.40 258.10 L260.90 258.10 L261.40 258.10 L261.90 258.10 L262.40 258.10 L262.90 258.10 L263.40 258.10 L263.90 258.10 L264.40 258.10 L264.90 258.10 L265.40 258.10 L265.90 258.10 L266.40 258.10 L266.90 258.10 L267.00 258.10 Z" fill="#e8eafb" style="mix-blend-mode:multiply"/>
<path d="M185.40 258.10 L185.40 258.10 L185.90 258.10 L186.40 258.10 L186.90 258.10 L187.40 258.10 L187.90 258.10 L188.40 258.10 L188.90 258.10 L189.40 258.10 L189.90 258.10 L190.40 258.10 L190.90 258.10 L191.40 258.10 L191.90 258.10 L192.40 258.10 L192.90 258.10 L193.40 258.10 L193.90 258.10 L194.40 258.10 L194.90 258.10 L195.40 258.10 L195.90 258.10 L196.40 258.10 L196.90 258.10 L197.40 258.10 L197.90 258.10 L198.40 258.10 L198.90 258.10 L199.40 258.10 L199.90 258.10 L200.40 258.10 L200.90 258.10 L201.40 258.10 L201.90 258.10 L202.40 258.10 L202.90 258.10 L203.40 258.10 L203.90 258.10 L204.40 258.10 L204.90 258.10 L205.40 258.10 L205.90 258.10 L206.40 258.10 L206.90 258.10 L207.40 258.10 L207.90 258.10 L208.40 258.10 L208.90 258.10 L209.40 258.10 L209.90 258.10 L210.40 258.10 L210.90 258.10 L211.40 258.10 L211.90 258.10 L212.40 258.10 L212.90 258.10 L213.40 258.10 L213.90 258.10 L214.40 258.10 L214.90 258.10 L215.40 257.30 L215.90 256.30 L216.40 255.30 L216.90 254.30 L217.40 253.30 L217.90 252.30 L218.40 251.94 L218.90 251.74 L219.40 251.54 L219.90 251.34 L220.40 251.14 L220.90 250.94 L221.40 250.74 L221.90 250.54 L222.40 250.34 L222.90 250.14 L223.40 250.13 L223.90 250.18 L224.40 250.22 L224.90 250.26 L225.40 250.30 L225.90 250.34 L226.40 250.38 L226.90 250.43 L227.40 250.47 L227.90 250.51 L228.40 250.55 L228.90 250.59 L229.40 251.05 L229.90 251.61 L230.40 252.18 L230.90 252.74 L231.40 253.30 L231.90 253.86 L232.40 254.43 L232.90 254.99 L233.40 255.70 L233.90 256.45 L234.40 257.20 L234.90 257.95 L235.40 258.10 L235.90 258.10 L236.40 258.10 L236.90 258.10 L237.40 258.10 L237.90 258.10 L238.40 258.10 L238.90 258.10 L239.40 258.10 L239.90 258.10 L240.40 258.10 L240.90 258.10 L241.40 258.10 L241.90 258.10 L242.40 258.10 L242.90 258.10 L243.40 258.10 L243.90 258.10 L244.40 258.10 L244.90 258.10 L245.40 258.10 L245.90 258.10 L246.40 258.10 L246.90 258.10 L247.40 258.10 L247.90 258.10 L248.40 258.10 L248.90 258.10 L249.40 258.10 L249.90 258.10 L250.40 258.10 L250.90 258.10 L251.40 258.10 L251.90 258.10 L252.40 258.10 L252.90 258.10 L253.40 258.10 L253.90 258.10 L254.40 258.10 L254.90 258.10 L255.40 258.10 L255.90 258.10 L256.40 258.10 L256.90 258.10 L257.40 258.10 L257.90 258.10 L258.40 258.10 L258.90 258.10 L259.40 258.10 L259.90 258.10 L260.40 258.10 L260.90 258.10 L261.40 258.10 L261.90 258.10 L262.40 258.10 L262.90 258.10 L263.40 258.10 L263.90 258.10 L264.40 258.10 L264.90 258.10 L265.40 258.10 L265.90 258.10 L266.40 258.10 L266.90 258.10 L267.00 258.10 Z" fill="url(#hatch)" style="mix-blend-mode:multiply"/>
<path d="M185.40 257.80 L186.15 257.80 L186.90 257.80 L187.65 257.80 L188.40 257.80 L189.15 257.80 L189.90 257.80 L190.65 257.80 L191.40 257.80 L192.15 257.80 L192.90 257.80 L193.65 257.80 L194.40 257.80 L195.15 257.80 L195.90 257.80 L196.65 257.80 L197.40 257.80 L198.15 257.80 L198.90 257.80 L199.65 257.80 L200.40 257.80 L201.15 257.80 L201.90 257.79 L202.65 257.76 L203.40 257.69 L204.15 257.49 L204.90 256.92 L205.65 255.55 L206.40 252.89 L207.15 248.99 L207.90 242.72 L208.65 234.13 L209.40 223.66 L210.15 213.62 L210.90 204.21 L211.65 198.17 L212.40 197.13 L213.15 201.34 L213.90 207.90 L214.65 218.30 L215.40 228.36 L216.15 236.81 L216.90 244.76 L217.65 249.73 L218.40 253.39 L219.15 251.02 L219.90 249.01 L220.65 249.51 L221.40 249.89 L222.15 251.26 L222.90 251.37 L223.65 251.30 L224.40 251.13 L225.15 250.95 L225.90 251.50 L226.65 251.09 L227.40 249.93 L228.15 249.43 L228.90 248.24 L229.65 247.56 L230.40 242.52 L231.15 237.14 L231.90 229.43 L232.65 222.11 L233.40 214.20 L234.15 207.89 L234.90 201.58 L235.65 197.37 L236.40 196.05 L237.15 197.65 L237.90 201.22 L238.65 207.57 L239.40 212.96 L240.15 215.31 L240.90 219.16 L241.65 223.92 L242.40 228.91 L243.15 234.37 L243.90 239.34 L244.65 244.25 L245.40 247.95 L246.15 251.06 L246.90 252.91 L247.65 254.60 L248.40 255.64 L249.15 256.58 L249.90 257.08 L250.65 257.39 L251.40 257.58 L252.15 257.68 L252.90 257.74 L253.65 257.77 L254.40 257.79 L255.15 257.79 L255.90 257.80 L256.65 257.80 L257.40 257.80 L258.15 257.80 L258.90 257.80 L259.65 257.80 L260.40 257.80 L261.15 257.80 L261.90 257.80 L262.65 257.80 L263.40 257.80 L264.15 257.80 L264.90 257.80 L265.65 257.80 L266.40 257.80" fill="none" stroke="#2c2c2c" stroke-width="0.7"/>
<path d="M184.4 194.0 V261.3 M181.2 258.1 H268.0" fill="none" stroke="#555" stroke-width="0.6"/>
<line x1="183.1" y1="258.1" x2="184.4" y2="258.1" stroke="#222" stroke-width="0.55"/>
<line x1="183.1" y1="255.0" x2="184.4" y2="255.0" stroke="#222" stroke-width="0.55"/>
<line x1="183.1" y1="252.0" x2="184.4" y2="252.0" stroke="#222" stroke-width="0.55"/>
<line x1="183.1" y1="248.9" x2="184.4" y2="248.9" stroke="#222" stroke-width="0.55"/>
<line x1="183.1" y1="245.9" x2="184.4" y2="245.9" stroke="#222" stroke-width="0.55"/>
<line x1="183.1" y1="242.8" x2="184.4" y2="242.8" stroke="#222" stroke-width="0.55"/>
<line x1="183.1" y1="239.8" x2="184.4" y2="239.8" stroke="#222" stroke-width="0.55"/>
<line x1="183.1" y1="236.7" x2="184.4" y2="236.7" stroke="#222" stroke-width="0.55"/>
<line x1="183.1" y1="233.7" x2="184.4" y2="233.7" stroke="#222" stroke-width="0.55"/>
<line x1="183.1" y1="230.6" x2="184.4" y2="230.6" stroke="#222" stroke-width="0.55"/>
<line x1="183.1" y1="227.6" x2="184.4" y2="227.6" stroke="#222" stroke-width="0.55"/>
<line x1="183.1" y1="224.5" x2="184.4" y2="224.5" stroke="#222" stroke-width="0.55"/>
<line x1="183.1" y1="221.5" x2="184.4" y2="221.5" stroke="#222" stroke-width="0.55"/>
<line x1="183.1" y1="218.4" x2="184.4" y2="218.4" stroke="#222" stroke-width="0.55"/>
<line x1="183.1" y1="215.4" x2="184.4" y2="215.4" stroke="#222" stroke-width="0.55"/>
<line x1="183.1" y1="212.3" x2="184.4" y2="212.3" stroke="#222" stroke-width="0.55"/>
<line x1="183.1" y1="209.3" x2="184.4" y2="209.3" stroke="#222" stroke-width="0.55"/>
<line x1="183.1" y1="206.2" x2="184.4" y2="206.2" stroke="#222" stroke-width="0.55"/>
<line x1="183.1" y1="203.2" x2="184.4" y2="203.2" stroke="#222" stroke-width="0.55"/>
<line x1="183.1" y1="200.1" x2="184.4" y2="200.1" stroke="#222" stroke-width="0.55"/>
<line x1="183.1" y1="197.1" x2="184.4" y2="197.1" stroke="#222" stroke-width="0.55"/>
<line x1="183.1" y1="194.0" x2="184.4" y2="194.0" stroke="#222" stroke-width="0.55"/>
<line x1="184.4" y1="258.1" x2="184.4" y2="259.4" stroke="#222" stroke-width="0.55"/>
<line x1="188.2" y1="258.1" x2="188.2" y2="259.4" stroke="#222" stroke-width="0.55"/>
<line x1="192.0" y1="258.1" x2="192.0" y2="259.4" stroke="#222" stroke-width="0.55"/>
<line x1="195.8" y1="258.1" x2="195.8" y2="259.4" stroke="#222" stroke-width="0.55"/>
<line x1="199.6" y1="258.1" x2="199.6" y2="259.4" stroke="#222" stroke-width="0.55"/>
<line x1="203.4" y1="258.1" x2="203.4" y2="259.4" stroke="#222" stroke-width="0.55"/>
<line x1="207.2" y1="258.1" x2="207.2" y2="259.4" stroke="#222" stroke-width="0.55"/>
<line x1="211.0" y1="258.1" x2="211.0" y2="259.4" stroke="#222" stroke-width="0.55"/>
<line x1="214.8" y1="258.1" x2="214.8" y2="259.4" stroke="#222" stroke-width="0.55"/>
<line x1="218.6" y1="258.1" x2="218.6" y2="259.4" stroke="#222" stroke-width="0.55"/>
<line x1="222.4" y1="258.1" x2="222.4" y2="259.4" stroke="#222" stroke-width="0.55"/>
<line x1="226.2" y1="258.1" x2="226.2" y2="259.4" stroke="#222" stroke-width="0.55"/>
<line x1="230.0" y1="258.1" x2="230.0" y2="259.4" stroke="#222" stroke-width="0.55"/>
<line x1="233.8" y1="258.1" x2="233.8" y2="259.4" stroke="#222" stroke-width="0.55"/>
<line x1="237.6" y1="258.1" x2="237.6" y2="259.4" stroke="#222" stroke-width="0.55"/>
<line x1="241.4" y1="258.1" x2="241.4" y2="259.4" stroke="#222" stroke-width="0.55"/>
<line x1="245.2" y1="258.1" x2="245.2" y2="259.4" stroke="#222" stroke-width="0.55"/>
<line x1="249.0" y1="258.1" x2="249.0" y2="259.4" stroke="#222" stroke-width="0.55"/>
<line x1="252.8" y1="258.1" x2="252.8" y2="259.4" stroke="#222" stroke-width="0.55"/>
<line x1="256.6" y1="258.1" x2="256.6" y2="259.4" stroke="#222" stroke-width="0.55"/>
<line x1="260.4" y1="258.1" x2="260.4" y2="259.4" stroke="#222" stroke-width="0.55"/>
<line x1="264.2" y1="258.1" x2="264.2" y2="259.4" stroke="#222" stroke-width="0.55"/>
<line x1="268.0" y1="258.1" x2="268.0" y2="259.4" stroke="#222" stroke-width="0.55"/>
<path d="M212.0 258.6 l1.3 2.4 h-2.6 z" fill="#000"/>
<path d="M238.7 258.6 l1.3 2.4 h-2.6 z" fill="#000"/>
<rect x="183.6" y="261.1" width="1.6" height="0.9" fill="#777"/>
<rect x="199.9" y="261.1" width="2.4" height="0.9" fill="#777"/>
<rect x="216.6" y="261.1" width="2.4" height="0.9" fill="#777"/>
<rect x="233.4" y="261.1" width="2.4" height="0.9" fill="#777"/>
<rect x="250.1" y="261.1" width="2.4" height="0.9" fill="#777"/>
<rect x="266.8" y="261.1" width="2.4" height="0.9" fill="#777"/>
<rect x="180.4" y="240.5" width="1.3" height="2.6" fill="#a0a0a0"/>
<rect x="180.4" y="224.2" width="1.3" height="2.6" fill="#a0a0a0"/>
<rect x="180.4" y="207.9" width="1.3" height="2.6" fill="#a0a0a0"/>
<text transform="translate(179.3 227.5) rotate(-90)" font-size="5.0" text-anchor="middle" fill="#1a1a1a" stroke="#1a1a1a" stroke-width="0.18" textLength="17.5" lengthAdjust="spacingAndGlyphs">Number</text>
<text x="218.0" y="270.0" font-size="4.5" font-weight="bold" fill="#222" textLength="11.6" lengthAdjust="spacingAndGlyphs">PI-A</text>
<text x="187.0" y="192.4" font-size="5.8" font-weight="bold" fill="#000" stroke="#000" stroke-width="0.3" textLength="34.0" lengthAdjust="spacingAndGlyphs">Diosmetin</text>
<text x="187.0" y="199.6" font-size="5.8" font-weight="bold" fill="#000" stroke="#000" stroke-width="0.3" textLength="11.6" lengthAdjust="spacingAndGlyphs">48h</text>
<rect x="239.6" y="184.2" width="5.2" height="3.4" fill="#e3261c"/>
<rect x="239.6" y="188.0" width="5.2" height="3.3" fill="#e3261c"/>
<path d="M239.9 192.7 l1.3 2.2 M241.6 192.7 l1.3 2.2 M243.3 192.7 l1.3 2.2" stroke="#1a2ac8" stroke-width="0.8"/>
<text x="247.3" y="187.3" font-size="3.5" font-weight="bold" fill="#1428d8" stroke="#1428d8" stroke-width="0.08">G0G1</text>
<text x="247.3" y="191.2" font-size="3.5" font-weight="bold" fill="#1428d8" stroke="#1428d8" stroke-width="0.08">G2M</text>
<text x="247.3" y="195.3" font-size="3.5" font-weight="bold" fill="#1428d8" stroke="#1428d8" stroke-width="0.08">S-Phase</text>
<path d="M280.00 257.60 L280.00 257.60 L280.50 257.60 L281.00 257.60 L281.50 257.60 L282.00 257.60 L282.50 257.60 L283.00 257.60 L283.50 257.60 L284.00 257.60 L284.50 257.60 L285.00 257.60 L285.50 257.60 L286.00 257.60 L286.50 257.60 L287.00 257.60 L287.50 257.60 L288.00 257.60 L288.50 257.60 L289.00 257.60 L289.50 257.60 L290.00 257.60 L290.50 257.60 L291.00 257.60 L291.50 257.60 L292.00 257.60 L292.50 257.60 L293.00 257.60 L293.50 257.60 L294.00 257.60 L294.50 257.60 L295.00 257.60 L295.50 257.60 L296.00 257.60 L296.50 257.59 L297.00 257.59 L297.50 257.58 L298.00 257.55 L298.50 257.51 L299.00 257.44 L299.50 257.30 L300.00 257.05 L300.50 256.62 L301.00 255.89 L301.50 254.73 L302.00 252.98 L302.50 250.50 L303.00 247.20 L303.50 243.13 L304.00 238.49 L304.50 233.66 L305.00 229.19 L305.50 225.66 L306.00 223.58 L306.50 223.28 L307.00 224.80 L307.50 227.86 L308.00 231.96 L308.50 236.54 L309.00 241.05 L309.50 245.09 L310.00 248.42 L310.50 250.99 L311.00 252.85 L311.50 254.13 L312.00 254.99 L312.50 255.56 L313.00 255.95 L313.50 256.22 L314.00 256.44 L314.50 256.61 L315.00 256.76 L315.50 256.89 L316.00 257.01 L316.50 257.11 L317.00 257.19 L317.50 257.27 L318.00 257.33 L318.50 257.39 L319.00 257.43 L319.50 257.47 L320.00 257.50 L320.50 257.52 L321.00 257.54 L321.50 257.56 L322.00 257.57 L322.50 257.58 L323.00 257.58 L323.50 257.59 L324.00 257.59 L324.50 257.59 L325.00 257.60 L325.50 257.60 L326.00 257.60 L326.50 257.60 L327.00 257.60 L327.50 257.60 L328.00 257.60 L328.50 257.60 L329.00 257.60 L329.50 257.60 L330.00 257.60 L330.50 257.60 L331.00 257.60 L331.50 257.60 L332.00 257.60 L332.50 257.60 L333.00 257.60 L333.50 257.60 L334.00 257.60 L334.50 257.60 L335.00 257.60 L335.50 257.60 L336.00 257.60 L336.50 257.60 L337.00 257.60 L337.50 257.60 L338.00 257.60 L338.50 257.60 L339.00 257.60 L339.50 257.60 L340.00 257.60 L340.50 257.60 L341.00 257.60 L341.50 257.60 L342.00 257.60 L342.50 257.60 L343.00 257.60 L343.50 257.60 L344.00 257.60 L344.50 257.60 L345.00 257.60 L345.50 257.60 L346.00 257.60 L346.50 257.60 L347.00 257.60 L347.50 257.60 L348.00 257.60 L348.50 257.60 L349.00 257.60 L349.50 257.60 L350.00 257.60 L350.50 257.60 L351.00 257.60 L351.50 257.60 L352.00 257.60 L352.50 257.60 L353.00 257.60 L353.50 257.60 L354.00 257.60 L354.50 257.60 L355.00 257.60 L355.50 257.60 L356.00 257.60 L356.50 257.60 L357.00 257.60 L357.00 257.60 Z" fill="#e3261c"/>
<path d="M280.00 257.60 L280.00 257.60 L280.50 257.60 L281.00 257.60 L281.50 257.60 L282.00 257.60 L282.50 257.60 L283.00 257.60 L283.50 257.60 L284.00 257.60 L284.50 257.60 L285.00 257.60 L285.50 257.60 L286.00 257.60 L286.50 257.60 L287.00 257.60 L287.50 257.60 L288.00 257.60 L288.50 257.60 L289.00 257.60 L289.50 257.60 L290.00 257.60 L290.50 257.60 L291.00 257.60 L291.50 257.60 L292.00 257.60 L292.50 257.60 L293.00 257.60 L293.50 257.60 L294.00 257.60 L294.50 257.60 L295.00 257.60 L295.50 257.60 L296.00 257.60 L296.50 257.60 L297.00 257.60 L297.50 257.60 L298.00 257.60 L298.50 257.60 L299.00 257.60 L299.50 257.60 L300.00 257.60 L300.50 257.60 L301.00 257.60 L301.50 257.60 L302.00 257.60 L302.50 257.60 L303.00 257.60 L303.50 257.60 L304.00 257.60 L304.50 257.60 L305.00 257.60 L305.50 257.60 L306.00 257.60 L306.50 257.60 L307.00 257.60 L307.50 257.60 L308.00 257.60 L308.50 257.60 L309.00 257.60 L309.50 257.59 L310.00 257.59 L310.50 257.59 L311.00 257.58 L311.50 257.58 L312.00 257.57 L312.50 257.55 L313.00 257.54 L313.50 257.52 L314.00 257.49 L314.50 257.46 L315.00 257.42 L315.50 257.37 L316.00 257.31 L316.50 257.23 L317.00 257.14 L317.50 257.02 L318.00 256.87 L318.50 256.69 L319.00 256.46 L319.50 256.19 L320.00 255.84 L320.50 255.41 L321.00 254.88 L321.50 254.23 L322.00 253.43 L322.50 252.46 L323.00 251.29 L323.50 249.89 L324.00 248.24 L324.50 246.32 L325.00 244.12 L325.50 241.64 L326.00 238.89 L326.50 235.91 L327.00 232.73 L327.50 229.45 L328.00 226.18 L328.50 223.00 L329.00 220.00 L329.50 217.28 L330.00 214.94 L330.50 213.06 L331.00 211.71 L331.50 210.97 L332.00 210.85 L332.50 211.38 L333.00 212.54 L333.50 214.29 L334.00 216.56 L334.50 219.27 L335.00 222.32 L335.50 225.59 L336.00 228.99 L336.50 232.39 L337.00 235.72 L337.50 238.89 L338.00 241.83 L338.50 244.51 L339.00 246.89 L339.50 248.97 L340.00 250.74 L340.50 252.24 L341.00 253.47 L341.50 254.46 L342.00 255.25 L342.50 255.87 L343.00 256.34 L343.50 256.70 L344.00 256.97 L344.50 257.16 L345.00 257.30 L345.50 257.40 L346.00 257.46 L346.50 257.51 L347.00 257.54 L347.50 257.56 L348.00 257.58 L348.50 257.59 L349.00 257.59 L349.50 257.59 L350.00 257.60 L350.50 257.60 L351.00 257.60 L351.50 257.60 L352.00 257.60 L352.50 257.60 L353.00 257.60 L353.50 257.60 L354.00 257.60 L354.50 257.60 L355.00 257.60 L355.50 257.60 L356.00 257.60 L356.50 257.60 L357.00 257.60 L357.00 257.60 Z" fill="#e3261c"/>
<path d="M280.00 257.60 L280.00 257.60 L280.50 257.60 L281.00 257.60 L281.50 257.60 L282.00 257.60 L282.50 257.60 L283.00 257.60 L283.50 257.60 L284.00 257.60 L284.50 257.60 L285.00 257.60 L285.50 257.60 L286.00 257.60 L286.50 257.60 L287.00 257.60 L287.50 257.60 L288.00 257.60 L288.50 257.60 L289.00 257.60 L289.50 257.60 L290.00 257.60 L290.50 257.60 L291.00 257.60 L291.50 257.60 L292.00 257.60 L292.50 257.60 L293.00 257.60 L293.50 257.60 L294.00 257.60 L294.50 257.60 L295.00 257.60 L295.50 257.60 L296.00 257.60 L296.50 257.60 L297.00 257.60 L297.50 257.60 L298.00 257.60 L298.50 257.60 L299.00 257.60 L299.50 257.60 L300.00 257.60 L300.50 257.60 L301.00 257.60 L301.50 257.60 L302.00 257.60 L302.50 257.60 L303.00 257.60 L303.50 257.60 L304.00 257.60 L304.50 257.60 L305.00 257.60 L305.50 257.60 L306.00 257.60 L306.50 257.60 L307.00 257.60 L307.50 257.60 L308.00 257.60 L308.50 257.60 L309.00 257.60 L309.50 257.60 L310.00 256.80 L310.50 256.00 L311.00 255.20 L311.50 254.40 L312.00 253.60 L312.50 253.48 L313.00 253.35 L313.50 253.23 L314.00 253.10 L314.50 252.98 L315.00 252.85 L315.50 252.73 L316.00 252.60 L316.50 252.63 L317.00 252.67 L317.50 252.70 L318.00 252.73 L318.50 252.77 L319.00 252.80 L319.50 252.83 L320.00 252.87 L320.50 252.90 L321.00 252.93 L321.50 252.97 L322.00 253.00 L322.50 253.35 L323.00 253.70 L323.50 254.05 L324.00 254.40 L324.50 254.75 L325.00 255.10 L325.50 255.73 L326.00 256.35 L326.50 256.98 L327.00 257.60 L327.50 257.60 L328.00 257.60 L328.50 257.60 L329.00 257.60 L329.50 257.60 L330.00 257.60 L330.50 257.60 L331.00 257.60 L331.50 257.60 L332.00 257.60 L332.50 257.60 L333.00 257.60 L333.50 257.60 L334.00 257.60 L334.50 257.60 L335.00 257.60 L335.50 257.60 L336.00 257.60 L336.50 257.60 L337.00 257.60 L337.50 257.60 L338.00 257.60 L338.50 257.60 L339.00 257.60 L339.50 257.60 L340.00 257.60 L340.50 257.60 L341.00 257.60 L341.50 257.60 L342.00 257.60 L342.50 257.60 L343.00 257.60 L343.50 257.60 L344.00 257.60 L344.50 257.60 L345.00 257.60 L345.50 257.60 L346.00 257.60 L346.50 257.60 L347.00 257.60 L347.50 257.60 L348.00 257.60 L348.50 257.60 L349.00 257.60 L349.50 257.60 L350.00 257.60 L350.50 257.60 L351.00 257.60 L351.50 257.60 L352.00 257.60 L352.50 257.60 L353.00 257.60 L353.50 257.60 L354.00 257.60 L354.50 257.60 L355.00 257.60 L355.50 257.60 L356.00 257.60 L356.50 257.60 L357.00 257.60 L357.00 257.60 Z" fill="#e8eafb" style="mix-blend-mode:multiply"/>
<path d="M280.00 257.60 L280.00 257.60 L280.50 257.60 L281.00 257.60 L281.50 257.60 L282.00 257.60 L282.50 257.60 L283.00 257.60 L283.50 257.60 L284.00 257.60 L284.50 257.60 L285.00 257.60 L285.50 257.60 L286.00 257.60 L286.50 257.60 L287.00 257.60 L287.50 257.60 L288.00 257.60 L288.50 257.60 L289.00 257.60 L289.50 257.60 L290.00 257.60 L290.50 257.60 L291.00 257.60 L291.50 257.60 L292.00 257.60 L292.50 257.60 L293.00 257.60 L293.50 257.60 L294.00 257.60 L294.50 257.60 L295.00 257.60 L295.50 257.60 L296.00 257.60 L296.50 257.60 L297.00 257.60 L297.50 257.60 L298.00 257.60 L298.50 257.60 L299.00 257.60 L299.50 257.60 L300.00 257.60 L300.50 257.60 L301.00 257.60 L301.50 257.60 L302.00 257.60 L302.50 257.60 L303.00 257.60 L303.50 257.60 L304.00 257.60 L304.50 257.60 L305.00 257.60 L305.50 257.60 L306.00 257.60 L306.50 257.60 L307.00 257.60 L307.50 257.60 L308.00 257.60 L308.50 257.60 L309.00 257.60 L309.50 257.60 L310.00 256.80 L310.50 256.00 L311.00 255.20 L311.50 254.40 L312.00 253.60 L312.50 253.48 L313.00 253.35 L313.50 253.23 L314.00 253.10 L314.50 252.98 L315.00 252.85 L315.50 252.73 L316.00 252.60 L316.50 252.63 L317.00 252.67 L317.50 252.70 L318.00 252.73 L318.50 252.77 L319.00 252.80 L319.50 252.83 L320.00 252.87 L320.50 252.90 L321.00 252.93 L321.50 252.97 L322.00 253.00 L322.50 253.35 L323.00 253.70 L323.50 254.05 L324.00 254.40 L324.50 254.75 L325.00 255.10 L325.50 255.73 L326.00 256.35 L326.50 256.98 L327.00 257.60 L327.50 257.60 L328.00 257.60 L328.50 257.60 L329.00 257.60 L329.50 257.60 L330.00 257.60 L330.50 257.60 L331.00 257.60 L331.50 257.60 L332.00 257.60 L332.50 257.60 L333.00 257.60 L333.50 257.60 L334.00 257.60 L334.50 257.60 L335.00 257.60 L335.50 257.60 L336.00 257.60 L336.50 257.60 L337.00 257.60 L337.50 257.60 L338.00 257.60 L338.50 257.60 L339.00 257.60 L339.50 257.60 L340.00 257.60 L340.50 257.60 L341.00 257.60 L341.50 257.60 L342.00 257.60 L342.50 257.60 L343.00 257.60 L343.50 257.60 L344.00 257.60 L344.50 257.60 L345.00 257.60 L345.50 257.60 L346.00 257.60 L346.50 257.60 L347.00 257.60 L347.50 257.60 L348.00 257.60 L348.50 257.60 L349.00 257.60 L349.50 257.60 L350.00 257.60 L350.50 257.60 L351.00 257.60 L351.50 257.60 L352.00 257.60 L352.50 257.60 L353.00 257.60 L353.50 257.60 L354.00 257.60 L354.50 257.60 L355.00 257.60 L355.50 257.60 L356.00 257.60 L356.50 257.60 L357.00 257.60 L357.00 257.60 Z" fill="url(#hatch)" style="mix-blend-mode:multiply"/>
<path d="M280.00 257.30 L280.75 257.30 L281.50 257.30 L282.25 257.30 L283.00 257.30 L283.75 257.30 L284.50 257.30 L285.25 257.30 L286.00 257.30 L286.75 257.30 L287.50 257.30 L288.25 257.30 L289.00 257.30 L289.75 257.30 L290.50 257.30 L291.25 257.30 L292.00 257.30 L292.75 257.30 L293.50 257.30 L294.25 257.30 L295.00 257.30 L295.75 257.30 L296.50 257.29 L297.25 257.28 L298.00 257.17 L298.75 256.76 L299.50 256.15 L300.25 254.70 L301.00 252.95 L301.75 250.38 L302.50 246.32 L303.25 242.35 L304.00 237.07 L304.75 230.81 L305.50 225.95 L306.25 221.74 L307.00 219.11 L307.75 219.66 L308.50 222.14 L309.25 229.49 L310.00 231.36 L310.75 240.79 L311.50 246.58 L312.25 247.42 L313.00 248.85 L313.75 250.45 L314.50 251.73 L315.25 251.89 L316.00 251.05 L316.75 252.01 L317.50 251.12 L318.25 250.58 L319.00 249.72 L319.75 249.28 L320.50 246.86 L321.25 246.21 L322.00 244.74 L322.75 243.78 L323.50 241.41 L324.25 238.87 L325.00 235.95 L325.75 233.44 L326.50 226.20 L327.25 219.71 L328.00 213.25 L328.75 208.43 L329.50 203.74 L330.25 201.02 L331.00 200.15 L331.75 200.26 L332.50 203.57 L333.25 206.60 L334.00 211.20 L334.75 217.52 L335.50 222.72 L336.25 228.61 L337.00 235.21 L337.75 239.54 L338.50 244.48 L339.25 248.06 L340.00 249.88 L340.75 252.78 L341.50 254.25 L342.25 255.17 L343.00 256.11 L343.75 256.54 L344.50 256.86 L345.25 257.05 L346.00 257.16 L346.75 257.23 L347.50 257.26 L348.25 257.28 L349.00 257.29 L349.75 257.30 L350.50 257.30 L351.25 257.30 L352.00 257.30 L352.75 257.30 L353.50 257.30 L354.25 257.30 L355.00 257.30 L355.75 257.30 L356.50 257.30" fill="none" stroke="#2c2c2c" stroke-width="0.7"/>
<path d="M279.0 195.0 V260.8 M275.8 257.6 H358.0" fill="none" stroke="#555" stroke-width="0.6"/>
<line x1="277.7" y1="257.6" x2="279.0" y2="257.6" stroke="#222" stroke-width="0.55"/>
<line x1="277.7" y1="254.5" x2="279.0" y2="254.5" stroke="#222" stroke-width="0.55"/>
<line x1="277.7" y1="251.3" x2="279.0" y2="251.3" stroke="#222" stroke-width="0.55"/>
<line x1="277.7" y1="248.2" x2="279.0" y2="248.2" stroke="#222" stroke-width="0.55"/>
<line x1="277.7" y1="245.1" x2="279.0" y2="245.1" stroke="#222" stroke-width="0.55"/>
<line x1="277.7" y1="242.0" x2="279.0" y2="242.0" stroke="#222" stroke-width="0.55"/>
<line x1="277.7" y1="238.8" x2="279.0" y2="238.8" stroke="#222" stroke-width="0.55"/>
<line x1="277.7" y1="235.7" x2="279.0" y2="235.7" stroke="#222" stroke-width="0.55"/>
<line x1="277.7" y1="232.6" x2="279.0" y2="232.6" stroke="#222" stroke-width="0.55"/>
<line x1="277.7" y1="229.4" x2="279.0" y2="229.4" stroke="#222" stroke-width="0.55"/>
<line x1="277.7" y1="226.3" x2="279.0" y2="226.3" stroke="#222" stroke-width="0.55"/>
<line x1="277.7" y1="223.2" x2="279.0" y2="223.2" stroke="#222" stroke-width="0.55"/>
<line x1="277.7" y1="220.0" x2="279.0" y2="220.0" stroke="#222" stroke-width="0.55"/>
<line x1="277.7" y1="216.9" x2="279.0" y2="216.9" stroke="#222" stroke-width="0.55"/>
<line x1="277.7" y1="213.8" x2="279.0" y2="213.8" stroke="#222" stroke-width="0.55"/>
<line x1="277.7" y1="210.7" x2="279.0" y2="210.7" stroke="#222" stroke-width="0.55"/>
<line x1="277.7" y1="207.5" x2="279.0" y2="207.5" stroke="#222" stroke-width="0.55"/>
<line x1="277.7" y1="204.4" x2="279.0" y2="204.4" stroke="#222" stroke-width="0.55"/>
<line x1="277.7" y1="201.3" x2="279.0" y2="201.3" stroke="#222" stroke-width="0.55"/>
<line x1="277.7" y1="198.1" x2="279.0" y2="198.1" stroke="#222" stroke-width="0.55"/>
<line x1="277.7" y1="195.0" x2="279.0" y2="195.0" stroke="#222" stroke-width="0.55"/>
<line x1="279.0" y1="257.6" x2="279.0" y2="258.9" stroke="#222" stroke-width="0.55"/>
<line x1="282.8" y1="257.6" x2="282.8" y2="258.9" stroke="#222" stroke-width="0.55"/>
<line x1="286.5" y1="257.6" x2="286.5" y2="258.9" stroke="#222" stroke-width="0.55"/>
<line x1="290.3" y1="257.6" x2="290.3" y2="258.9" stroke="#222" stroke-width="0.55"/>
<line x1="294.0" y1="257.6" x2="294.0" y2="258.9" stroke="#222" stroke-width="0.55"/>
<line x1="297.8" y1="257.6" x2="297.8" y2="258.9" stroke="#222" stroke-width="0.55"/>
<line x1="301.6" y1="257.6" x2="301.6" y2="258.9" stroke="#222" stroke-width="0.55"/>
<line x1="305.3" y1="257.6" x2="305.3" y2="258.9" stroke="#222" stroke-width="0.55"/>
<line x1="309.1" y1="257.6" x2="309.1" y2="258.9" stroke="#222" stroke-width="0.55"/>
<line x1="312.9" y1="257.6" x2="312.9" y2="258.9" stroke="#222" stroke-width="0.55"/>
<line x1="316.6" y1="257.6" x2="316.6" y2="258.9" stroke="#222" stroke-width="0.55"/>
<line x1="320.4" y1="257.6" x2="320.4" y2="258.9" stroke="#222" stroke-width="0.55"/>
<line x1="324.1" y1="257.6" x2="324.1" y2="258.9" stroke="#222" stroke-width="0.55"/>
<line x1="327.9" y1="257.6" x2="327.9" y2="258.9" stroke="#222" stroke-width="0.55"/>
<line x1="331.7" y1="257.6" x2="331.7" y2="258.9" stroke="#222" stroke-width="0.55"/>
<line x1="335.4" y1="257.6" x2="335.4" y2="258.9" stroke="#222" stroke-width="0.55"/>
<line x1="339.2" y1="257.6" x2="339.2" y2="258.9" stroke="#222" stroke-width="0.55"/>
<line x1="343.0" y1="257.6" x2="343.0" y2="258.9" stroke="#222" stroke-width="0.55"/>
<line x1="346.7" y1="257.6" x2="346.7" y2="258.9" stroke="#222" stroke-width="0.55"/>
<line x1="350.5" y1="257.6" x2="350.5" y2="258.9" stroke="#222" stroke-width="0.55"/>
<line x1="354.2" y1="257.6" x2="354.2" y2="258.9" stroke="#222" stroke-width="0.55"/>
<line x1="358.0" y1="257.6" x2="358.0" y2="258.9" stroke="#222" stroke-width="0.55"/>
<path d="M306.3 258.1 l1.3 2.4 h-2.6 z" fill="#000"/>
<path d="M332.0 258.1 l1.3 2.4 h-2.6 z" fill="#000"/>
<rect x="278.2" y="260.6" width="1.6" height="0.9" fill="#777"/>
<rect x="293.6" y="260.6" width="2.4" height="0.9" fill="#777"/>
<rect x="309.4" y="260.6" width="2.4" height="0.9" fill="#777"/>
<rect x="325.2" y="260.6" width="2.4" height="0.9" fill="#777"/>
<rect x="341.0" y="260.6" width="2.4" height="0.9" fill="#777"/>
<rect x="356.8" y="260.6" width="2.4" height="0.9" fill="#777"/>
<rect x="275.0" y="240.0" width="1.3" height="2.6" fill="#a0a0a0"/>
<rect x="275.0" y="223.7" width="1.3" height="2.6" fill="#a0a0a0"/>
<rect x="275.0" y="207.4" width="1.3" height="2.6" fill="#a0a0a0"/>
<text transform="translate(273.6 232.5) rotate(-90)" font-size="5.0" text-anchor="middle" fill="#1a1a1a" stroke="#1a1a1a" stroke-width="0.18" textLength="17.5" lengthAdjust="spacingAndGlyphs">Number</text>
<text x="315.0" y="269.0" font-size="4.5" font-weight="bold" fill="#222" textLength="11.6" lengthAdjust="spacingAndGlyphs">PI-A</text>
<text x="283.6" y="193.5" font-size="5.8" font-weight="bold" fill="#000" stroke="#000" stroke-width="0.3" textLength="34.0" lengthAdjust="spacingAndGlyphs">Diosmetin</text>
<text x="283.6" y="200.7" font-size="5.8" font-weight="bold" fill="#000" stroke="#000" stroke-width="0.3" textLength="11.6" lengthAdjust="spacingAndGlyphs">72h</text>
<rect x="330.0" y="184.2" width="5.2" height="3.4" fill="#e3261c"/>
<rect x="330.0" y="188.0" width="5.2" height="3.3" fill="#e3261c"/>
<path d="M330.3 192.7 l1.3 2.2 M332.0 192.7 l1.3 2.2 M333.7 192.7 l1.3 2.2" stroke="#1a2ac8" stroke-width="0.8"/>
<text x="337.7" y="187.3" font-size="3.5" font-weight="bold" fill="#1428d8" stroke="#1428d8" stroke-width="0.08">G0G1</text>
<text x="337.7" y="191.2" font-size="3.5" font-weight="bold" fill="#1428d8" stroke="#1428d8" stroke-width="0.08">G2M</text>
<text x="337.7" y="195.3" font-size="3.5" font-weight="bold" fill="#1428d8" stroke="#1428d8" stroke-width="0.08">S-Phase</text>
<path d="M90.00 336.80 L90.00 336.80 L90.50 336.80 L91.00 336.80 L91.50 336.80 L92.00 336.80 L92.50 336.80 L93.00 336.80 L93.50 336.80 L94.00 336.80 L94.50 336.80 L95.00 336.80 L95.50 336.80 L96.00 336.80 L96.50 336.80 L97.00 336.80 L97.50 336.80 L98.00 336.80 L98.50 336.80 L99.00 336.80 L99.50 336.80 L100.00 336.80 L100.50 336.80 L101.00 336.80 L101.50 336.80 L102.00 336.80 L102.50 336.80 L103.00 336.80 L103.50 336.80 L104.00 336.80 L104.50 336.80 L105.00 336.80 L105.50 336.80 L106.00 336.80 L106.50 336.80 L107.00 336.80 L107.50 336.79 L108.00 336.79 L108.50 336.78 L109.00 336.77 L109.50 336.76 L110.00 336.73 L110.50 336.70 L111.00 336.65 L111.50 336.58 L112.00 336.48 L112.50 336.36 L113.00 336.18 L113.50 335.95 L114.00 335.63 L114.50 335.17 L115.00 334.46 L115.50 333.35 L116.00 331.58 L116.50 328.83 L117.00 324.78 L117.50 319.22 L118.00 312.26 L118.50 304.41 L119.00 296.66 L119.50 290.27 L120.00 286.48 L120.50 286.08 L121.00 289.12 L121.50 294.95 L122.00 302.40 L122.50 310.18 L123.00 317.26 L123.50 323.00 L124.00 327.27 L124.50 330.20 L125.00 332.13 L125.50 333.36 L126.00 334.17 L126.50 334.73 L127.00 335.15 L127.50 335.49 L128.00 335.76 L128.50 335.99 L129.00 336.17 L129.50 336.32 L130.00 336.44 L130.50 336.54 L131.00 336.61 L131.50 336.66 L132.00 336.70 L132.50 336.73 L133.00 336.75 L133.50 336.77 L134.00 336.78 L134.50 336.79 L135.00 336.79 L135.50 336.79 L136.00 336.80 L136.50 336.80 L137.00 336.80 L137.50 336.80 L138.00 336.80 L138.50 336.80 L139.00 336.80 L139.50 336.80 L140.00 336.80 L140.50 336.80 L141.00 336.80 L141.50 336.80 L142.00 336.80 L142.50 336.80 L143.00 336.80 L143.50 336.80 L144.00 336.80 L144.50 336.80 L145.00 336.80 L145.50 336.80 L146.00 336.80 L146.50 336.80 L147.00 336.80 L147.50 336.80 L148.00 336.80 L148.50 336.80 L149.00 336.80 L149.50 336.80 L150.00 336.80 L150.50 336.80 L151.00 336.80 L151.50 336.80 L152.00 336.80 L152.50 336.80 L153.00 336.80 L153.50 336.80 L154.00 336.80 L154.50 336.80 L155.00 336.80 L155.50 336.80 L156.00 336.80 L156.50 336.80 L157.00 336.80 L157.50 336.80 L158.00 336.80 L158.50 336.80 L159.00 336.80 L159.50 336.80 L160.00 336.80 L160.50 336.80 L161.00 336.80 L161.50 336.80 L162.00 336.80 L162.50 336.80 L163.00 336.80 L163.50 336.80 L164.00 336.80 L164.50 336.80 L165.00 336.80 L165.50 336.80 L166.00 336.80 L166.50 336.80 L167.00 336.80 L167.50 336.80 L168.00 336.80 L168.50 336.80 L169.00 336.80 L169.50 336.80 L170.00 336.80 L170.50 336.80 L171.00 336.80 L171.00 336.80 Z" fill="#e3261c"/>
<path d="M90.00 336.80 L90.00 336.80 L90.50 336.80 L91.00 336.80 L91.50 336.80 L92.00 336.80 L92.50 336.80 L93.00 336.80 L93.50 336.80 L94.00 336.80 L94.50 336.80 L95.00 336.80 L95.50 336.80 L96.00 336.80 L96.50 336.80 L97.00 336.80 L97.50 336.80 L98.00 336.80 L98.50 336.80 L99.00 336.80 L99.50 336.80 L100.00 336.80 L100.50 336.80 L101.00 336.80 L101.50 336.80 L102.00 336.80 L102.50 336.80 L103.00 336.80 L103.50 336.80 L104.00 336.80 L104.50 336.80 L105.00 336.80 L105.50 336.80 L106.00 336.80 L106.50 336.80 L107.00 336.80 L107.50 336.80 L108.00 336.80 L108.50 336.80 L109.00 336.80 L109.50 336.80 L110.00 336.80 L110.50 336.80 L111.00 336.80 L111.50 336.80 L112.00 336.80 L112.50 336.80 L113.00 336.80 L113.50 336.80 L114.00 336.80 L114.50 336.80 L115.00 336.80 L115.50 336.80 L116.00 336.80 L116.50 336.80 L117.00 336.80 L117.50 336.80 L118.00 336.80 L118.50 336.80 L119.00 336.80 L119.50 336.80 L120.00 336.80 L120.50 336.80 L121.00 336.80 L121.50 336.80 L122.00 336.80 L122.50 336.80 L123.00 336.80 L123.50 336.80 L124.00 336.80 L124.50 336.80 L125.00 336.80 L125.50 336.80 L126.00 336.80 L126.50 336.80 L127.00 336.80 L127.50 336.80 L128.00 336.80 L128.50 336.80 L129.00 336.80 L129.50 336.80 L130.00 336.80 L130.50 336.80 L131.00 336.80 L131.50 336.80 L132.00 336.80 L132.50 336.80 L133.00 336.80 L133.50 336.80 L134.00 336.80 L134.50 336.80 L135.00 336.80 L135.50 336.80 L136.00 336.80 L136.50 336.80 L137.00 336.80 L137.50 336.80 L138.00 336.80 L138.50 336.80 L139.00 336.80 L139.50 336.80 L140.00 336.79 L140.50 336.79 L141.00 336.78 L141.50 336.77 L142.00 336.76 L142.50 336.73 L143.00 336.70 L143.50 336.66 L144.00 336.61 L144.50 336.54 L145.00 336.46 L145.50 336.37 L146.00 336.26 L146.50 336.13 L147.00 336.00 L147.50 335.87 L148.00 335.74 L148.50 335.63 L149.00 335.53 L149.50 335.45 L150.00 335.41 L150.50 335.40 L151.00 335.42 L151.50 335.48 L152.00 335.56 L152.50 335.67 L153.00 335.79 L153.50 335.92 L154.00 336.06 L154.50 336.18 L155.00 336.30 L155.50 336.41 L156.00 336.50 L156.50 336.57 L157.00 336.63 L157.50 336.68 L158.00 336.72 L158.50 336.74 L159.00 336.76 L159.50 336.78 L160.00 336.78 L160.50 336.79 L161.00 336.79 L161.50 336.80 L162.00 336.80 L162.50 336.80 L163.00 336.80 L163.50 336.80 L164.00 336.80 L164.50 336.80 L165.00 336.80 L165.50 336.80 L166.00 336.80 L166.50 336.80 L167.00 336.80 L167.50 336.80 L168.00 336.80 L168.50 336.80 L169.00 336.80 L169.50 336.80 L170.00 336.80 L170.50 336.80 L171.00 336.80 L171.00 336.80 Z" fill="#e3261c"/>
<path d="M90.00 336.80 L90.00 336.80 L90.50 336.80 L91.00 336.80 L91.50 336.80 L92.00 336.80 L92.50 336.80 L93.00 336.80 L93.50 336.80 L94.00 336.80 L94.50 336.80 L95.00 336.80 L95.50 336.80 L96.00 336.80 L96.50 336.80 L97.00 336.80 L97.50 336.80 L98.00 336.80 L98.50 336.80 L99.00 336.80 L99.50 336.80 L100.00 336.80 L100.50 336.80 L101.00 336.80 L101.50 336.80 L102.00 336.80 L102.50 336.80 L103.00 336.80 L103.50 336.80 L104.00 336.80 L104.50 336.80 L105.00 336.80 L105.50 336.80 L106.00 336.80 L106.50 336.80 L107.00 336.80 L107.50 336.80 L108.00 336.80 L108.50 336.80 L109.00 336.80 L109.50 336.80 L110.00 336.80 L110.50 336.80 L111.00 336.80 L111.50 336.80 L112.00 336.80 L112.50 336.80 L113.00 336.80 L113.50 336.80 L114.00 336.80 L114.50 336.80 L115.00 336.80 L115.50 336.80 L116.00 336.80 L116.50 336.80 L117.00 336.01 L117.50 335.23 L118.00 334.44 L118.50 333.65 L119.00 332.87 L119.50 332.08 L120.00 331.29 L120.50 330.51 L121.00 329.72 L121.50 328.93 L122.00 328.15 L122.50 327.36 L123.00 326.57 L123.50 325.79 L124.00 325.00 L124.50 325.43 L125.00 325.85 L125.50 326.28 L126.00 326.71 L126.50 327.13 L127.00 327.56 L127.50 327.99 L128.00 328.41 L128.50 328.83 L129.00 329.25 L129.50 329.67 L130.00 330.08 L130.50 330.50 L131.00 330.92 L131.50 331.33 L132.00 331.75 L132.50 332.07 L133.00 332.24 L133.50 332.41 L134.00 332.58 L134.50 332.75 L135.00 332.92 L135.50 333.09 L136.00 333.26 L136.50 333.43 L137.00 333.59 L137.50 333.76 L138.00 333.89 L138.50 333.82 L139.00 333.76 L139.50 333.70 L140.00 333.64 L140.50 333.57 L141.00 333.51 L141.50 333.45 L142.00 333.39 L142.50 333.32 L143.00 333.26 L143.50 333.20 L144.00 333.11 L144.50 333.02 L145.00 332.92 L145.50 332.83 L146.00 332.74 L146.50 332.65 L147.00 332.56 L147.50 332.47 L148.00 332.37 L148.50 332.35 L149.00 332.63 L149.50 332.90 L150.00 333.17 L150.50 333.44 L151.00 333.71 L151.50 333.98 L152.00 334.26 L152.50 334.53 L153.00 334.80 L153.50 335.05 L154.00 335.30 L154.50 335.55 L155.00 335.80 L155.50 336.05 L156.00 336.30 L156.50 336.55 L157.00 336.80 L157.50 336.80 L158.00 336.80 L158.50 336.80 L159.00 336.80 L159.50 336.80 L160.00 336.80 L160.50 336.80 L161.00 336.80 L161.50 336.80 L162.00 336.80 L162.50 336.80 L163.00 336.80 L163.50 336.80 L164.00 336.80 L164.50 336.80 L165.00 336.80 L165.50 336.80 L166.00 336.80 L166.50 336.80 L167.00 336.80 L167.50 336.80 L168.00 336.80 L168.50 336.80 L169.00 336.80 L169.50 336.80 L170.00 336.80 L170.50 336.80 L171.00 336.80 L171.00 336.80 Z" fill="#cbcff3" style="mix-blend-mode:multiply"/>
<path d="M90.00 336.50 L90.75 336.50 L91.50 336.50 L92.25 336.50 L93.00 336.50 L93.75 336.50 L94.50 336.50 L95.25 336.50 L96.00 336.50 L96.75 336.50 L97.50 336.50 L98.25 336.50 L99.00 336.50 L99.75 336.50 L100.50 336.50 L101.25 336.50 L102.00 336.50 L102.75 336.50 L103.50 336.50 L104.25 336.50 L105.00 336.50 L105.75 336.50 L106.50 336.50 L107.25 336.26 L108.00 335.94 L108.75 335.62 L109.50 335.60 L110.25 335.60 L111.00 335.60 L111.75 335.60 L112.50 335.64 L113.25 335.78 L114.00 335.33 L114.75 334.68 L115.50 333.14 L116.25 329.71 L117.00 323.37 L117.75 313.60 L118.50 301.45 L119.25 289.01 L120.00 280.82 L120.75 276.49 L121.50 279.74 L122.25 287.16 L123.00 297.07 L123.75 308.43 L124.50 318.34 L125.25 320.31 L126.00 321.87 L126.75 323.90 L127.50 326.00 L128.25 327.41 L129.00 328.48 L129.75 328.53 L130.50 329.37 L131.25 330.42 L132.00 330.85 L132.75 331.71 L133.50 331.90 L134.25 331.92 L135.00 332.45 L135.75 332.60 L136.50 333.01 L137.25 333.37 L138.00 333.37 L138.75 333.35 L139.50 332.87 L140.25 332.95 L141.00 332.88 L141.75 332.44 L142.50 332.47 L143.25 332.23 L144.00 331.70 L144.75 330.82 L145.50 330.28 L146.25 329.81 L147.00 329.20 L147.75 328.76 L148.50 327.55 L149.25 328.58 L150.00 328.80 L150.75 329.97 L151.50 330.66 L152.25 331.37 L153.00 332.36 L153.75 332.89 L154.50 333.96 L155.25 334.80 L156.00 335.60 L156.75 335.82 L157.50 336.05 L158.25 336.28 L159.00 336.46 L159.75 336.48 L160.50 336.49 L161.25 336.50 L162.00 336.50 L162.75 336.50 L163.50 336.50 L164.25 336.50 L165.00 336.50 L165.75 336.50 L166.50 336.50 L167.25 336.50 L168.00 336.50 L168.75 336.50 L169.50 336.50 L170.25 336.50 L171.00 336.50" fill="none" stroke="#2c2c2c" stroke-width="0.7"/>
<path d="M89.0 271.0 V340.0 M85.8 336.8 H172.0" fill="none" stroke="#555" stroke-width="0.6"/>
<line x1="87.7" y1="336.8" x2="89.0" y2="336.8" stroke="#222" stroke-width="0.55"/>
<line x1="87.7" y1="333.7" x2="89.0" y2="333.7" stroke="#222" stroke-width="0.55"/>
<line x1="87.7" y1="330.5" x2="89.0" y2="330.5" stroke="#222" stroke-width="0.55"/>
<line x1="87.7" y1="327.4" x2="89.0" y2="327.4" stroke="#222" stroke-width="0.55"/>
<line x1="87.7" y1="324.3" x2="89.0" y2="324.3" stroke="#222" stroke-width="0.55"/>
<line x1="87.7" y1="321.1" x2="89.0" y2="321.1" stroke="#222" stroke-width="0.55"/>
<line x1="87.7" y1="318.0" x2="89.0" y2="318.0" stroke="#222" stroke-width="0.55"/>
<line x1="87.7" y1="314.9" x2="89.0" y2="314.9" stroke="#222" stroke-width="0.55"/>
<line x1="87.7" y1="311.7" x2="89.0" y2="311.7" stroke="#222" stroke-width="0.55"/>
<line x1="87.7" y1="308.6" x2="89.0" y2="308.6" stroke="#222" stroke-width="0.55"/>
<line x1="87.7" y1="305.5" x2="89.0" y2="305.5" stroke="#222" stroke-width="0.55"/>
<line x1="87.7" y1="302.3" x2="89.0" y2="302.3" stroke="#222" stroke-width="0.55"/>
<line x1="87.7" y1="299.2" x2="89.0" y2="299.2" stroke="#222" stroke-width="0.55"/>
<line x1="87.7" y1="296.1" x2="89.0" y2="296.1" stroke="#222" stroke-width="0.55"/>
<line x1="87.7" y1="292.9" x2="89.0" y2="292.9" stroke="#222" stroke-width="0.55"/>
<line x1="87.7" y1="289.8" x2="89.0" y2="289.8" stroke="#222" stroke-width="0.55"/>
<line x1="87.7" y1="286.7" x2="89.0" y2="286.7" stroke="#222" stroke-width="0.55"/>
<line x1="87.7" y1="283.5" x2="89.0" y2="283.5" stroke="#222" stroke-width="0.55"/>
<line x1="87.7" y1="280.4" x2="89.0" y2="280.4" stroke="#222" stroke-width="0.55"/>
<line x1="87.7" y1="277.3" x2="89.0" y2="277.3" stroke="#222" stroke-width="0.55"/>
<line x1="87.7" y1="274.1" x2="89.0" y2="274.1" stroke="#222" stroke-width="0.55"/>
<line x1="87.7" y1="271.0" x2="89.0" y2="271.0" stroke="#222" stroke-width="0.55"/>
<line x1="89.0" y1="336.8" x2="89.0" y2="338.1" stroke="#222" stroke-width="0.55"/>
<line x1="92.8" y1="336.8" x2="92.8" y2="338.1" stroke="#222" stroke-width="0.55"/>
<line x1="96.5" y1="336.8" x2="96.5" y2="338.1" stroke="#222" stroke-width="0.55"/>
<line x1="100.3" y1="336.8" x2="100.3" y2="338.1" stroke="#222" stroke-width="0.55"/>
<line x1="104.1" y1="336.8" x2="104.1" y2="338.1" stroke="#222" stroke-width="0.55"/>
<line x1="107.9" y1="336.8" x2="107.9" y2="338.1" stroke="#222" stroke-width="0.55"/>
<line x1="111.6" y1="336.8" x2="111.6" y2="338.1" stroke="#222" stroke-width="0.55"/>
<line x1="115.4" y1="336.8" x2="115.4" y2="338.1" stroke="#222" stroke-width="0.55"/>
<line x1="119.2" y1="336.8" x2="119.2" y2="338.1" stroke="#222" stroke-width="0.55"/>
<line x1="123.0" y1="336.8" x2="123.0" y2="338.1" stroke="#222" stroke-width="0.55"/>
<line x1="126.7" y1="336.8" x2="126.7" y2="338.1" stroke="#222" stroke-width="0.55"/>
<line x1="130.5" y1="336.8" x2="130.5" y2="338.1" stroke="#222" stroke-width="0.55"/>
<line x1="134.3" y1="336.8" x2="134.3" y2="338.1" stroke="#222" stroke-width="0.55"/>
<line x1="138.0" y1="336.8" x2="138.0" y2="338.1" stroke="#222" stroke-width="0.55"/>
<line x1="141.8" y1="336.8" x2="141.8" y2="338.1" stroke="#222" stroke-width="0.55"/>
<line x1="145.6" y1="336.8" x2="145.6" y2="338.1" stroke="#222" stroke-width="0.55"/>
<line x1="149.4" y1="336.8" x2="149.4" y2="338.1" stroke="#222" stroke-width="0.55"/>
<line x1="153.1" y1="336.8" x2="153.1" y2="338.1" stroke="#222" stroke-width="0.55"/>
<line x1="156.9" y1="336.8" x2="156.9" y2="338.1" stroke="#222" stroke-width="0.55"/>
<line x1="160.7" y1="336.8" x2="160.7" y2="338.1" stroke="#222" stroke-width="0.55"/>
<line x1="164.5" y1="336.8" x2="164.5" y2="338.1" stroke="#222" stroke-width="0.55"/>
<line x1="168.2" y1="336.8" x2="168.2" y2="338.1" stroke="#222" stroke-width="0.55"/>
<line x1="172.0" y1="336.8" x2="172.0" y2="338.1" stroke="#222" stroke-width="0.55"/>
<path d="M120.3 337.3 l1.3 2.4 h-2.6 z" fill="#000"/>
<path d="M150.4 337.3 l1.3 2.4 h-2.6 z" fill="#000"/>
<rect x="88.2" y="339.8" width="1.6" height="0.9" fill="#777"/>
<rect x="104.4" y="339.8" width="2.4" height="0.9" fill="#777"/>
<rect x="121.0" y="339.8" width="2.4" height="0.9" fill="#777"/>
<rect x="137.6" y="339.8" width="2.4" height="0.9" fill="#777"/>
<rect x="154.2" y="339.8" width="2.4" height="0.9" fill="#777"/>
<rect x="170.8" y="339.8" width="2.4" height="0.9" fill="#777"/>
<rect x="85.0" y="316.5" width="1.3" height="3.6" fill="#a0a0a0"/>
<rect x="85.0" y="298.0" width="1.3" height="3.6" fill="#a0a0a0"/>
<rect x="85.0" y="279.5" width="1.3" height="3.6" fill="#a0a0a0"/>
<text transform="translate(80.3 302.5) rotate(-90)" font-size="5.0" text-anchor="middle" fill="#1a1a1a" stroke="#1a1a1a" stroke-width="0.18" textLength="17.5" lengthAdjust="spacingAndGlyphs">Number</text>
<text x="126.0" y="349.0" font-size="4.5" font-weight="bold" fill="#222" textLength="11.6" lengthAdjust="spacingAndGlyphs">PI-A</text>
<text x="90.4" y="278.5" font-size="5.8" font-weight="bold" fill="#000" stroke="#000" stroke-width="0.3" textLength="43.6" lengthAdjust="spacingAndGlyphs">Combination</text>
<text x="90.4" y="285.7" font-size="5.8" font-weight="bold" fill="#000" stroke="#000" stroke-width="0.3" textLength="11.6" lengthAdjust="spacingAndGlyphs">24h</text>
<rect x="148.0" y="279.8" width="5.2" height="3.4" fill="#e3261c"/>
<rect x="148.0" y="283.6" width="5.2" height="3.3" fill="#e3261c"/>
<path d="M148.3 288.3 l1.3 2.2 M150.0 288.3 l1.3 2.2 M151.7 288.3 l1.3 2.2" stroke="#1a2ac8" stroke-width="0.8"/>
<text x="155.7" y="282.9" font-size="3.5" font-weight="bold" fill="#1428d8" stroke="#1428d8" stroke-width="0.08">G0G1</text>
<text x="155.7" y="286.8" font-size="3.5" font-weight="bold" fill="#1428d8" stroke="#1428d8" stroke-width="0.08">G2M</text>
<text x="155.7" y="290.9" font-size="3.5" font-weight="bold" fill="#1428d8" stroke="#1428d8" stroke-width="0.08">S-Phase</text>
<path d="M187.00 338.30 L187.00 338.30 L187.50 338.30 L188.00 338.30 L188.50 338.30 L189.00 338.30 L189.50 338.30 L190.00 338.30 L190.50 338.30 L191.00 338.30 L191.50 338.30 L192.00 338.30 L192.50 338.30 L193.00 338.30 L193.50 338.30 L194.00 338.30 L194.50 338.30 L195.00 338.30 L195.50 338.30 L196.00 338.30 L196.50 338.30 L197.00 338.30 L197.50 338.30 L198.00 338.30 L198.50 338.30 L199.00 338.30 L199.50 338.30 L200.00 338.30 L200.50 338.30 L201.00 338.30 L201.50 338.30 L202.00 338.30 L202.50 338.30 L203.00 338.30 L203.50 338.30 L204.00 338.30 L204.50 338.30 L205.00 338.30 L205.50 338.30 L206.00 338.30 L206.50 338.30 L207.00 338.30 L207.50 338.30 L208.00 338.30 L208.50 338.30 L209.00 338.30 L209.50 338.30 L210.00 338.30 L210.50 338.30 L211.00 338.29 L211.50 338.26 L212.00 338.18 L212.50 337.99 L213.00 337.55 L213.50 336.62 L214.00 334.85 L214.50 331.82 L215.00 327.12 L215.50 320.62 L216.00 312.65 L216.50 304.18 L217.00 296.66 L217.50 291.71 L218.00 290.48 L218.50 293.29 L219.00 299.45 L219.50 307.54 L220.00 315.97 L220.50 323.43 L221.00 329.22 L221.50 333.21 L222.00 335.69 L222.50 337.07 L223.00 337.77 L223.50 338.09 L224.00 338.22 L224.50 338.27 L225.00 338.29 L225.50 338.30 L226.00 338.30 L226.50 338.30 L227.00 338.30 L227.50 338.30 L228.00 338.30 L228.50 338.30 L229.00 338.30 L229.50 338.30 L230.00 338.30 L230.50 338.30 L231.00 338.30 L231.50 338.30 L232.00 338.30 L232.50 338.30 L233.00 338.30 L233.50 338.30 L234.00 338.30 L234.50 338.30 L235.00 338.30 L235.50 338.30 L236.00 338.30 L236.50 338.30 L237.00 338.30 L237.50 338.30 L238.00 338.30 L238.50 338.30 L239.00 338.30 L239.50 338.30 L240.00 338.30 L240.50 338.30 L241.00 338.30 L241.50 338.30 L242.00 338.30 L242.50 338.30 L243.00 338.30 L243.50 338.30 L244.00 338.30 L244.50 338.30 L245.00 338.30 L245.50 338.30 L246.00 338.30 L246.50 338.30 L247.00 338.30 L247.50 338.30 L248.00 338.30 L248.50 338.30 L249.00 338.30 L249.50 338.30 L250.00 338.30 L250.50 338.30 L251.00 338.30 L251.50 338.30 L252.00 338.30 L252.50 338.30 L253.00 338.30 L253.50 338.30 L254.00 338.30 L254.50 338.30 L255.00 338.30 L255.50 338.30 L256.00 338.30 L256.50 338.30 L257.00 338.30 L257.50 338.30 L258.00 338.30 L258.50 338.30 L259.00 338.30 L259.50 338.30 L260.00 338.30 L260.50 338.30 L261.00 338.30 L261.50 338.30 L262.00 338.30 L262.50 338.30 L263.00 338.30 L263.50 338.30 L264.00 338.30 L264.00 338.30 Z" fill="#e3261c"/>
<path d="M187.00 338.30 L187.00 338.30 L187.50 338.30 L188.00 338.30 L188.50 338.30 L189.00 338.30 L189.50 338.30 L190.00 338.30 L190.50 338.30 L191.00 338.30 L191.50 338.30 L192.00 338.30 L192.50 338.30 L193.00 338.30 L193.50 338.30 L194.00 338.30 L194.50 338.30 L195.00 338.30 L195.50 338.30 L196.00 338.30 L196.50 338.30 L197.00 338.30 L197.50 338.30 L198.00 338.30 L198.50 338.30 L199.00 338.30 L199.50 338.30 L200.00 338.30 L200.50 338.30 L201.00 338.30 L201.50 338.30 L202.00 338.30 L202.50 338.30 L203.00 338.30 L203.50 338.30 L204.00 338.30 L204.50 338.30 L205.00 338.30 L205.50 338.30 L206.00 338.30 L206.50 338.30 L207.00 338.30 L207.50 338.30 L208.00 338.30 L208.50 338.30 L209.00 338.30 L209.50 338.30 L210.00 338.30 L210.50 338.30 L211.00 338.30 L211.50 338.30 L212.00 338.30 L212.50 338.30 L213.00 338.30 L213.50 338.30 L214.00 338.30 L214.50 338.30 L215.00 338.30 L215.50 338.30 L216.00 338.30 L216.50 338.30 L217.00 338.30 L217.50 338.30 L218.00 338.30 L218.50 338.30 L219.00 338.30 L219.50 338.30 L220.00 338.30 L220.50 338.30 L221.00 338.30 L221.50 338.30 L222.00 338.30 L222.50 338.30 L223.00 338.30 L223.50 338.30 L224.00 338.30 L224.50 338.30 L225.00 338.30 L225.50 338.30 L226.00 338.30 L226.50 338.30 L227.00 338.30 L227.50 338.30 L228.00 338.30 L228.50 338.30 L229.00 338.30 L229.50 338.30 L230.00 338.30 L230.50 338.30 L231.00 338.30 L231.50 338.30 L232.00 338.30 L232.50 338.30 L233.00 338.30 L233.50 338.30 L234.00 338.30 L234.50 338.30 L235.00 338.30 L235.50 338.30 L236.00 338.30 L236.50 338.30 L237.00 338.30 L237.50 338.29 L238.00 338.29 L238.50 338.28 L239.00 338.26 L239.50 338.24 L240.00 338.20 L240.50 338.14 L241.00 338.07 L241.50 337.96 L242.00 337.83 L242.50 337.65 L243.00 337.42 L243.50 337.15 L244.00 336.84 L244.50 336.49 L245.00 336.11 L245.50 335.72 L246.00 335.34 L246.50 334.98 L247.00 334.69 L247.50 334.47 L248.00 334.33 L248.50 334.30 L249.00 334.37 L249.50 334.54 L250.00 334.80 L250.50 335.12 L251.00 335.49 L251.50 335.87 L252.00 336.26 L252.50 336.63 L253.00 336.97 L253.50 337.27 L254.00 337.52 L254.50 337.72 L255.00 337.89 L255.50 338.01 L256.00 338.10 L256.50 338.17 L257.00 338.21 L257.50 338.25 L258.00 338.27 L258.50 338.28 L259.00 338.29 L259.50 338.29 L260.00 338.30 L260.50 338.30 L261.00 338.30 L261.50 338.30 L262.00 338.30 L262.50 338.30 L263.00 338.30 L263.50 338.30 L264.00 338.30 L264.00 338.30 Z" fill="#e3261c"/>
<path d="M187.00 338.30 L187.00 338.30 L187.50 338.30 L188.00 338.30 L188.50 338.30 L189.00 338.30 L189.50 338.30 L190.00 338.30 L190.50 338.30 L191.00 338.30 L191.50 338.30 L192.00 338.30 L192.50 338.30 L193.00 338.30 L193.50 338.30 L194.00 338.30 L194.50 338.30 L195.00 338.30 L195.50 338.30 L196.00 338.30 L196.50 338.30 L197.00 338.30 L197.50 338.30 L198.00 338.30 L198.50 338.30 L199.00 338.30 L199.50 338.30 L200.00 338.30 L200.50 338.30 L201.00 338.30 L201.50 338.30 L202.00 338.30 L202.50 338.30 L203.00 338.30 L203.50 338.30 L204.00 338.30 L204.50 338.30 L205.00 338.30 L205.50 338.30 L206.00 338.30 L206.50 338.30 L207.00 338.30 L207.50 338.30 L208.00 338.30 L208.50 338.30 L209.00 338.30 L209.50 338.30 L210.00 338.30 L210.50 338.30 L211.00 338.30 L211.50 338.30 L212.00 338.30 L212.50 338.30 L213.00 338.30 L213.50 338.30 L214.00 338.30 L214.50 338.30 L215.00 338.30 L215.50 338.30 L216.00 338.30 L216.50 338.30 L217.00 338.30 L217.50 336.80 L218.00 335.30 L218.50 333.80 L219.00 332.30 L219.50 330.24 L220.00 328.18 L220.50 326.13 L221.00 324.07 L221.50 322.01 L222.00 322.23 L222.50 323.01 L223.00 323.79 L223.50 324.58 L224.00 325.36 L224.50 326.14 L225.00 326.68 L225.50 327.17 L226.00 327.65 L226.50 328.13 L227.00 328.61 L227.50 329.09 L228.00 329.57 L228.50 330.05 L229.00 330.53 L229.50 331.01 L230.00 331.40 L230.50 331.66 L231.00 331.91 L231.50 332.16 L232.00 332.42 L232.50 332.67 L233.00 332.93 L233.50 333.18 L234.00 333.44 L234.50 333.69 L235.00 333.94 L235.50 334.20 L236.00 334.34 L236.50 334.39 L237.00 334.45 L237.50 334.51 L238.00 334.57 L238.50 334.63 L239.00 334.69 L239.50 334.74 L240.00 334.80 L240.50 334.86 L241.00 334.92 L241.50 334.98 L242.00 335.14 L242.50 335.36 L243.00 335.59 L243.50 335.81 L244.00 336.04 L244.50 336.27 L245.00 336.49 L245.50 336.72 L246.00 336.94 L246.50 337.17 L247.00 337.40 L247.50 337.62 L248.00 337.85 L248.50 338.07 L249.00 338.30 L249.50 338.30 L250.00 338.30 L250.50 338.30 L251.00 338.30 L251.50 338.30 L252.00 338.30 L252.50 338.30 L253.00 338.30 L253.50 338.30 L254.00 338.30 L254.50 338.30 L255.00 338.30 L255.50 338.30 L256.00 338.30 L256.50 338.30 L257.00 338.30 L257.50 338.30 L258.00 338.30 L258.50 338.30 L259.00 338.30 L259.50 338.30 L260.00 338.30 L260.50 338.30 L261.00 338.30 L261.50 338.30 L262.00 338.30 L262.50 338.30 L263.00 338.30 L263.50 338.30 L264.00 338.30 L264.00 338.30 Z" fill="#cbcff3" style="mix-blend-mode:multiply"/>
<path d="M187.00 338.00 L187.75 338.00 L188.50 338.00 L189.25 338.00 L190.00 338.00 L190.75 338.00 L191.50 338.00 L192.25 338.00 L193.00 338.00 L193.75 338.00 L194.50 338.00 L195.25 338.00 L196.00 338.00 L196.75 338.00 L197.50 338.00 L198.25 338.00 L199.00 338.00 L199.75 338.00 L200.50 338.00 L201.25 338.00 L202.00 338.00 L202.75 338.00 L203.50 338.00 L204.25 338.00 L205.00 338.00 L205.75 338.00 L206.50 338.00 L207.25 338.00 L208.00 338.00 L208.75 338.00 L209.50 338.00 L210.25 338.00 L211.00 337.99 L211.75 337.93 L212.50 337.27 L213.25 335.63 L214.00 334.04 L214.75 329.34 L215.50 320.22 L216.25 307.19 L217.00 293.51 L217.75 283.78 L218.50 283.22 L219.25 292.35 L220.00 305.34 L220.75 312.89 L221.50 316.92 L222.25 320.11 L223.00 323.31 L223.75 324.63 L224.50 325.93 L225.25 326.86 L226.00 327.28 L226.75 327.99 L227.50 328.82 L228.25 329.18 L229.00 330.57 L229.75 330.95 L230.50 331.38 L231.25 331.64 L232.00 331.81 L232.75 332.29 L233.50 332.82 L234.25 332.79 L235.00 333.30 L235.75 333.44 L236.50 333.46 L237.25 333.64 L238.00 333.63 L238.75 333.70 L239.50 333.66 L240.25 333.41 L241.00 333.37 L241.75 333.63 L242.50 332.76 L243.25 332.50 L244.00 331.89 L244.75 331.30 L245.50 330.69 L246.25 330.38 L247.00 329.96 L247.75 330.62 L248.50 331.71 L249.25 332.45 L250.00 333.28 L250.75 334.04 L251.50 334.69 L252.25 335.55 L253.00 336.29 L253.75 337.02 L254.50 337.42 L255.25 337.65 L256.00 337.80 L256.75 337.89 L257.50 337.95 L258.25 337.97 L259.00 337.99 L259.75 338.00 L260.50 338.00 L261.25 338.00 L262.00 338.00 L262.75 338.00 L263.50 338.00" fill="none" stroke="#2c2c2c" stroke-width="0.7"/>
<path d="M186.0 276.0 V341.5 M182.8 338.3 H265.0" fill="none" stroke="#555" stroke-width="0.6"/>
<line x1="184.7" y1="338.3" x2="186.0" y2="338.3" stroke="#222" stroke-width="0.55"/>
<line x1="184.7" y1="335.2" x2="186.0" y2="335.2" stroke="#222" stroke-width="0.55"/>
<line x1="184.7" y1="332.1" x2="186.0" y2="332.1" stroke="#222" stroke-width="0.55"/>
<line x1="184.7" y1="329.0" x2="186.0" y2="329.0" stroke="#222" stroke-width="0.55"/>
<line x1="184.7" y1="325.8" x2="186.0" y2="325.8" stroke="#222" stroke-width="0.55"/>
<line x1="184.7" y1="322.7" x2="186.0" y2="322.7" stroke="#222" stroke-width="0.55"/>
<line x1="184.7" y1="319.6" x2="186.0" y2="319.6" stroke="#222" stroke-width="0.55"/>
<line x1="184.7" y1="316.5" x2="186.0" y2="316.5" stroke="#222" stroke-width="0.55"/>
<line x1="184.7" y1="313.4" x2="186.0" y2="313.4" stroke="#222" stroke-width="0.55"/>
<line x1="184.7" y1="310.3" x2="186.0" y2="310.3" stroke="#222" stroke-width="0.55"/>
<line x1="184.7" y1="307.1" x2="186.0" y2="307.1" stroke="#222" stroke-width="0.55"/>
<line x1="184.7" y1="304.0" x2="186.0" y2="304.0" stroke="#222" stroke-width="0.55"/>
<line x1="184.7" y1="300.9" x2="186.0" y2="300.9" stroke="#222" stroke-width="0.55"/>
<line x1="184.7" y1="297.8" x2="186.0" y2="297.8" stroke="#222" stroke-width="0.55"/>
<line x1="184.7" y1="294.7" x2="186.0" y2="294.7" stroke="#222" stroke-width="0.55"/>
<line x1="184.7" y1="291.6" x2="186.0" y2="291.6" stroke="#222" stroke-width="0.55"/>
<line x1="184.7" y1="288.5" x2="186.0" y2="288.5" stroke="#222" stroke-width="0.55"/>
<line x1="184.7" y1="285.3" x2="186.0" y2="285.3" stroke="#222" stroke-width="0.55"/>
<line x1="184.7" y1="282.2" x2="186.0" y2="282.2" stroke="#222" stroke-width="0.55"/>
<line x1="184.7" y1="279.1" x2="186.0" y2="279.1" stroke="#222" stroke-width="0.55"/>
<line x1="184.7" y1="276.0" x2="186.0" y2="276.0" stroke="#222" stroke-width="0.55"/>
<line x1="186.0" y1="338.3" x2="186.0" y2="339.6" stroke="#222" stroke-width="0.55"/>
<line x1="189.8" y1="338.3" x2="189.8" y2="339.6" stroke="#222" stroke-width="0.55"/>
<line x1="193.5" y1="338.3" x2="193.5" y2="339.6" stroke="#222" stroke-width="0.55"/>
<line x1="197.3" y1="338.3" x2="197.3" y2="339.6" stroke="#222" stroke-width="0.55"/>
<line x1="201.0" y1="338.3" x2="201.0" y2="339.6" stroke="#222" stroke-width="0.55"/>
<line x1="204.8" y1="338.3" x2="204.8" y2="339.6" stroke="#222" stroke-width="0.55"/>
<line x1="208.6" y1="338.3" x2="208.6" y2="339.6" stroke="#222" stroke-width="0.55"/>
<line x1="212.3" y1="338.3" x2="212.3" y2="339.6" stroke="#222" stroke-width="0.55"/>
<line x1="216.1" y1="338.3" x2="216.1" y2="339.6" stroke="#222" stroke-width="0.55"/>
<line x1="219.9" y1="338.3" x2="219.9" y2="339.6" stroke="#222" stroke-width="0.55"/>
<line x1="223.6" y1="338.3" x2="223.6" y2="339.6" stroke="#222" stroke-width="0.55"/>
<line x1="227.4" y1="338.3" x2="227.4" y2="339.6" stroke="#222" stroke-width="0.55"/>
<line x1="231.1" y1="338.3" x2="231.1" y2="339.6" stroke="#222" stroke-width="0.55"/>
<line x1="234.9" y1="338.3" x2="234.9" y2="339.6" stroke="#222" stroke-width="0.55"/>
<line x1="238.7" y1="338.3" x2="238.7" y2="339.6" stroke="#222" stroke-width="0.55"/>
<line x1="242.4" y1="338.3" x2="242.4" y2="339.6" stroke="#222" stroke-width="0.55"/>
<line x1="246.2" y1="338.3" x2="246.2" y2="339.6" stroke="#222" stroke-width="0.55"/>
<line x1="250.0" y1="338.3" x2="250.0" y2="339.6" stroke="#222" stroke-width="0.55"/>
<line x1="253.7" y1="338.3" x2="253.7" y2="339.6" stroke="#222" stroke-width="0.55"/>
<line x1="257.5" y1="338.3" x2="257.5" y2="339.6" stroke="#222" stroke-width="0.55"/>
<line x1="261.2" y1="338.3" x2="261.2" y2="339.6" stroke="#222" stroke-width="0.55"/>
<line x1="265.0" y1="338.3" x2="265.0" y2="339.6" stroke="#222" stroke-width="0.55"/>
<path d="M217.9 338.8 l1.3 2.4 h-2.6 z" fill="#000"/>
<path d="M248.4 338.8 l1.3 2.4 h-2.6 z" fill="#000"/>
<rect x="185.2" y="341.3" width="1.6" height="0.9" fill="#777"/>
<rect x="200.6" y="341.3" width="2.4" height="0.9" fill="#777"/>
<rect x="216.4" y="341.3" width="2.4" height="0.9" fill="#777"/>
<rect x="232.2" y="341.3" width="2.4" height="0.9" fill="#777"/>
<rect x="248.0" y="341.3" width="2.4" height="0.9" fill="#777"/>
<rect x="263.8" y="341.3" width="2.4" height="0.9" fill="#777"/>
<rect x="182.0" y="318.0" width="1.3" height="3.6" fill="#a0a0a0"/>
<rect x="182.0" y="299.5" width="1.3" height="3.6" fill="#a0a0a0"/>
<rect x="182.0" y="281.0" width="1.3" height="3.6" fill="#a0a0a0"/>
<text transform="translate(178.3 310.5) rotate(-90)" font-size="5.0" text-anchor="middle" fill="#1a1a1a" stroke="#1a1a1a" stroke-width="0.18" textLength="17.5" lengthAdjust="spacingAndGlyphs">Number</text>
<text x="223.0" y="352.0" font-size="4.5" font-weight="bold" fill="#222" textLength="11.6" lengthAdjust="spacingAndGlyphs">PI-A</text>
<text x="190.4" y="279.9" font-size="5.8" font-weight="bold" fill="#000" stroke="#000" stroke-width="0.3" textLength="43.6" lengthAdjust="spacingAndGlyphs">Combination</text>
<text x="190.4" y="287.1" font-size="5.8" font-weight="bold" fill="#000" stroke="#000" stroke-width="0.3" textLength="11.6" lengthAdjust="spacingAndGlyphs">48h</text>
<rect x="237.0" y="284.2" width="5.2" height="3.4" fill="#e3261c"/>
<rect x="237.0" y="288.0" width="5.2" height="3.3" fill="#e3261c"/>
<path d="M237.3 292.7 l1.3 2.2 M239.0 292.7 l1.3 2.2 M240.7 292.7 l1.3 2.2" stroke="#1a2ac8" stroke-width="0.8"/>
<text x="244.7" y="287.3" font-size="3.5" font-weight="bold" fill="#1428d8" stroke="#1428d8" stroke-width="0.08">G0G1</text>
<text x="244.7" y="291.2" font-size="3.5" font-weight="bold" fill="#1428d8" stroke="#1428d8" stroke-width="0.08">G2M</text>
<text x="244.7" y="295.3" font-size="3.5" font-weight="bold" fill="#1428d8" stroke="#1428d8" stroke-width="0.08">S-Phase</text>
<path d="M284.00 337.60 L284.00 337.60 L284.50 337.60 L285.00 337.60 L285.50 337.60 L286.00 337.60 L286.50 337.60 L287.00 337.60 L287.50 337.60 L288.00 337.60 L288.50 337.60 L289.00 337.60 L289.50 337.60 L290.00 337.60 L290.50 337.60 L291.00 337.60 L291.50 337.60 L292.00 337.60 L292.50 337.60 L293.00 337.60 L293.50 337.60 L294.00 337.60 L294.50 337.60 L295.00 337.60 L295.50 337.60 L296.00 337.60 L296.50 337.60 L297.00 337.60 L297.50 337.59 L298.00 337.58 L298.50 337.56 L299.00 337.51 L299.50 337.41 L300.00 337.21 L300.50 336.86 L301.00 336.25 L301.50 335.25 L302.00 333.70 L302.50 331.43 L303.00 328.29 L303.50 324.20 L304.00 319.21 L304.50 313.53 L305.00 307.54 L305.50 301.80 L306.00 296.93 L306.50 293.53 L307.00 292.04 L307.50 292.75 L308.00 295.66 L308.50 300.36 L309.00 306.19 L309.50 312.45 L310.00 318.47 L310.50 323.79 L311.00 328.13 L311.50 331.43 L312.00 333.78 L312.50 335.36 L313.00 336.35 L313.50 336.94 L314.00 337.27 L314.50 337.44 L315.00 337.53 L315.50 337.57 L316.00 337.59 L316.50 337.60 L317.00 337.60 L317.50 337.60 L318.00 337.60 L318.50 337.60 L319.00 337.60 L319.50 337.60 L320.00 337.60 L320.50 337.60 L321.00 337.60 L321.50 337.60 L322.00 337.60 L322.50 337.60 L323.00 337.60 L323.50 337.60 L324.00 337.60 L324.50 337.60 L325.00 337.60 L325.50 337.60 L326.00 337.60 L326.50 337.60 L327.00 337.60 L327.50 337.60 L328.00 337.60 L328.50 337.60 L329.00 337.60 L329.50 337.60 L330.00 337.60 L330.50 337.60 L331.00 337.60 L331.50 337.60 L332.00 337.60 L332.50 337.60 L333.00 337.60 L333.50 337.60 L334.00 337.60 L334.50 337.60 L335.00 337.60 L335.50 337.60 L336.00 337.60 L336.50 337.60 L337.00 337.60 L337.50 337.60 L338.00 337.60 L338.50 337.60 L339.00 337.60 L339.50 337.60 L340.00 337.60 L340.50 337.60 L341.00 337.60 L341.50 337.60 L342.00 337.60 L342.50 337.60 L343.00 337.60 L343.50 337.60 L344.00 337.60 L344.50 337.60 L345.00 337.60 L345.50 337.60 L346.00 337.60 L346.50 337.60 L347.00 337.60 L347.50 337.60 L348.00 337.60 L348.50 337.60 L349.00 337.60 L349.50 337.60 L350.00 337.60 L350.50 337.60 L351.00 337.60 L351.50 337.60 L352.00 337.60 L352.50 337.60 L353.00 337.60 L353.50 337.60 L354.00 337.60 L354.50 337.60 L355.00 337.60 L355.50 337.60 L356.00 337.60 L356.50 337.60 L357.00 337.60 L357.50 337.60 L358.00 337.60 L358.50 337.60 L359.00 337.60 L359.50 337.60 L360.00 337.60 L360.00 337.60 Z" fill="#e3261c"/>
<path d="M284.00 337.60 L284.00 337.60 L284.50 337.60 L285.00 337.60 L285.50 337.60 L286.00 337.60 L286.50 337.60 L287.00 337.60 L287.50 337.60 L288.00 337.60 L288.50 337.60 L289.00 337.60 L289.50 337.60 L290.00 337.60 L290.50 337.60 L291.00 337.60 L291.50 337.60 L292.00 337.60 L292.50 337.60 L293.00 337.60 L293.50 337.60 L294.00 337.60 L294.50 337.60 L295.00 337.60 L295.50 337.60 L296.00 337.60 L296.50 337.60 L297.00 337.60 L297.50 337.60 L298.00 337.60 L298.50 337.60 L299.00 337.60 L299.50 337.60 L300.00 337.60 L300.50 337.60 L301.00 337.60 L301.50 337.60 L302.00 337.60 L302.50 337.60 L303.00 337.60 L303.50 337.60 L304.00 337.60 L304.50 337.60 L305.00 337.60 L305.50 337.60 L306.00 337.60 L306.50 337.60 L307.00 337.60 L307.50 337.60 L308.00 337.60 L308.50 337.60 L309.00 337.60 L309.50 337.60 L310.00 337.60 L310.50 337.60 L311.00 337.60 L311.50 337.60 L312.00 337.60 L312.50 337.60 L313.00 337.60 L313.50 337.60 L314.00 337.60 L314.50 337.60 L315.00 337.59 L315.50 337.59 L316.00 337.58 L316.50 337.57 L317.00 337.56 L317.50 337.53 L318.00 337.49 L318.50 337.44 L319.00 337.36 L319.50 337.25 L320.00 337.09 L320.50 336.88 L321.00 336.59 L321.50 336.20 L322.00 335.71 L322.50 335.07 L323.00 334.27 L323.50 333.30 L324.00 332.12 L324.50 330.72 L325.00 329.11 L325.50 327.28 L326.00 325.24 L326.50 323.04 L327.00 320.71 L327.50 318.31 L328.00 315.91 L328.50 313.60 L329.00 311.44 L329.50 309.54 L330.00 307.96 L330.50 306.78 L331.00 306.05 L331.50 305.80 L332.00 306.02 L332.50 306.69 L333.00 307.76 L333.50 309.21 L334.00 310.96 L334.50 312.96 L335.00 315.13 L335.50 317.39 L336.00 319.69 L336.50 321.94 L337.00 324.11 L337.50 326.14 L338.00 328.00 L338.50 329.67 L339.00 331.14 L339.50 332.42 L340.00 333.50 L340.50 334.40 L341.00 335.14 L341.50 335.73 L342.00 336.20 L342.50 336.57 L343.00 336.85 L343.50 337.06 L344.00 337.22 L344.50 337.34 L345.00 337.42 L345.50 337.48 L346.00 337.52 L346.50 337.55 L347.00 337.56 L347.50 337.58 L348.00 337.59 L348.50 337.59 L349.00 337.59 L349.50 337.60 L350.00 337.60 L350.50 337.60 L351.00 337.60 L351.50 337.60 L352.00 337.60 L352.50 337.60 L353.00 337.60 L353.50 337.60 L354.00 337.60 L354.50 337.60 L355.00 337.60 L355.50 337.60 L356.00 337.60 L356.50 337.60 L357.00 337.60 L357.50 337.60 L358.00 337.60 L358.50 337.60 L359.00 337.60 L359.50 337.60 L360.00 337.60 L360.00 337.60 Z" fill="#e3261c"/>
<path d="M284.00 337.60 L284.00 337.60 L284.50 337.60 L285.00 337.60 L285.50 337.60 L286.00 337.60 L286.50 337.60 L287.00 337.60 L287.50 337.60 L288.00 337.60 L288.50 337.60 L289.00 337.60 L289.50 337.60 L290.00 337.60 L290.50 337.60 L291.00 337.60 L291.50 337.60 L292.00 337.60 L292.50 337.60 L293.00 337.60 L293.50 337.60 L294.00 337.60 L294.50 337.60 L295.00 337.60 L295.50 337.60 L296.00 337.60 L296.50 337.60 L297.00 337.60 L297.50 337.60 L298.00 337.60 L298.50 337.60 L299.00 337.60 L299.50 337.60 L300.00 337.60 L300.50 337.60 L301.00 337.60 L301.50 337.60 L302.00 337.60 L302.50 337.60 L303.00 337.60 L303.50 337.60 L304.00 337.60 L304.50 337.60 L305.00 337.60 L305.50 337.60 L306.00 335.96 L306.50 334.32 L307.00 332.68 L307.50 331.04 L308.00 329.40 L308.50 327.76 L309.00 326.12 L309.50 324.48 L310.00 322.84 L310.50 321.20 L311.00 319.56 L311.50 319.42 L312.00 320.29 L312.50 321.15 L313.00 322.02 L313.50 322.88 L314.00 323.75 L314.50 324.61 L315.00 325.48 L315.50 326.35 L316.00 327.21 L316.50 328.08 L317.00 328.94 L317.50 329.81 L318.00 330.67 L318.50 331.54 L319.00 332.41 L319.50 333.27 L320.00 334.14 L320.50 335.00 L321.00 335.87 L321.50 336.73 L322.00 337.60 L322.50 337.60 L323.00 337.60 L323.50 337.60 L324.00 337.60 L324.50 337.60 L325.00 337.60 L325.50 337.60 L326.00 337.60 L326.50 337.60 L327.00 337.60 L327.50 337.60 L328.00 337.60 L328.50 337.60 L329.00 337.60 L329.50 337.60 L330.00 337.60 L330.50 337.60 L331.00 337.60 L331.50 337.60 L332.00 337.60 L332.50 337.60 L333.00 337.60 L333.50 337.60 L334.00 337.60 L334.50 337.60 L335.00 337.60 L335.50 337.60 L336.00 337.60 L336.50 337.60 L337.00 337.60 L337.50 337.60 L338.00 337.60 L338.50 337.60 L339.00 337.60 L339.50 337.60 L340.00 337.60 L340.50 337.60 L341.00 337.60 L341.50 337.60 L342.00 337.60 L342.50 337.60 L343.00 337.60 L343.50 337.60 L344.00 337.60 L344.50 337.60 L345.00 337.60 L345.50 337.60 L346.00 337.60 L346.50 337.60 L347.00 337.60 L347.50 337.60 L348.00 337.60 L348.50 337.60 L349.00 337.60 L349.50 337.60 L350.00 337.60 L350.50 337.60 L351.00 337.60 L351.50 337.60 L352.00 337.60 L352.50 337.60 L353.00 337.60 L353.50 337.60 L354.00 337.60 L354.50 337.60 L355.00 337.60 L355.50 337.60 L356.00 337.60 L356.50 337.60 L357.00 337.60 L357.50 337.60 L358.00 337.60 L358.50 337.60 L359.00 337.60 L359.50 337.60 L360.00 337.60 L360.00 337.60 Z" fill="#cbcff3" style="mix-blend-mode:multiply"/>
<path d="M284.00 337.30 L284.75 337.30 L285.50 337.30 L286.25 337.30 L287.00 337.30 L287.75 337.30 L288.50 337.30 L289.25 337.30 L290.00 337.30 L290.75 337.30 L291.50 337.30 L292.25 337.30 L293.00 337.30 L293.75 337.30 L294.50 337.30 L295.25 337.30 L296.00 337.30 L296.75 337.30 L297.50 337.29 L298.25 337.27 L299.00 337.21 L299.75 336.55 L300.50 335.02 L301.25 331.78 L302.00 327.47 L302.75 318.86 L303.50 308.74 L304.25 297.48 L305.00 286.92 L305.75 278.70 L306.50 277.95 L307.25 282.32 L308.00 287.91 L308.75 292.57 L309.50 293.56 L310.25 297.26 L311.00 300.67 L311.75 304.24 L312.50 308.17 L313.25 310.17 L314.00 314.26 L314.75 316.37 L315.50 319.06 L316.25 321.44 L317.00 321.67 L317.75 323.34 L318.50 325.44 L319.25 325.50 L320.00 325.23 L320.75 323.48 L321.50 323.87 L322.25 322.71 L323.00 320.52 L323.75 322.38 L324.50 318.54 L325.25 314.62 L326.00 309.56 L326.75 306.85 L327.50 304.94 L328.25 303.28 L329.00 301.55 L329.75 302.77 L330.50 303.76 L331.25 306.05 L332.00 305.65 L332.75 307.50 L333.50 308.54 L334.25 310.94 L335.00 314.35 L335.75 317.77 L336.50 321.05 L337.25 324.76 L338.00 328.38 L338.75 330.08 L339.50 332.59 L340.25 333.65 L341.00 334.77 L341.75 335.62 L342.50 336.27 L343.25 336.66 L344.00 336.92 L344.75 337.08 L345.50 337.18 L346.25 337.23 L347.00 337.26 L347.75 337.28 L348.50 337.29 L349.25 337.30 L350.00 337.30 L350.75 337.30 L351.50 337.30 L352.25 337.30 L353.00 337.30 L353.75 337.30 L354.50 337.30 L355.25 337.30 L356.00 337.30 L356.75 337.30 L357.50 337.30 L358.25 337.30 L359.00 337.30 L359.75 337.30" fill="none" stroke="#2c2c2c" stroke-width="0.7"/>
<path d="M283.0 274.0 V340.8 M279.8 337.6 H361.0" fill="none" stroke="#555" stroke-width="0.6"/>
<line x1="281.7" y1="337.6" x2="283.0" y2="337.6" stroke="#222" stroke-width="0.55"/>
<line x1="281.7" y1="334.6" x2="283.0" y2="334.6" stroke="#222" stroke-width="0.55"/>
<line x1="281.7" y1="331.5" x2="283.0" y2="331.5" stroke="#222" stroke-width="0.55"/>
<line x1="281.7" y1="328.5" x2="283.0" y2="328.5" stroke="#222" stroke-width="0.55"/>
<line x1="281.7" y1="325.5" x2="283.0" y2="325.5" stroke="#222" stroke-width="0.55"/>
<line x1="281.7" y1="322.5" x2="283.0" y2="322.5" stroke="#222" stroke-width="0.55"/>
<line x1="281.7" y1="319.4" x2="283.0" y2="319.4" stroke="#222" stroke-width="0.55"/>
<line x1="281.7" y1="316.4" x2="283.0" y2="316.4" stroke="#222" stroke-width="0.55"/>
<line x1="281.7" y1="313.4" x2="283.0" y2="313.4" stroke="#222" stroke-width="0.55"/>
<line x1="281.7" y1="310.3" x2="283.0" y2="310.3" stroke="#222" stroke-width="0.55"/>
<line x1="281.7" y1="307.3" x2="283.0" y2="307.3" stroke="#222" stroke-width="0.55"/>
<line x1="281.7" y1="304.3" x2="283.0" y2="304.3" stroke="#222" stroke-width="0.55"/>
<line x1="281.7" y1="301.3" x2="283.0" y2="301.3" stroke="#222" stroke-width="0.55"/>
<line x1="281.7" y1="298.2" x2="283.0" y2="298.2" stroke="#222" stroke-width="0.55"/>
<line x1="281.7" y1="295.2" x2="283.0" y2="295.2" stroke="#222" stroke-width="0.55"/>
<line x1="281.7" y1="292.2" x2="283.0" y2="292.2" stroke="#222" stroke-width="0.55"/>
<line x1="281.7" y1="289.1" x2="283.0" y2="289.1" stroke="#222" stroke-width="0.55"/>
<line x1="281.7" y1="286.1" x2="283.0" y2="286.1" stroke="#222" stroke-width="0.55"/>
<line x1="281.7" y1="283.1" x2="283.0" y2="283.1" stroke="#222" stroke-width="0.55"/>
<line x1="281.7" y1="280.1" x2="283.0" y2="280.1" stroke="#222" stroke-width="0.55"/>
<line x1="281.7" y1="277.0" x2="283.0" y2="277.0" stroke="#222" stroke-width="0.55"/>
<line x1="281.7" y1="274.0" x2="283.0" y2="274.0" stroke="#222" stroke-width="0.55"/>
<line x1="283.0" y1="337.6" x2="283.0" y2="338.9" stroke="#222" stroke-width="0.55"/>
<line x1="286.7" y1="337.6" x2="286.7" y2="338.9" stroke="#222" stroke-width="0.55"/>
<line x1="290.4" y1="337.6" x2="290.4" y2="338.9" stroke="#222" stroke-width="0.55"/>
<line x1="294.1" y1="337.6" x2="294.1" y2="338.9" stroke="#222" stroke-width="0.55"/>
<line x1="297.9" y1="337.6" x2="297.9" y2="338.9" stroke="#222" stroke-width="0.55"/>
<line x1="301.6" y1="337.6" x2="301.6" y2="338.9" stroke="#222" stroke-width="0.55"/>
<line x1="305.3" y1="337.6" x2="305.3" y2="338.9" stroke="#222" stroke-width="0.55"/>
<line x1="309.0" y1="337.6" x2="309.0" y2="338.9" stroke="#222" stroke-width="0.55"/>
<line x1="312.7" y1="337.6" x2="312.7" y2="338.9" stroke="#222" stroke-width="0.55"/>
<line x1="316.4" y1="337.6" x2="316.4" y2="338.9" stroke="#222" stroke-width="0.55"/>
<line x1="320.1" y1="337.6" x2="320.1" y2="338.9" stroke="#222" stroke-width="0.55"/>
<line x1="323.9" y1="337.6" x2="323.9" y2="338.9" stroke="#222" stroke-width="0.55"/>
<line x1="327.6" y1="337.6" x2="327.6" y2="338.9" stroke="#222" stroke-width="0.55"/>
<line x1="331.3" y1="337.6" x2="331.3" y2="338.9" stroke="#222" stroke-width="0.55"/>
<line x1="335.0" y1="337.6" x2="335.0" y2="338.9" stroke="#222" stroke-width="0.55"/>
<line x1="338.7" y1="337.6" x2="338.7" y2="338.9" stroke="#222" stroke-width="0.55"/>
<line x1="342.4" y1="337.6" x2="342.4" y2="338.9" stroke="#222" stroke-width="0.55"/>
<line x1="346.1" y1="337.6" x2="346.1" y2="338.9" stroke="#222" stroke-width="0.55"/>
<line x1="349.9" y1="337.6" x2="349.9" y2="338.9" stroke="#222" stroke-width="0.55"/>
<line x1="353.6" y1="337.6" x2="353.6" y2="338.9" stroke="#222" stroke-width="0.55"/>
<line x1="357.3" y1="337.6" x2="357.3" y2="338.9" stroke="#222" stroke-width="0.55"/>
<line x1="361.0" y1="337.6" x2="361.0" y2="338.9" stroke="#222" stroke-width="0.55"/>
<path d="M307.1 338.1 l1.3 2.4 h-2.6 z" fill="#000"/>
<path d="M331.5 338.1 l1.3 2.4 h-2.6 z" fill="#000"/>
<rect x="282.2" y="340.6" width="1.6" height="0.9" fill="#777"/>
<rect x="297.4" y="340.6" width="2.4" height="0.9" fill="#777"/>
<rect x="313.0" y="340.6" width="2.4" height="0.9" fill="#777"/>
<rect x="328.6" y="340.6" width="2.4" height="0.9" fill="#777"/>
<rect x="344.2" y="340.6" width="2.4" height="0.9" fill="#777"/>
<rect x="359.8" y="340.6" width="2.4" height="0.9" fill="#777"/>
<rect x="279.0" y="317.3" width="1.3" height="3.6" fill="#a0a0a0"/>
<rect x="279.0" y="298.8" width="1.3" height="3.6" fill="#a0a0a0"/>
<rect x="279.0" y="280.3" width="1.3" height="3.6" fill="#a0a0a0"/>
<text transform="translate(273.2 312.0) rotate(-90)" font-size="5.0" text-anchor="middle" fill="#1a1a1a" stroke="#1a1a1a" stroke-width="0.18" textLength="17.5" lengthAdjust="spacingAndGlyphs">Number</text>
<text x="318.0" y="352.0" font-size="4.5" font-weight="bold" fill="#222" textLength="11.6" lengthAdjust="spacingAndGlyphs">PI-A</text>
<text x="284.4" y="277.5" font-size="5.8" font-weight="bold" fill="#000" stroke="#000" stroke-width="0.3" textLength="43.6" lengthAdjust="spacingAndGlyphs">Combination</text>
<text x="284.4" y="284.7" font-size="5.8" font-weight="bold" fill="#000" stroke="#000" stroke-width="0.3" textLength="11.6" lengthAdjust="spacingAndGlyphs">72h</text>
<rect x="334.0" y="279.2" width="5.2" height="3.4" fill="#e3261c"/>
<rect x="334.0" y="283.0" width="5.2" height="3.3" fill="#e3261c"/>
<path d="M334.3 287.7 l1.3 2.2 M336.0 287.7 l1.3 2.2 M337.7 287.7 l1.3 2.2" stroke="#1a2ac8" stroke-width="0.8"/>
<text x="341.7" y="282.3" font-size="3.5" font-weight="bold" fill="#1428d8" stroke="#1428d8" stroke-width="0.08">G0G1</text>
<text x="341.7" y="286.2" font-size="3.5" font-weight="bold" fill="#1428d8" stroke="#1428d8" stroke-width="0.08">G2M</text>
<text x="341.7" y="290.3" font-size="3.5" font-weight="bold" fill="#1428d8" stroke="#1428d8" stroke-width="0.08">S-Phase</text>
<path d="M271 347.8 H310 M338 348 H362" stroke="#e4e4e4" stroke-width="0.9"/>
<text x="214.8" y="381.0" font-family="Liberation Serif" font-size="8.0" text-anchor="middle" fill="#111" stroke="#111" stroke-width="0.25">(B)</text>
<line x1="33.0" y1="409" x2="33.0" y2="520.6" stroke="#666" stroke-width="0.8"/>
<line x1="31.6" y1="520.60" x2="33.0" y2="520.60" stroke="#777" stroke-width="0.45"/>
<line x1="31.6" y1="518.38" x2="33.0" y2="518.38" stroke="#777" stroke-width="0.45"/>
<line x1="31.6" y1="516.15" x2="33.0" y2="516.15" stroke="#777" stroke-width="0.45"/>
<line x1="31.6" y1="513.93" x2="33.0" y2="513.93" stroke="#777" stroke-width="0.45"/>
<line x1="31.6" y1="511.70" x2="33.0" y2="511.70" stroke="#777" stroke-width="0.45"/>
<line x1="31.6" y1="509.48" x2="33.0" y2="509.48" stroke="#777" stroke-width="0.45"/>
<line x1="31.6" y1="507.26" x2="33.0" y2="507.26" stroke="#777" stroke-width="0.45"/>
<line x1="31.6" y1="505.03" x2="33.0" y2="505.03" stroke="#777" stroke-width="0.45"/>
<line x1="31.6" y1="502.81" x2="33.0" y2="502.81" stroke="#777" stroke-width="0.45"/>
<line x1="31.6" y1="500.58" x2="33.0" y2="500.58" stroke="#777" stroke-width="0.45"/>
<line x1="31.6" y1="498.36" x2="33.0" y2="498.36" stroke="#777" stroke-width="0.45"/>
<line x1="31.6" y1="496.14" x2="33.0" y2="496.14" stroke="#777" stroke-width="0.45"/>
<line x1="31.6" y1="493.91" x2="33.0" y2="493.91" stroke="#777" stroke-width="0.45"/>
<line x1="31.6" y1="491.69" x2="33.0" y2="491.69" stroke="#777" stroke-width="0.45"/>
<line x1="31.6" y1="489.46" x2="33.0" y2="489.46" stroke="#777" stroke-width="0.45"/>
<line x1="31.6" y1="487.24" x2="33.0" y2="487.24" stroke="#777" stroke-width="0.45"/>
<line x1="31.6" y1="485.02" x2="33.0" y2="485.02" stroke="#777" stroke-width="0.45"/>
<line x1="31.6" y1="482.79" x2="33.0" y2="482.79" stroke="#777" stroke-width="0.45"/>
<line x1="31.6" y1="480.57" x2="33.0" y2="480.57" stroke="#777" stroke-width="0.45"/>
<line x1="31.6" y1="478.34" x2="33.0" y2="478.34" stroke="#777" stroke-width="0.45"/>
<line x1="31.6" y1="476.12" x2="33.0" y2="476.12" stroke="#777" stroke-width="0.45"/>
<line x1="31.6" y1="473.90" x2="33.0" y2="473.90" stroke="#777" stroke-width="0.45"/>
<line x1="31.6" y1="471.67" x2="33.0" y2="471.67" stroke="#777" stroke-width="0.45"/>
<line x1="31.6" y1="469.45" x2="33.0" y2="469.45" stroke="#777" stroke-width="0.45"/>
<line x1="31.6" y1="467.22" x2="33.0" y2="467.22" stroke="#777" stroke-width="0.45"/>
<line x1="31.6" y1="465.00" x2="33.0" y2="465.00" stroke="#777" stroke-width="0.45"/>
<line x1="31.6" y1="462.78" x2="33.0" y2="462.78" stroke="#777" stroke-width="0.45"/>
<line x1="31.6" y1="460.55" x2="33.0" y2="460.55" stroke="#777" stroke-width="0.45"/>
<line x1="31.6" y1="458.33" x2="33.0" y2="458.33" stroke="#777" stroke-width="0.45"/>
<line x1="31.6" y1="456.10" x2="33.0" y2="456.10" stroke="#777" stroke-width="0.45"/>
<line x1="31.6" y1="453.88" x2="33.0" y2="453.88" stroke="#777" stroke-width="0.45"/>
<line x1="31.6" y1="451.66" x2="33.0" y2="451.66" stroke="#777" stroke-width="0.45"/>
<line x1="31.6" y1="449.43" x2="33.0" y2="449.43" stroke="#777" stroke-width="0.45"/>
<line x1="31.6" y1="447.21" x2="33.0" y2="447.21" stroke="#777" stroke-width="0.45"/>
<line x1="31.6" y1="444.98" x2="33.0" y2="444.98" stroke="#777" stroke-width="0.45"/>
<line x1="31.6" y1="442.76" x2="33.0" y2="442.76" stroke="#777" stroke-width="0.45"/>
<line x1="31.6" y1="440.54" x2="33.0" y2="440.54" stroke="#777" stroke-width="0.45"/>
<line x1="31.6" y1="438.31" x2="33.0" y2="438.31" stroke="#777" stroke-width="0.45"/>
<line x1="31.6" y1="436.09" x2="33.0" y2="436.09" stroke="#777" stroke-width="0.45"/>
<line x1="31.6" y1="433.86" x2="33.0" y2="433.86" stroke="#777" stroke-width="0.45"/>
<line x1="31.6" y1="431.64" x2="33.0" y2="431.64" stroke="#777" stroke-width="0.45"/>
<line x1="31.6" y1="429.42" x2="33.0" y2="429.42" stroke="#777" stroke-width="0.45"/>
<line x1="31.6" y1="427.19" x2="33.0" y2="427.19" stroke="#777" stroke-width="0.45"/>
<line x1="31.6" y1="424.97" x2="33.0" y2="424.97" stroke="#777" stroke-width="0.45"/>
<line x1="31.6" y1="422.74" x2="33.0" y2="422.74" stroke="#777" stroke-width="0.45"/>
<line x1="31.6" y1="420.52" x2="33.0" y2="420.52" stroke="#777" stroke-width="0.45"/>
<line x1="31.6" y1="418.30" x2="33.0" y2="418.30" stroke="#777" stroke-width="0.45"/>
<line x1="31.6" y1="416.07" x2="33.0" y2="416.07" stroke="#777" stroke-width="0.45"/>
<line x1="31.6" y1="413.85" x2="33.0" y2="413.85" stroke="#777" stroke-width="0.45"/>
<line x1="31.6" y1="411.62" x2="33.0" y2="411.62" stroke="#777" stroke-width="0.45"/>
<line x1="31.6" y1="409.40" x2="33.0" y2="409.40" stroke="#777" stroke-width="0.45"/>
<text transform="translate(28.0 522.5) scale(0.86 1)" font-size="5.4" font-weight="bold" text-anchor="end" fill="#222" stroke="#222" stroke-width="0.15">0</text>
<text transform="translate(28.0 511.4) scale(0.86 1)" font-size="5.4" font-weight="bold" text-anchor="end" fill="#222" stroke="#222" stroke-width="0.15">10</text>
<text transform="translate(28.0 500.3) scale(0.86 1)" font-size="5.4" font-weight="bold" text-anchor="end" fill="#222" stroke="#222" stroke-width="0.15">20</text>
<text transform="translate(28.0 489.1) scale(0.86 1)" font-size="5.4" font-weight="bold" text-anchor="end" fill="#222" stroke="#222" stroke-width="0.15">30</text>
<text transform="translate(28.0 478.0) scale(0.86 1)" font-size="5.4" font-weight="bold" text-anchor="end" fill="#222" stroke="#222" stroke-width="0.15">40</text>
<text transform="translate(28.0 466.9) scale(0.86 1)" font-size="5.4" font-weight="bold" text-anchor="end" fill="#222" stroke="#222" stroke-width="0.15">50</text>
<text transform="translate(28.0 455.8) scale(0.86 1)" font-size="5.4" font-weight="bold" text-anchor="end" fill="#222" stroke="#222" stroke-width="0.15">60</text>
<text transform="translate(28.0 444.7) scale(0.86 1)" font-size="5.4" font-weight="bold" text-anchor="end" fill="#222" stroke="#222" stroke-width="0.15">70</text>
<text transform="translate(28.0 433.5) scale(0.86 1)" font-size="5.4" font-weight="bold" text-anchor="end" fill="#222" stroke="#222" stroke-width="0.15">80</text>
<text transform="translate(28.0 422.4) scale(0.86 1)" font-size="5.4" font-weight="bold" text-anchor="end" fill="#222" stroke="#222" stroke-width="0.15">90</text>
<text transform="translate(28.0 411.3) scale(0.86 1)" font-size="5.4" font-weight="bold" text-anchor="end" fill="#222" stroke="#222" stroke-width="0.15">100</text>
<line x1="33.0" y1="520.6" x2="209.0" y2="520.6" stroke="#666" stroke-width="0.8"/>
<line x1="248.0" y1="409" x2="248.0" y2="520.6" stroke="#666" stroke-width="0.8"/>
<line x1="246.6" y1="520.60" x2="248.0" y2="520.60" stroke="#777" stroke-width="0.45"/>
<line x1="246.6" y1="518.38" x2="248.0" y2="518.38" stroke="#777" stroke-width="0.45"/>
<line x1="246.6" y1="516.15" x2="248.0" y2="516.15" stroke="#777" stroke-width="0.45"/>
<line x1="246.6" y1="513.93" x2="248.0" y2="513.93" stroke="#777" stroke-width="0.45"/>
<line x1="246.6" y1="511.70" x2="248.0" y2="511.70" stroke="#777" stroke-width="0.45"/>
<line x1="246.6" y1="509.48" x2="248.0" y2="509.48" stroke="#777" stroke-width="0.45"/>
<line x1="246.6" y1="507.26" x2="248.0" y2="507.26" stroke="#777" stroke-width="0.45"/>
<line x1="246.6" y1="505.03" x2="248.0" y2="505.03" stroke="#777" stroke-width="0.45"/>
<line x1="246.6" y1="502.81" x2="248.0" y2="502.81" stroke="#777" stroke-width="0.45"/>
<line x1="246.6" y1="500.58" x2="248.0" y2="500.58" stroke="#777" stroke-width="0.45"/>
<line x1="246.6" y1="498.36" x2="248.0" y2="498.36" stroke="#777" stroke-width="0.45"/>
<line x1="246.6" y1="496.14" x2="248.0" y2="496.14" stroke="#777" stroke-width="0.45"/>
<line x1="246.6" y1="493.91" x2="248.0" y2="493.91" stroke="#777" stroke-width="0.45"/>
<line x1="246.6" y1="491.69" x2="248.0" y2="491.69" stroke="#777" stroke-width="0.45"/>
<line x1="246.6" y1="489.46" x2="248.0" y2="489.46" stroke="#777" stroke-width="0.45"/>
<line x1="246.6" y1="487.24" x2="248.0" y2="487.24" stroke="#777" stroke-width="0.45"/>
<line x1="246.6" y1="485.02" x2="248.0" y2="485.02" stroke="#777" stroke-width="0.45"/>
<line x1="246.6" y1="482.79" x2="248.0" y2="482.79" stroke="#777" stroke-width="0.45"/>
<line x1="246.6" y1="480.57" x2="248.0" y2="480.57" stroke="#777" stroke-width="0.45"/>
<line x1="246.6" y1="478.34" x2="248.0" y2="478.34" stroke="#777" stroke-width="0.45"/>
<line x1="246.6" y1="476.12" x2="248.0" y2="476.12" stroke="#777" stroke-width="0.45"/>
<line x1="246.6" y1="473.90" x2="248.0" y2="473.90" stroke="#777" stroke-width="0.45"/>
<line x1="246.6" y1="471.67" x2="248.0" y2="471.67" stroke="#777" stroke-width="0.45"/>
<line x1="246.6" y1="469.45" x2="248.0" y2="469.45" stroke="#777" stroke-width="0.45"/>
<line x1="246.6" y1="467.22" x2="248.0" y2="467.22" stroke="#777" stroke-width="0.45"/>
<line x1="246.6" y1="465.00" x2="248.0" y2="465.00" stroke="#777" stroke-width="0.45"/>
<line x1="246.6" y1="462.78" x2="248.0" y2="462.78" stroke="#777" stroke-width="0.45"/>
<line x1="246.6" y1="460.55" x2="248.0" y2="460.55" stroke="#777" stroke-width="0.45"/>
<line x1="246.6" y1="458.33" x2="248.0" y2="458.33" stroke="#777" stroke-width="0.45"/>
<line x1="246.6" y1="456.10" x2="248.0" y2="456.10" stroke="#777" stroke-width="0.45"/>
<line x1="246.6" y1="453.88" x2="248.0" y2="453.88" stroke="#777" stroke-width="0.45"/>
<line x1="246.6" y1="451.66" x2="248.0" y2="451.66" stroke="#777" stroke-width="0.45"/>
<line x1="246.6" y1="449.43" x2="248.0" y2="449.43" stroke="#777" stroke-width="0.45"/>
<line x1="246.6" y1="447.21" x2="248.0" y2="447.21" stroke="#777" stroke-width="0.45"/>
<line x1="246.6" y1="444.98" x2="248.0" y2="444.98" stroke="#777" stroke-width="0.45"/>
<line x1="246.6" y1="442.76" x2="248.0" y2="442.76" stroke="#777" stroke-width="0.45"/>
<line x1="246.6" y1="440.54" x2="248.0" y2="440.54" stroke="#777" stroke-width="0.45"/>
<line x1="246.6" y1="438.31" x2="248.0" y2="438.31" stroke="#777" stroke-width="0.45"/>
<line x1="246.6" y1="436.09" x2="248.0" y2="436.09" stroke="#777" stroke-width="0.45"/>
<line x1="246.6" y1="433.86" x2="248.0" y2="433.86" stroke="#777" stroke-width="0.45"/>
<line x1="246.6" y1="431.64" x2="248.0" y2="431.64" stroke="#777" stroke-width="0.45"/>
<line x1="246.6" y1="429.42" x2="248.0" y2="429.42" stroke="#777" stroke-width="0.45"/>
<line x1="246.6" y1="427.19" x2="248.0" y2="427.19" stroke="#777" stroke-width="0.45"/>
<line x1="246.6" y1="424.97" x2="248.0" y2="424.97" stroke="#777" stroke-width="0.45"/>
<line x1="246.6" y1="422.74" x2="248.0" y2="422.74" stroke="#777" stroke-width="0.45"/>
<line x1="246.6" y1="420.52" x2="248.0" y2="420.52" stroke="#777" stroke-width="0.45"/>
<line x1="246.6" y1="418.30" x2="248.0" y2="418.30" stroke="#777" stroke-width="0.45"/>
<line x1="246.6" y1="416.07" x2="248.0" y2="416.07" stroke="#777" stroke-width="0.45"/>
<line x1="246.6" y1="413.85" x2="248.0" y2="413.85" stroke="#777" stroke-width="0.45"/>
<line x1="246.6" y1="411.62" x2="248.0" y2="411.62" stroke="#777" stroke-width="0.45"/>
<line x1="246.6" y1="409.40" x2="248.0" y2="409.40" stroke="#777" stroke-width="0.45"/>
<text transform="translate(243.0 522.5) scale(0.86 1)" font-size="5.4" font-weight="bold" text-anchor="end" fill="#222" stroke="#222" stroke-width="0.15">0</text>
<text transform="translate(243.0 511.4) scale(0.86 1)" font-size="5.4" font-weight="bold" text-anchor="end" fill="#222" stroke="#222" stroke-width="0.15">10</text>
<text transform="translate(243.0 500.3) scale(0.86 1)" font-size="5.4" font-weight="bold" text-anchor="end" fill="#222" stroke="#222" stroke-width="0.15">20</text>
<text transform="translate(243.0 489.1) scale(0.86 1)" font-size="5.4" font-weight="bold" text-anchor="end" fill="#222" stroke="#222" stroke-width="0.15">30</text>
<text transform="translate(243.0 478.0) scale(0.86 1)" font-size="5.4" font-weight="bold" text-anchor="end" fill="#222" stroke="#222" stroke-width="0.15">40</text>
<text transform="translate(243.0 466.9) scale(0.86 1)" font-size="5.4" font-weight="bold" text-anchor="end" fill="#222" stroke="#222" stroke-width="0.15">50</text>
<text transform="translate(243.0 455.8) scale(0.86 1)" font-size="5.4" font-weight="bold" text-anchor="end" fill="#222" stroke="#222" stroke-width="0.15">60</text>
<text transform="translate(243.0 444.7) scale(0.86 1)" font-size="5.4" font-weight="bold" text-anchor="end" fill="#222" stroke="#222" stroke-width="0.15">70</text>
<text transform="translate(243.0 433.5) scale(0.86 1)" font-size="5.4" font-weight="bold" text-anchor="end" fill="#222" stroke="#222" stroke-width="0.15">80</text>
<text transform="translate(243.0 422.4) scale(0.86 1)" font-size="5.4" font-weight="bold" text-anchor="end" fill="#222" stroke="#222" stroke-width="0.15">90</text>
<text transform="translate(243.0 411.3) scale(0.86 1)" font-size="5.4" font-weight="bold" text-anchor="end" fill="#222" stroke="#222" stroke-width="0.15">100</text>
<line x1="248.0" y1="520.6" x2="426.0" y2="520.6" stroke="#666" stroke-width="0.8"/>
<rect x="42.7" y="434.98" width="8.4" height="85.62" fill="#4472c4"/>
<rect x="53.1" y="443.87" width="8.4" height="76.73" fill="#ec7c30"/>
<rect x="63.7" y="456.10" width="8.4" height="64.50" fill="#a3a3a3"/>
<rect x="74.5" y="467.22" width="8.4" height="53.38" fill="#f5c02e"/>
<rect x="101.4" y="502.25" width="8.4" height="18.35" fill="#4472c4"/>
<rect x="111.9" y="493.91" width="8.4" height="26.69" fill="#ec7c30"/>
<rect x="122.4" y="483.35" width="8.4" height="37.25" fill="#a3a3a3"/>
<rect x="133.1" y="467.22" width="8.4" height="53.38" fill="#f5c02e"/>
<rect x="160.2" y="513.93" width="8.4" height="6.67" fill="#4472c4"/>
<rect x="170.8" y="513.37" width="8.4" height="7.23" fill="#ec7c30"/>
<rect x="181.4" y="511.70" width="8.4" height="8.90" fill="#a3a3a3"/>
<rect x="191.9" y="517.26" width="8.4" height="3.34" fill="#f5c02e"/>
<line x1="46.9" y1="432.75" x2="46.9" y2="437.20" stroke="#888" stroke-width="0.5" opacity="0.9"/>
<line x1="57.3" y1="427.19" x2="57.3" y2="460.55" stroke="#888" stroke-width="0.5" opacity="0.9"/>
<line x1="67.9" y1="438.31" x2="67.9" y2="473.90" stroke="#888" stroke-width="0.5" opacity="0.9"/>
<line x1="78.7" y1="457.22" x2="78.7" y2="477.23" stroke="#888" stroke-width="0.5" opacity="0.9"/>
<line x1="105.6" y1="499.47" x2="105.6" y2="505.03" stroke="#888" stroke-width="0.5" opacity="0.9"/>
<line x1="116.1" y1="479.46" x2="116.1" y2="509.48" stroke="#888" stroke-width="0.5" opacity="0.9"/>
<line x1="126.6" y1="471.67" x2="126.6" y2="495.02" stroke="#888" stroke-width="0.5" opacity="0.9"/>
<line x1="137.3" y1="454.99" x2="137.3" y2="480.57" stroke="#888" stroke-width="0.5" opacity="0.9"/>
<line x1="164.4" y1="513.37" x2="164.4" y2="514.48" stroke="#888" stroke-width="0.5" opacity="0.9"/>
<line x1="175.0" y1="506.14" x2="175.0" y2="520.60" stroke="#888" stroke-width="0.5" opacity="0.9"/>
<line x1="185.6" y1="505.03" x2="185.6" y2="518.38" stroke="#888" stroke-width="0.5" opacity="0.9"/>
<line x1="196.1" y1="511.70" x2="196.1" y2="520.60" stroke="#888" stroke-width="0.5" opacity="0.9"/>
<circle cx="78.6" cy="453.5" r="0.85" fill="#111"/>
<circle cx="136.2" cy="451.4" r="0.85" fill="#111"/><circle cx="139.2" cy="451.4" r="0.85" fill="#111"/>
<rect x="257.9" y="434.98" width="8.4" height="85.62" fill="#4472c4"/>
<rect x="268.5" y="473.90" width="8.4" height="46.70" fill="#ec7c30"/>
<rect x="279.1" y="483.35" width="8.4" height="37.25" fill="#a3a3a3"/>
<rect x="289.8" y="490.02" width="8.4" height="30.58" fill="#f5c02e"/>
<rect x="317.3" y="502.25" width="8.4" height="18.35" fill="#4472c4"/>
<rect x="327.9" y="467.22" width="8.4" height="53.38" fill="#ec7c30"/>
<rect x="338.7" y="492.24" width="8.4" height="28.36" fill="#a3a3a3"/>
<rect x="349.4" y="489.46" width="8.4" height="31.14" fill="#f5c02e"/>
<rect x="376.9" y="513.37" width="8.4" height="7.23" fill="#4472c4"/>
<rect x="387.5" y="510.04" width="8.4" height="10.56" fill="#ec7c30"/>
<rect x="398.3" y="496.69" width="8.4" height="23.91" fill="#a3a3a3"/>
<rect x="409.0" y="458.33" width="8.4" height="62.27" fill="#f5c02e"/>
<line x1="262.1" y1="432.75" x2="262.1" y2="437.20" stroke="#888" stroke-width="0.5" opacity="0.9"/>
<line x1="272.7" y1="466.67" x2="272.7" y2="478.34" stroke="#888" stroke-width="0.5" opacity="0.9"/>
<line x1="283.3" y1="475.01" x2="283.3" y2="488.35" stroke="#888" stroke-width="0.5" opacity="0.9"/>
<line x1="294.0" y1="472.01" x2="294.0" y2="506.14" stroke="#888" stroke-width="0.5" opacity="0.9"/>
<line x1="321.5" y1="498.36" x2="321.5" y2="506.14" stroke="#888" stroke-width="0.5" opacity="0.9"/>
<line x1="332.1" y1="460.55" x2="332.1" y2="473.90" stroke="#888" stroke-width="0.5" opacity="0.9"/>
<line x1="342.9" y1="477.23" x2="342.9" y2="506.14" stroke="#888" stroke-width="0.5" opacity="0.9"/>
<line x1="353.6" y1="480.57" x2="353.6" y2="497.25" stroke="#888" stroke-width="0.5" opacity="0.9"/>
<line x1="381.1" y1="513.04" x2="381.1" y2="513.71" stroke="#888" stroke-width="0.5" opacity="0.9"/>
<line x1="391.7" y1="506.14" x2="391.7" y2="513.93" stroke="#888" stroke-width="0.5" opacity="0.9"/>
<line x1="402.5" y1="492.24" x2="402.5" y2="501.14" stroke="#888" stroke-width="0.5" opacity="0.9"/>
<line x1="413.2" y1="457.77" x2="413.2" y2="458.88" stroke="#888" stroke-width="0.5" opacity="0.9"/>
<circle cx="271.0" cy="465.7" r="0.85" fill="#111"/><circle cx="274.0" cy="465.7" r="0.85" fill="#111"/>
<circle cx="282.1" cy="475.0" r="0.85" fill="#111"/><circle cx="285.1" cy="475.0" r="0.85" fill="#111"/>
<circle cx="293.1" cy="471.9" r="0.85" fill="#111"/><circle cx="296.1" cy="471.9" r="0.85" fill="#111"/>
<circle cx="330.9" cy="458.2" r="0.85" fill="#111"/><circle cx="333.9" cy="458.2" r="0.85" fill="#111"/>
<circle cx="401.2" cy="489.6" r="0.85" fill="#111"/><circle cx="404.2" cy="489.6" r="0.85" fill="#111"/>
<circle cx="411.9" cy="453.6" r="0.85" fill="#111"/><circle cx="414.9" cy="453.6" r="0.85" fill="#111"/>
<text x="106.6" y="401.6" font-size="9.4" font-weight="bold" text-anchor="middle" fill="#111" stroke="#111" stroke-width="0.3" textLength="19" lengthAdjust="spacingAndGlyphs">5-FU</text>
<text x="324.6" y="401.8" font-size="9.4" font-weight="bold" text-anchor="middle" fill="#111" stroke="#111" stroke-width="0.3" textLength="41.2" lengthAdjust="spacingAndGlyphs">Diosmetin</text>
<rect x="177.0" y="398.0" width="3.4" height="3.8" fill="#4472c4"/>
<text x="184.0" y="401.8" font-size="5.4" font-weight="bold" fill="#222" stroke="#222" stroke-width="0.12">Control</text>
<rect x="177.0" y="413.6" width="3.4" height="3.8" fill="#ec7c30"/>
<text x="184.0" y="417.4" font-size="5.4" font-weight="bold" fill="#222" stroke="#222" stroke-width="0.12">24 h</text>
<rect x="177.0" y="429.0" width="3.4" height="3.8" fill="#a3a3a3"/>
<text x="184.0" y="432.8" font-size="5.4" font-weight="bold" fill="#222" stroke="#222" stroke-width="0.12">48 h</text>
<rect x="177.0" y="444.0" width="3.4" height="3.8" fill="#f5c02e"/>
<text x="184.0" y="447.8" font-size="5.4" font-weight="bold" fill="#222" stroke="#222" stroke-width="0.12">72 h</text>
<rect x="391.0" y="397.0" width="3.4" height="3.8" fill="#4472c4"/>
<text x="398.0" y="400.8" font-size="5.4" font-weight="bold" fill="#222" stroke="#222" stroke-width="0.12">Control</text>
<rect x="391.0" y="412.0" width="3.4" height="3.8" fill="#ec7c30"/>
<text x="398.0" y="415.8" font-size="5.4" font-weight="bold" fill="#222" stroke="#222" stroke-width="0.12">24 h</text>
<rect x="391.0" y="427.6" width="3.4" height="3.8" fill="#a3a3a3"/>
<text x="398.0" y="431.4" font-size="5.4" font-weight="bold" fill="#222" stroke="#222" stroke-width="0.12">48 h</text>
<rect x="391.0" y="442.0" width="3.4" height="3.8" fill="#f5c02e"/>
<text x="398.0" y="445.8" font-size="5.4" font-weight="bold" fill="#222" stroke="#222" stroke-width="0.12">72 h</text>
<text transform="translate(8.0 454.4) rotate(-90)" font-size="6.3" font-weight="bold" text-anchor="middle" fill="#111" stroke="#111" stroke-width="0.15" textLength="49" lengthAdjust="spacingAndGlyphs">Cell number (%)</text>
<text transform="translate(227.4 451.5) rotate(-90)" font-size="6.3" font-weight="bold" text-anchor="middle" fill="#111" stroke="#111" stroke-width="0.15" textLength="49" lengthAdjust="spacingAndGlyphs">Cell number (%)</text>
<text x="63.0" y="530.5" font-size="5" font-weight="bold" text-anchor="middle" fill="#222">G1</text>
<text x="121.0" y="530.5" font-size="5" font-weight="bold" text-anchor="middle" fill="#222">S</text>
<text x="180.0" y="530.5" font-size="5" font-weight="bold" text-anchor="middle" fill="#222">G2/M</text>
<text x="278.0" y="530.5" font-size="5" font-weight="bold" text-anchor="middle" fill="#222">G1</text>
<text x="337.0" y="530.5" font-size="5" font-weight="bold" text-anchor="middle" fill="#222">S</text>
<text x="397.0" y="530.5" font-size="5" font-weight="bold" text-anchor="middle" fill="#222">G2/M</text>
<text x="118.8" y="545" font-size="6.4" font-weight="bold" text-anchor="middle" fill="#111" stroke="#111" stroke-width="0.15" textLength="47" lengthAdjust="spacingAndGlyphs">Cell cycle phases</text>
<text x="336.0" y="545" font-size="6.4" font-weight="bold" text-anchor="middle" fill="#111" stroke="#111" stroke-width="0.15" textLength="47" lengthAdjust="spacingAndGlyphs">Cell cycle phases</text>
</svg></body></html>
